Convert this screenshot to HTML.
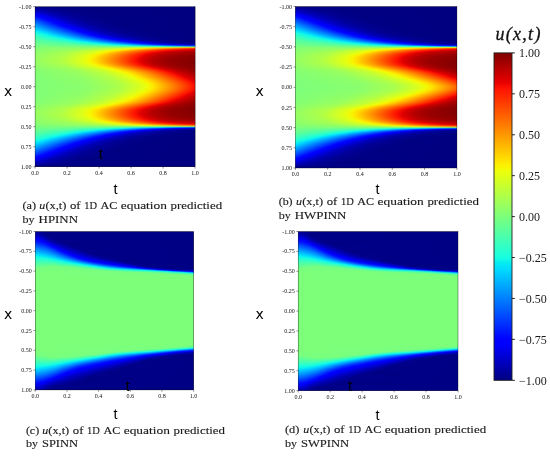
<!DOCTYPE html>
<html lang="en"><head><meta charset="utf-8"><title>u(x,t) of 1D AC equation</title>
<style>html,body{margin:0;padding:0;background:#fff}svg{display:block}</style></head>
<body><svg width="550" height="457" viewBox="0 0 550 457">
<defs><linearGradient id="a0"><stop offset="0" stop-color="#000084"/><stop offset="1" stop-color="#000080"/></linearGradient><linearGradient id="a1"><stop offset="0" stop-color="#000092"/><stop offset=".156" stop-color="#000084"/><stop offset="1" stop-color="#000080"/></linearGradient><linearGradient id="a2"><stop offset="0" stop-color="#0000a4"/><stop offset=".1" stop-color="#00008d"/><stop offset=".294" stop-color="#000080"/><stop offset="1" stop-color="#000080"/></linearGradient><linearGradient id="a3"><stop offset="0" stop-color="#0000b6"/><stop offset=".088" stop-color="#000096"/><stop offset=".231" stop-color="#000084"/><stop offset="1" stop-color="#000080"/></linearGradient><linearGradient id="a4"><stop offset="0" stop-color="#0000c4"/><stop offset=".1" stop-color="#00009b"/><stop offset=".219" stop-color="#000089"/><stop offset=".406" stop-color="#000080"/><stop offset="1" stop-color="#000080"/></linearGradient><linearGradient id="a5"><stop offset="0" stop-color="#0000d6"/><stop offset=".094" stop-color="#0000a4"/><stop offset=".225" stop-color="#000089"/><stop offset=".45" stop-color="#000080"/><stop offset="1" stop-color="#000080"/></linearGradient><linearGradient id="a6"><stop offset="0" stop-color="#0000e8"/><stop offset=".075" stop-color="#0000b6"/><stop offset=".169" stop-color="#000096"/><stop offset=".312" stop-color="#000084"/><stop offset="1" stop-color="#000080"/></linearGradient><linearGradient id="a7"><stop offset="0" stop-color="#0000fa"/><stop offset=".088" stop-color="#0000bb"/><stop offset=".194" stop-color="#000096"/><stop offset=".325" stop-color="#000084"/><stop offset="1" stop-color="#000080"/></linearGradient><linearGradient id="a8"><stop offset="0" stop-color="#0000ff"/><stop offset=".025" stop-color="#0000f6"/><stop offset=".1" stop-color="#0000bf"/><stop offset=".213" stop-color="#000096"/><stop offset=".356" stop-color="#000084"/><stop offset="1" stop-color="#000080"/></linearGradient><linearGradient id="a9"><stop offset="0" stop-color="#000cff"/><stop offset=".019" stop-color="#0000ff"/><stop offset=".044" stop-color="#0000f6"/><stop offset=".144" stop-color="#0000b2"/><stop offset=".256" stop-color="#000092"/><stop offset=".381" stop-color="#000084"/><stop offset="1" stop-color="#000080"/></linearGradient><linearGradient id="a10"><stop offset="0" stop-color="#001cff"/><stop offset=".038" stop-color="#0000ff"/><stop offset=".062" stop-color="#0000f6"/><stop offset=".144" stop-color="#0000bb"/><stop offset=".25" stop-color="#000096"/><stop offset=".381" stop-color="#000084"/><stop offset="1" stop-color="#000080"/></linearGradient><linearGradient id="a11"><stop offset="0" stop-color="#002cff"/><stop offset=".05" stop-color="#0001ff"/><stop offset=".075" stop-color="#0000fa"/><stop offset=".163" stop-color="#0000bb"/><stop offset=".263" stop-color="#000096"/><stop offset=".406" stop-color="#000084"/><stop offset="1" stop-color="#000080"/></linearGradient><linearGradient id="a12"><stop offset="0" stop-color="#003cff"/><stop offset=".069" stop-color="#0000ff"/><stop offset=".088" stop-color="#0000fe"/><stop offset=".188" stop-color="#0000b6"/><stop offset=".3" stop-color="#000092"/><stop offset=".45" stop-color="#000084"/><stop offset="1" stop-color="#000080"/></linearGradient><linearGradient id="a13"><stop offset="0" stop-color="#004cff"/><stop offset=".081" stop-color="#0001ff"/><stop offset=".106" stop-color="#0000fa"/><stop offset=".213" stop-color="#0000b2"/><stop offset=".319" stop-color="#000092"/><stop offset=".456" stop-color="#000084"/><stop offset="1" stop-color="#000080"/></linearGradient><linearGradient id="a14"><stop offset="0" stop-color="#005cff"/><stop offset=".1" stop-color="#0001ff"/><stop offset=".125" stop-color="#0000fa"/><stop offset=".213" stop-color="#0000bb"/><stop offset=".312" stop-color="#000096"/><stop offset=".456" stop-color="#000084"/><stop offset="1" stop-color="#000080"/></linearGradient><linearGradient id="a15"><stop offset="0" stop-color="#006cff"/><stop offset=".113" stop-color="#0005ff"/><stop offset=".138" stop-color="#0000fa"/><stop offset=".238" stop-color="#0000b6"/><stop offset=".331" stop-color="#000096"/><stop offset=".475" stop-color="#000084"/><stop offset="1" stop-color="#000080"/></linearGradient><linearGradient id="a16"><stop offset="0" stop-color="#007cff"/><stop offset=".131" stop-color="#0001ff"/><stop offset=".156" stop-color="#0000fa"/><stop offset=".244" stop-color="#0000bb"/><stop offset=".35" stop-color="#000096"/><stop offset=".481" stop-color="#000084"/><stop offset="1" stop-color="#000080"/></linearGradient><linearGradient id="a17"><stop offset="0" stop-color="#008cff"/><stop offset=".144" stop-color="#0005ff"/><stop offset=".175" stop-color="#0000fa"/><stop offset=".269" stop-color="#0000b6"/><stop offset=".381" stop-color="#000092"/><stop offset=".531" stop-color="#000084"/><stop offset="1" stop-color="#000080"/></linearGradient><linearGradient id="a18"><stop offset="0" stop-color="#009cff"/><stop offset=".163" stop-color="#0001ff"/><stop offset=".188" stop-color="#0000fa"/><stop offset=".288" stop-color="#0000b6"/><stop offset=".381" stop-color="#000096"/><stop offset=".525" stop-color="#000084"/><stop offset="1" stop-color="#000080"/></linearGradient><linearGradient id="a19"><stop offset="0" stop-color="#00acff"/><stop offset=".181" stop-color="#0001ff"/><stop offset=".206" stop-color="#0000fa"/><stop offset=".294" stop-color="#0000bb"/><stop offset=".4" stop-color="#000096"/><stop offset=".544" stop-color="#000084"/><stop offset="1" stop-color="#000080"/></linearGradient><linearGradient id="a20"><stop offset="0" stop-color="#00b8ff"/><stop offset=".131" stop-color="#0040ff"/><stop offset=".2" stop-color="#0001ff"/><stop offset=".225" stop-color="#0000fa"/><stop offset=".312" stop-color="#0000bb"/><stop offset=".4" stop-color="#00009b"/><stop offset=".506" stop-color="#000089"/><stop offset=".706" stop-color="#000080"/><stop offset="1" stop-color="#000080"/></linearGradient><linearGradient id="a21"><stop offset="0" stop-color="#00c8ff"/><stop offset=".106" stop-color="#0069ff"/><stop offset=".219" stop-color="#0001ff"/><stop offset=".244" stop-color="#0000fa"/><stop offset=".338" stop-color="#0000b6"/><stop offset=".438" stop-color="#000096"/><stop offset=".569" stop-color="#000084"/><stop offset="1" stop-color="#000080"/></linearGradient><linearGradient id="a22"><stop offset="0" stop-color="#00d8ff"/><stop offset=".125" stop-color="#0068ff"/><stop offset=".238" stop-color="#0000ff"/><stop offset=".256" stop-color="#0000fe"/><stop offset=".356" stop-color="#0000b6"/><stop offset=".469" stop-color="#000092"/><stop offset=".619" stop-color="#000084"/><stop offset="1" stop-color="#000080"/></linearGradient><linearGradient id="a23"><stop offset="0" stop-color="#00e4f8"/><stop offset=".056" stop-color="#00b9ff"/><stop offset=".256" stop-color="#0000ff"/><stop offset=".275" stop-color="#0000fe"/><stop offset=".375" stop-color="#0000b6"/><stop offset=".488" stop-color="#000092"/><stop offset=".638" stop-color="#000084"/><stop offset="1" stop-color="#000080"/></linearGradient><linearGradient id="a24"><stop offset="0" stop-color="#09f0ee"/><stop offset=".044" stop-color="#00d4ff"/><stop offset=".188" stop-color="#0051ff"/><stop offset=".275" stop-color="#0001ff"/><stop offset=".3" stop-color="#0000fa"/><stop offset=".388" stop-color="#0000bb"/><stop offset=".475" stop-color="#00009b"/><stop offset=".581" stop-color="#000089"/><stop offset=".781" stop-color="#000080"/><stop offset="1" stop-color="#000080"/></linearGradient><linearGradient id="a25"><stop offset="0" stop-color="#13fce4"/><stop offset=".05" stop-color="#00ddfe"/><stop offset=".156" stop-color="#0084ff"/><stop offset=".294" stop-color="#0001ff"/><stop offset=".319" stop-color="#0000fa"/><stop offset=".406" stop-color="#0000bb"/><stop offset=".513" stop-color="#000096"/><stop offset=".656" stop-color="#000084"/><stop offset="1" stop-color="#000080"/></linearGradient><linearGradient id="a26"><stop offset="0" stop-color="#1fffd7"/><stop offset=".031" stop-color="#0ff8e8"/><stop offset=".075" stop-color="#00dcfe"/><stop offset=".206" stop-color="#0068ff"/><stop offset=".306" stop-color="#0009ff"/><stop offset=".338" stop-color="#0000fa"/><stop offset=".438" stop-color="#0000b6"/><stop offset=".55" stop-color="#000092"/><stop offset=".7" stop-color="#000084"/><stop offset="1" stop-color="#000080"/></linearGradient><linearGradient id="a27"><stop offset="0" stop-color="#29ffce"/><stop offset=".056" stop-color="#0ff8e8"/><stop offset=".094" stop-color="#00ddfe"/><stop offset=".2" stop-color="#0084ff"/><stop offset=".338" stop-color="#0001ff"/><stop offset=".363" stop-color="#0000fa"/><stop offset=".444" stop-color="#0000bf"/><stop offset=".556" stop-color="#000096"/><stop offset=".7" stop-color="#000084"/><stop offset="1" stop-color="#000080"/></linearGradient><linearGradient id="a28"><stop offset="0" stop-color="#30ffc7"/><stop offset=".069" stop-color="#13fce4"/><stop offset=".119" stop-color="#00dcfe"/><stop offset=".231" stop-color="#007cff"/><stop offset=".363" stop-color="#0001ff"/><stop offset=".388" stop-color="#0000fa"/><stop offset=".475" stop-color="#0000bb"/><stop offset=".581" stop-color="#000096"/><stop offset=".725" stop-color="#000084"/><stop offset="1" stop-color="#000080"/></linearGradient><linearGradient id="a29"><stop offset="0" stop-color="#39ffbe"/><stop offset=".094" stop-color="#13fce4"/><stop offset=".144" stop-color="#00ddfe"/><stop offset=".231" stop-color="#0094ff"/><stop offset=".388" stop-color="#0001ff"/><stop offset=".413" stop-color="#0000fa"/><stop offset=".494" stop-color="#0000bf"/><stop offset=".606" stop-color="#000096"/><stop offset=".75" stop-color="#000084"/><stop offset="1" stop-color="#000080"/></linearGradient><linearGradient id="a30"><stop offset="0" stop-color="#43ffb4"/><stop offset=".125" stop-color="#12fce4"/><stop offset=".175" stop-color="#00d9ff"/><stop offset=".281" stop-color="#0080ff"/><stop offset=".406" stop-color="#0009ff"/><stop offset=".438" stop-color="#0000fe"/><stop offset=".537" stop-color="#0000b6"/><stop offset=".638" stop-color="#000096"/><stop offset=".769" stop-color="#000084"/><stop offset="1" stop-color="#000080"/></linearGradient><linearGradient id="a31"><stop offset="0" stop-color="#49ffad"/><stop offset=".125" stop-color="#1fffd7"/><stop offset=".163" stop-color="#0ff8e7"/><stop offset=".206" stop-color="#00d9ff"/><stop offset=".319" stop-color="#0079ff"/><stop offset=".444" stop-color="#0001ff"/><stop offset=".469" stop-color="#0000fa"/><stop offset=".569" stop-color="#0000b6"/><stop offset=".669" stop-color="#000096"/><stop offset=".8" stop-color="#000084"/><stop offset="1" stop-color="#000080"/></linearGradient><linearGradient id="a32"><stop offset="0" stop-color="#50ffa7"/><stop offset=".119" stop-color="#30ffc7"/><stop offset=".188" stop-color="#13fce4"/><stop offset=".238" stop-color="#00d9ff"/><stop offset=".344" stop-color="#0080ff"/><stop offset=".469" stop-color="#0009ff"/><stop offset=".5" stop-color="#0000fe"/><stop offset=".594" stop-color="#0000bb"/><stop offset=".7" stop-color="#000096"/><stop offset=".844" stop-color="#000084"/><stop offset="1" stop-color="#000080"/></linearGradient><linearGradient id="a33"><stop offset="0" stop-color="#59ff9d"/><stop offset=".156" stop-color="#30ffc7"/><stop offset=".225" stop-color="#13fce4"/><stop offset=".275" stop-color="#00d9ff"/><stop offset=".363" stop-color="#0090ff"/><stop offset=".506" stop-color="#0009ff"/><stop offset=".537" stop-color="#0000fe"/><stop offset=".631" stop-color="#0000bb"/><stop offset=".738" stop-color="#000096"/><stop offset=".881" stop-color="#000084"/><stop offset="1" stop-color="#000080"/></linearGradient><linearGradient id="a34"><stop offset="0" stop-color="#60ff97"/><stop offset=".181" stop-color="#36ffc1"/><stop offset=".263" stop-color="#13fce4"/><stop offset=".312" stop-color="#00dcfe"/><stop offset=".425" stop-color="#007dff"/><stop offset=".544" stop-color="#000dff"/><stop offset=".562" stop-color="#0001ff"/><stop offset=".588" stop-color="#0000f5"/><stop offset=".675" stop-color="#0000bb"/><stop offset=".781" stop-color="#000096"/><stop offset=".925" stop-color="#000084"/><stop offset="1" stop-color="#000080"/></linearGradient><linearGradient id="a35"><stop offset="0" stop-color="#66ff90"/><stop offset=".188" stop-color="#43ffb4"/><stop offset=".312" stop-color="#13fce4"/><stop offset=".363" stop-color="#00dcfe"/><stop offset=".5" stop-color="#0065ff"/><stop offset=".606" stop-color="#0001ff"/><stop offset=".631" stop-color="#0001fa"/><stop offset=".725" stop-color="#0000bb"/><stop offset=".819" stop-color="#00009b"/><stop offset=".938" stop-color="#000089"/><stop offset="1" stop-color="#000084"/></linearGradient><linearGradient id="a36"><stop offset="0" stop-color="#6aff8d"/><stop offset=".194" stop-color="#50ffa7"/><stop offset=".344" stop-color="#1fffd7"/><stop offset=".375" stop-color="#10f8e7"/><stop offset=".419" stop-color="#01dcfd"/><stop offset=".525" stop-color="#0085ff"/><stop offset=".663" stop-color="#0006ff"/><stop offset=".694" stop-color="#0001fa"/><stop offset=".781" stop-color="#0000c0"/><stop offset=".888" stop-color="#00009b"/><stop offset="1" stop-color="#000089"/></linearGradient><linearGradient id="a37"><stop offset="0" stop-color="#70ff87"/><stop offset=".219" stop-color="#59ff9d"/><stop offset=".388" stop-color="#2cffca"/><stop offset=".444" stop-color="#13fce4"/><stop offset=".494" stop-color="#01dcfd"/><stop offset=".6" stop-color="#0085ff"/><stop offset=".744" stop-color="#0006fe"/><stop offset=".775" stop-color="#0001f9"/><stop offset=".844" stop-color="#0000cd"/><stop offset=".969" stop-color="#0000a0"/><stop offset="1" stop-color="#000097"/></linearGradient><linearGradient id="a38"><stop offset="0" stop-color="#73ff83"/><stop offset=".238" stop-color="#66ff90"/><stop offset=".425" stop-color="#43ffb4"/><stop offset=".556" stop-color="#13fbe4"/><stop offset=".606" stop-color="#01d8fe"/><stop offset=".719" stop-color="#0181fe"/><stop offset=".831" stop-color="#0027fe"/><stop offset=".888" stop-color="#0003fe"/><stop offset=".919" stop-color="#0003f9"/><stop offset="1" stop-color="#0002d1"/></linearGradient><linearGradient id="a39"><stop offset="0" stop-color="#7aff7d"/><stop offset=".388" stop-color="#6dff8a"/><stop offset=".6" stop-color="#4cfeaa"/><stop offset=".769" stop-color="#15fae2"/><stop offset=".825" stop-color="#03def8"/><stop offset=".969" stop-color="#0394fb"/><stop offset="1" stop-color="#0488fb"/></linearGradient><linearGradient id="a40"><stop offset="0" stop-color="#7dff7a"/><stop offset=".5" stop-color="#8aff6d"/><stop offset=".794" stop-color="#affe48"/><stop offset="1" stop-color="#d8fa20"/></linearGradient><linearGradient id="a41"><stop offset="0" stop-color="#80ff77"/><stop offset=".312" stop-color="#90ff66"/><stop offset=".513" stop-color="#b4ff43"/><stop offset=".669" stop-color="#edfe0a"/><stop offset=".713" stop-color="#fee501"/><stop offset=".944" stop-color="#fe6201"/><stop offset="1" stop-color="#fe5000"/></linearGradient><linearGradient id="a42"><stop offset="0" stop-color="#83ff73"/><stop offset=".263" stop-color="#97ff60"/><stop offset=".425" stop-color="#baff3d"/><stop offset=".562" stop-color="#f1fb06"/><stop offset=".606" stop-color="#fee201"/><stop offset=".831" stop-color="#ff4400"/><stop offset=".95" stop-color="#fa1000"/><stop offset="1" stop-color="#ec0500"/></linearGradient><linearGradient id="a43"><stop offset="0" stop-color="#87ff70"/><stop offset=".219" stop-color="#9aff5d"/><stop offset=".381" stop-color="#c1ff36"/><stop offset=".494" stop-color="#f1fc06"/><stop offset=".537" stop-color="#ffe200"/><stop offset=".775" stop-color="#ff3100"/><stop offset=".844" stop-color="#fa0f00"/><stop offset=".9" stop-color="#df0100"/><stop offset="1" stop-color="#c90000"/></linearGradient><linearGradient id="a44"><stop offset="0" stop-color="#8aff6d"/><stop offset=".213" stop-color="#a1ff56"/><stop offset=".381" stop-color="#d1ff26"/><stop offset=".45" stop-color="#f1fc06"/><stop offset=".494" stop-color="#ffdf00"/><stop offset=".731" stop-color="#ff2900"/><stop offset=".775" stop-color="#fa0f00"/><stop offset=".819" stop-color="#e40000"/><stop offset=".913" stop-color="#c40000"/><stop offset="1" stop-color="#b60000"/></linearGradient><linearGradient id="a45"><stop offset="0" stop-color="#8aff6d"/><stop offset=".213" stop-color="#a7ff50"/><stop offset=".363" stop-color="#d7ff20"/><stop offset=".419" stop-color="#f1fc06"/><stop offset=".45" stop-color="#ffe600"/><stop offset=".588" stop-color="#ff7a00"/><stop offset=".706" stop-color="#ff1e00"/><stop offset=".731" stop-color="#fa0f00"/><stop offset=".775" stop-color="#df0000"/><stop offset=".875" stop-color="#bb0000"/><stop offset="1" stop-color="#a80000"/></linearGradient><linearGradient id="a46"><stop offset="0" stop-color="#8dff6a"/><stop offset=".188" stop-color="#a7ff50"/><stop offset=".338" stop-color="#d7ff1f"/><stop offset=".394" stop-color="#f1fc06"/><stop offset=".425" stop-color="#ffe600"/><stop offset=".556" stop-color="#ff7e00"/><stop offset=".688" stop-color="#ff1700"/><stop offset=".731" stop-color="#e40000"/><stop offset=".825" stop-color="#bb0000"/><stop offset=".944" stop-color="#a40000"/><stop offset="1" stop-color="#9f0000"/></linearGradient><linearGradient id="a47"><stop offset="0" stop-color="#8dff6a"/><stop offset=".194" stop-color="#adff49"/><stop offset=".331" stop-color="#deff19"/><stop offset=".381" stop-color="#f4f803"/><stop offset=".406" stop-color="#ffe600"/><stop offset=".55" stop-color="#ff7300"/><stop offset=".65" stop-color="#ff2200"/><stop offset=".675" stop-color="#fa0f00"/><stop offset=".713" stop-color="#e30000"/><stop offset=".788" stop-color="#bb0000"/><stop offset=".888" stop-color="#a40000"/><stop offset="1" stop-color="#960000"/></linearGradient><linearGradient id="a48"><stop offset="0" stop-color="#90ff66"/><stop offset=".181" stop-color="#adff49"/><stop offset=".319" stop-color="#deff19"/><stop offset=".363" stop-color="#f4f803"/><stop offset=".406" stop-color="#ffdb00"/><stop offset=".513" stop-color="#ff8500"/><stop offset=".638" stop-color="#ff1e00"/><stop offset=".656" stop-color="#fe1300"/><stop offset=".688" stop-color="#e40000"/><stop offset=".788" stop-color="#b20000"/><stop offset=".906" stop-color="#9b0000"/><stop offset="1" stop-color="#920000"/></linearGradient><linearGradient id="a49"><stop offset="0" stop-color="#90ff66"/><stop offset=".181" stop-color="#b1ff46"/><stop offset=".325" stop-color="#e4ff13"/><stop offset=".356" stop-color="#f4f802"/><stop offset=".381" stop-color="#ffe600"/><stop offset=".494" stop-color="#ff8d00"/><stop offset=".625" stop-color="#ff1e00"/><stop offset=".644" stop-color="#fe1300"/><stop offset=".675" stop-color="#e40000"/><stop offset=".769" stop-color="#b20000"/><stop offset=".894" stop-color="#960000"/><stop offset="1" stop-color="#8d0000"/></linearGradient><linearGradient id="a50"><stop offset="0" stop-color="#90ff66"/><stop offset=".188" stop-color="#b4ff43"/><stop offset=".338" stop-color="#eeff09"/><stop offset=".363" stop-color="#feed00"/><stop offset=".481" stop-color="#ff9100"/><stop offset=".613" stop-color="#ff2200"/><stop offset=".638" stop-color="#fa0f00"/><stop offset=".675" stop-color="#df0000"/><stop offset=".756" stop-color="#b20000"/><stop offset=".85" stop-color="#9b0000"/><stop offset=".988" stop-color="#8d0000"/><stop offset="1" stop-color="#8d0000"/></linearGradient><linearGradient id="a51"><stop offset="0" stop-color="#94ff63"/><stop offset=".181" stop-color="#b4ff43"/><stop offset=".319" stop-color="#e7ff0f"/><stop offset=".356" stop-color="#fbf100"/><stop offset=".494" stop-color="#ff8200"/><stop offset=".625" stop-color="#ff1300"/><stop offset=".663" stop-color="#e40000"/><stop offset=".719" stop-color="#bf0000"/><stop offset=".825" stop-color="#9b0000"/><stop offset=".994" stop-color="#890000"/><stop offset="1" stop-color="#890000"/></linearGradient><linearGradient id="a52"><stop offset="0" stop-color="#94ff63"/><stop offset=".169" stop-color="#b1ff46"/><stop offset=".294" stop-color="#deff19"/><stop offset=".338" stop-color="#f4f802"/><stop offset=".375" stop-color="#ffe200"/><stop offset=".55" stop-color="#ff4e00"/><stop offset=".625" stop-color="#ff1300"/><stop offset=".656" stop-color="#e40000"/><stop offset=".731" stop-color="#b60000"/><stop offset=".844" stop-color="#960000"/><stop offset=".994" stop-color="#890000"/><stop offset="1" stop-color="#890000"/></linearGradient><linearGradient id="a53"><stop offset="0" stop-color="#94ff63"/><stop offset=".169" stop-color="#b1ff46"/><stop offset=".294" stop-color="#deff19"/><stop offset=".338" stop-color="#f4f802"/><stop offset=".375" stop-color="#ffdf00"/><stop offset=".481" stop-color="#ff8900"/><stop offset=".606" stop-color="#ff1e00"/><stop offset=".631" stop-color="#f60b00"/><stop offset=".663" stop-color="#df0000"/><stop offset=".738" stop-color="#b20000"/><stop offset=".856" stop-color="#920000"/><stop offset="1" stop-color="#840000"/></linearGradient><linearGradient id="a54"><stop offset="0" stop-color="#94ff63"/><stop offset=".169" stop-color="#b1ff46"/><stop offset=".294" stop-color="#deff19"/><stop offset=".338" stop-color="#f1fc06"/><stop offset=".369" stop-color="#ffe600"/><stop offset=".5" stop-color="#ff7a00"/><stop offset=".625" stop-color="#fa0f00"/><stop offset=".663" stop-color="#df0000"/><stop offset=".738" stop-color="#b20000"/><stop offset=".838" stop-color="#960000"/><stop offset=".956" stop-color="#890000"/><stop offset="1" stop-color="#840000"/></linearGradient><linearGradient id="a55"><stop offset="0" stop-color="#94ff63"/><stop offset=".163" stop-color="#adff49"/><stop offset=".306" stop-color="#e1ff16"/><stop offset=".344" stop-color="#f4f802"/><stop offset=".381" stop-color="#ffdf00"/><stop offset=".5" stop-color="#ff7e00"/><stop offset=".625" stop-color="#ff1300"/><stop offset=".663" stop-color="#e40000"/><stop offset=".731" stop-color="#b60000"/><stop offset=".831" stop-color="#960000"/><stop offset=".956" stop-color="#890000"/><stop offset="1" stop-color="#840000"/></linearGradient><linearGradient id="a56"><stop offset="0" stop-color="#90ff66"/><stop offset=".181" stop-color="#b1ff46"/><stop offset=".319" stop-color="#e4ff13"/><stop offset=".35" stop-color="#f4f802"/><stop offset=".388" stop-color="#ffdf00"/><stop offset=".494" stop-color="#ff8900"/><stop offset=".619" stop-color="#ff1e00"/><stop offset=".644" stop-color="#f60b00"/><stop offset=".675" stop-color="#df0000"/><stop offset=".75" stop-color="#b20000"/><stop offset=".844" stop-color="#960000"/><stop offset=".95" stop-color="#890000"/><stop offset="1" stop-color="#840000"/></linearGradient><linearGradient id="a57"><stop offset="0" stop-color="#90ff66"/><stop offset=".181" stop-color="#adff49"/><stop offset=".325" stop-color="#e1ff16"/><stop offset=".363" stop-color="#f4f803"/><stop offset=".406" stop-color="#ffdb00"/><stop offset=".556" stop-color="#ff5d00"/><stop offset=".65" stop-color="#fa0f00"/><stop offset=".688" stop-color="#df0000"/><stop offset=".75" stop-color="#b60000"/><stop offset=".85" stop-color="#960000"/><stop offset="1" stop-color="#840000"/></linearGradient><linearGradient id="a58"><stop offset="0" stop-color="#8dff6a"/><stop offset=".219" stop-color="#b4ff43"/><stop offset=".356" stop-color="#e7ff0f"/><stop offset=".388" stop-color="#f8f500"/><stop offset=".425" stop-color="#ffdb00"/><stop offset=".656" stop-color="#ff1600"/><stop offset=".694" stop-color="#e40000"/><stop offset=".775" stop-color="#b20000"/><stop offset=".869" stop-color="#960000"/><stop offset=".975" stop-color="#890000"/><stop offset="1" stop-color="#840000"/></linearGradient><linearGradient id="a59"><stop offset="0" stop-color="#8dff6a"/><stop offset=".194" stop-color="#a7ff50"/><stop offset=".356" stop-color="#deff19"/><stop offset=".4" stop-color="#f4f803"/><stop offset=".444" stop-color="#ffdb00"/><stop offset=".594" stop-color="#ff5d00"/><stop offset=".688" stop-color="#fa0f00"/><stop offset=".725" stop-color="#da0000"/><stop offset=".819" stop-color="#a90000"/><stop offset=".913" stop-color="#920000"/><stop offset="1" stop-color="#840000"/></linearGradient><linearGradient id="a60"><stop offset="0" stop-color="#8aff6d"/><stop offset=".2" stop-color="#a4ff53"/><stop offset=".344" stop-color="#ceff29"/><stop offset=".419" stop-color="#f1fc06"/><stop offset=".463" stop-color="#ffde00"/><stop offset=".581" stop-color="#ff7e00"/><stop offset=".7" stop-color="#ff1700"/><stop offset=".738" stop-color="#e40000"/><stop offset=".819" stop-color="#b20000"/><stop offset=".931" stop-color="#920000"/><stop offset="1" stop-color="#890000"/></linearGradient><linearGradient id="a61"><stop offset="0" stop-color="#8aff6d"/><stop offset=".2" stop-color="#9dff59"/><stop offset=".363" stop-color="#caff2c"/><stop offset=".45" stop-color="#f1fc06"/><stop offset=".481" stop-color="#ffe600"/><stop offset=".606" stop-color="#ff7e00"/><stop offset=".731" stop-color="#fe1300"/><stop offset=".775" stop-color="#db0000"/><stop offset=".869" stop-color="#a90000"/><stop offset=".981" stop-color="#8d0000"/><stop offset="1" stop-color="#890000"/></linearGradient><linearGradient id="a62"><stop offset="0" stop-color="#87ff70"/><stop offset=".225" stop-color="#9dff59"/><stop offset=".381" stop-color="#c7ff30"/><stop offset=".475" stop-color="#f1fc06"/><stop offset=".519" stop-color="#ffde00"/><stop offset=".65" stop-color="#ff6f00"/><stop offset=".763" stop-color="#fa0f00"/><stop offset=".8" stop-color="#df0000"/><stop offset=".881" stop-color="#ad0000"/><stop offset=".988" stop-color="#920000"/><stop offset="1" stop-color="#8d0000"/></linearGradient><linearGradient id="a63"><stop offset="0" stop-color="#84ff73"/><stop offset=".256" stop-color="#9dff59"/><stop offset=".419" stop-color="#caff2c"/><stop offset=".5" stop-color="#f1fc06"/><stop offset=".544" stop-color="#ffde00"/><stop offset=".656" stop-color="#ff8200"/><stop offset=".781" stop-color="#ff1600"/><stop offset=".819" stop-color="#e40000"/><stop offset=".888" stop-color="#b60000"/><stop offset=".988" stop-color="#960000"/><stop offset="1" stop-color="#920000"/></linearGradient><linearGradient id="a64"><stop offset="0" stop-color="#83ff73"/><stop offset=".263" stop-color="#9aff5d"/><stop offset=".425" stop-color="#c4ff33"/><stop offset=".525" stop-color="#f1fc06"/><stop offset=".569" stop-color="#ffde00"/><stop offset=".694" stop-color="#ff7700"/><stop offset=".8" stop-color="#ff1a00"/><stop offset=".844" stop-color="#e30000"/><stop offset=".913" stop-color="#b60000"/><stop offset="1" stop-color="#960000"/></linearGradient><linearGradient id="a65"><stop offset="0" stop-color="#83ff73"/><stop offset=".231" stop-color="#94ff63"/><stop offset=".406" stop-color="#b7ff40"/><stop offset=".525" stop-color="#e7ff0f"/><stop offset=".569" stop-color="#feed00"/><stop offset=".694" stop-color="#ff8900"/><stop offset=".825" stop-color="#ff1600"/><stop offset=".863" stop-color="#e40000"/><stop offset=".931" stop-color="#b60000"/><stop offset="1" stop-color="#9b0000"/></linearGradient><linearGradient id="a66"><stop offset="0" stop-color="#83ff73"/><stop offset=".25" stop-color="#94ff63"/><stop offset=".431" stop-color="#baff3c"/><stop offset=".562" stop-color="#f1fc06"/><stop offset=".606" stop-color="#ffde00"/><stop offset=".725" stop-color="#ff7a00"/><stop offset=".85" stop-color="#fa0f00"/><stop offset=".888" stop-color="#df0000"/><stop offset=".95" stop-color="#b60000"/><stop offset="1" stop-color="#a40000"/></linearGradient><linearGradient id="a67"><stop offset="0" stop-color="#83ff73"/><stop offset=".263" stop-color="#94ff63"/><stop offset=".438" stop-color="#b7ff40"/><stop offset=".556" stop-color="#e7ff0f"/><stop offset=".6" stop-color="#feed00"/><stop offset=".713" stop-color="#ff9400"/><stop offset=".856" stop-color="#ff1600"/><stop offset=".894" stop-color="#e40000"/><stop offset=".975" stop-color="#b20000"/><stop offset="1" stop-color="#a80000"/></linearGradient><linearGradient id="a68"><stop offset="0" stop-color="#80ff76"/><stop offset=".3" stop-color="#97ff60"/><stop offset=".475" stop-color="#beff39"/><stop offset=".594" stop-color="#f1fc06"/><stop offset=".625" stop-color="#ffe600"/><stop offset=".744" stop-color="#ff8500"/><stop offset=".875" stop-color="#fe1300"/><stop offset=".913" stop-color="#df0000"/><stop offset="1" stop-color="#ad0000"/></linearGradient><linearGradient id="a69"><stop offset="0" stop-color="#80ff77"/><stop offset=".294" stop-color="#94ff63"/><stop offset=".475" stop-color="#baff3c"/><stop offset=".606" stop-color="#f1fc06"/><stop offset=".644" stop-color="#ffe200"/><stop offset=".769" stop-color="#ff7a00"/><stop offset=".881" stop-color="#ff1a00"/><stop offset=".925" stop-color="#e30000"/><stop offset=".994" stop-color="#b60000"/><stop offset="1" stop-color="#b60000"/></linearGradient><linearGradient id="a70"><stop offset="0" stop-color="#80ff77"/><stop offset=".306" stop-color="#94ff63"/><stop offset=".488" stop-color="#baff3c"/><stop offset=".606" stop-color="#ebff0c"/><stop offset=".644" stop-color="#feed00"/><stop offset=".763" stop-color="#ff8d00"/><stop offset=".9" stop-color="#ff1600"/><stop offset=".938" stop-color="#e40000"/><stop offset="1" stop-color="#bb0000"/></linearGradient><linearGradient id="a71"><stop offset="0" stop-color="#80ff77"/><stop offset=".294" stop-color="#90ff66"/><stop offset=".481" stop-color="#b4ff43"/><stop offset=".606" stop-color="#e4ff13"/><stop offset=".638" stop-color="#f4f803"/><stop offset=".675" stop-color="#ffdf00"/><stop offset=".781" stop-color="#ff8900"/><stop offset=".913" stop-color="#ff1600"/><stop offset=".95" stop-color="#e40000"/><stop offset="1" stop-color="#c40000"/></linearGradient><linearGradient id="a72"><stop offset="0" stop-color="#80ff77"/><stop offset=".306" stop-color="#90ff66"/><stop offset=".494" stop-color="#b4ff43"/><stop offset=".631" stop-color="#e8ff0f"/><stop offset=".656" stop-color="#f7f500"/><stop offset=".713" stop-color="#ffcf00"/><stop offset=".931" stop-color="#fe1300"/><stop offset=".963" stop-color="#e40000"/><stop offset="1" stop-color="#cd0000"/></linearGradient><linearGradient id="a73"><stop offset="0" stop-color="#80ff77"/><stop offset=".319" stop-color="#90ff66"/><stop offset=".513" stop-color="#b4ff43"/><stop offset=".663" stop-color="#f1fc06"/><stop offset=".694" stop-color="#ffe600"/><stop offset=".812" stop-color="#ff8500"/><stop offset=".944" stop-color="#ff1300"/><stop offset=".975" stop-color="#e40000"/><stop offset="1" stop-color="#d10000"/></linearGradient><linearGradient id="a74"><stop offset="0" stop-color="#80ff77"/><stop offset=".3" stop-color="#8dff6a"/><stop offset=".5" stop-color="#adff49"/><stop offset=".631" stop-color="#deff19"/><stop offset=".675" stop-color="#f1fc06"/><stop offset=".706" stop-color="#ffe600"/><stop offset=".831" stop-color="#ff7e00"/><stop offset=".956" stop-color="#ff1300"/><stop offset=".988" stop-color="#e40000"/><stop offset="1" stop-color="#da0000"/></linearGradient><linearGradient id="a75"><stop offset="0" stop-color="#80ff77"/><stop offset=".312" stop-color="#8dff6a"/><stop offset=".519" stop-color="#b1ff46"/><stop offset=".65" stop-color="#e1ff16"/><stop offset=".688" stop-color="#f4f802"/><stop offset=".731" stop-color="#ffdb00"/><stop offset=".85" stop-color="#ff7700"/><stop offset=".969" stop-color="#fe1300"/><stop offset="1" stop-color="#e40000"/></linearGradient><linearGradient id="a76"><stop offset="0" stop-color="#80ff77"/><stop offset=".319" stop-color="#8dff6a"/><stop offset=".519" stop-color="#adff49"/><stop offset=".669" stop-color="#e4ff12"/><stop offset=".7" stop-color="#f4f802"/><stop offset=".725" stop-color="#ffe600"/><stop offset=".831" stop-color="#ff9100"/><stop offset=".975" stop-color="#ff1300"/><stop offset="1" stop-color="#ed0400"/></linearGradient><linearGradient id="a77"><stop offset="0" stop-color="#80ff77"/><stop offset=".331" stop-color="#8dff6a"/><stop offset=".537" stop-color="#b1ff46"/><stop offset=".675" stop-color="#e4ff13"/><stop offset=".706" stop-color="#f4f802"/><stop offset=".744" stop-color="#ffde00"/><stop offset=".863" stop-color="#ff7a00"/><stop offset=".988" stop-color="#fa0f00"/><stop offset="1" stop-color="#f10800"/></linearGradient><linearGradient id="a78"><stop offset="0" stop-color="#80ff77"/><stop offset=".331" stop-color="#8dff6a"/><stop offset=".531" stop-color="#adff49"/><stop offset=".681" stop-color="#e4ff12"/><stop offset=".713" stop-color="#f4f802"/><stop offset=".738" stop-color="#ffe600"/><stop offset=".869" stop-color="#ff7a00"/><stop offset=".988" stop-color="#ff1300"/><stop offset="1" stop-color="#f60b00"/></linearGradient><linearGradient id="a79"><stop offset="0" stop-color="#80ff77"/><stop offset=".3" stop-color="#8aff6d"/><stop offset=".506" stop-color="#a7ff50"/><stop offset=".638" stop-color="#d1ff26"/><stop offset=".706" stop-color="#f1fc06"/><stop offset=".75" stop-color="#ffde00"/><stop offset=".875" stop-color="#ff7700"/><stop offset=".981" stop-color="#ff1a00"/><stop offset="1" stop-color="#f60b00"/></linearGradient><linearGradient id="a80"><stop offset="0" stop-color="#80ff77"/><stop offset=".3" stop-color="#8aff6d"/><stop offset=".506" stop-color="#a7ff50"/><stop offset=".638" stop-color="#d1ff26"/><stop offset=".706" stop-color="#f1fc06"/><stop offset=".75" stop-color="#ffde00"/><stop offset=".875" stop-color="#ff7700"/><stop offset=".981" stop-color="#ff1a00"/><stop offset="1" stop-color="#f60b00"/></linearGradient><linearGradient id="a81"><stop offset="0" stop-color="#80ff77"/><stop offset=".331" stop-color="#8dff6a"/><stop offset=".531" stop-color="#adff49"/><stop offset=".681" stop-color="#e4ff12"/><stop offset=".713" stop-color="#f4f802"/><stop offset=".738" stop-color="#ffe600"/><stop offset=".869" stop-color="#ff7a00"/><stop offset=".988" stop-color="#ff1300"/><stop offset="1" stop-color="#f60b00"/></linearGradient><linearGradient id="a82"><stop offset="0" stop-color="#80ff77"/><stop offset=".331" stop-color="#8dff6a"/><stop offset=".537" stop-color="#b1ff46"/><stop offset=".675" stop-color="#e4ff13"/><stop offset=".706" stop-color="#f4f802"/><stop offset=".744" stop-color="#ffde00"/><stop offset=".863" stop-color="#ff7a00"/><stop offset=".988" stop-color="#fa0f00"/><stop offset="1" stop-color="#f10800"/></linearGradient><linearGradient id="a83"><stop offset="0" stop-color="#80ff77"/><stop offset=".319" stop-color="#8dff6a"/><stop offset=".519" stop-color="#adff49"/><stop offset=".669" stop-color="#e4ff12"/><stop offset=".7" stop-color="#f4f802"/><stop offset=".725" stop-color="#ffe600"/><stop offset=".831" stop-color="#ff9100"/><stop offset=".975" stop-color="#ff1300"/><stop offset="1" stop-color="#ed0400"/></linearGradient><linearGradient id="a84"><stop offset="0" stop-color="#80ff77"/><stop offset=".312" stop-color="#8dff6a"/><stop offset=".519" stop-color="#b1ff46"/><stop offset=".65" stop-color="#e1ff16"/><stop offset=".688" stop-color="#f4f802"/><stop offset=".731" stop-color="#ffdb00"/><stop offset=".85" stop-color="#ff7700"/><stop offset=".969" stop-color="#fe1300"/><stop offset="1" stop-color="#e40000"/></linearGradient><linearGradient id="a85"><stop offset="0" stop-color="#80ff77"/><stop offset=".3" stop-color="#8dff6a"/><stop offset=".5" stop-color="#adff49"/><stop offset=".631" stop-color="#deff19"/><stop offset=".675" stop-color="#f1fc06"/><stop offset=".706" stop-color="#ffe600"/><stop offset=".831" stop-color="#ff7e00"/><stop offset=".956" stop-color="#ff1300"/><stop offset=".988" stop-color="#e40000"/><stop offset="1" stop-color="#da0000"/></linearGradient><linearGradient id="a86"><stop offset="0" stop-color="#80ff77"/><stop offset=".319" stop-color="#90ff66"/><stop offset=".513" stop-color="#b4ff43"/><stop offset=".663" stop-color="#f1fc06"/><stop offset=".694" stop-color="#ffe600"/><stop offset=".812" stop-color="#ff8500"/><stop offset=".944" stop-color="#ff1300"/><stop offset=".975" stop-color="#e40000"/><stop offset="1" stop-color="#d10000"/></linearGradient><linearGradient id="a87"><stop offset="0" stop-color="#80ff77"/><stop offset=".306" stop-color="#90ff66"/><stop offset=".494" stop-color="#b4ff43"/><stop offset=".631" stop-color="#e8ff0f"/><stop offset=".656" stop-color="#f7f500"/><stop offset=".713" stop-color="#ffcf00"/><stop offset=".931" stop-color="#fe1300"/><stop offset=".963" stop-color="#e40000"/><stop offset="1" stop-color="#cd0000"/></linearGradient><linearGradient id="a88"><stop offset="0" stop-color="#80ff77"/><stop offset=".294" stop-color="#90ff66"/><stop offset=".481" stop-color="#b4ff43"/><stop offset=".606" stop-color="#e4ff13"/><stop offset=".638" stop-color="#f4f803"/><stop offset=".675" stop-color="#ffdf00"/><stop offset=".781" stop-color="#ff8900"/><stop offset=".913" stop-color="#ff1600"/><stop offset=".95" stop-color="#e40000"/><stop offset="1" stop-color="#c40000"/></linearGradient><linearGradient id="a89"><stop offset="0" stop-color="#80ff77"/><stop offset=".306" stop-color="#94ff63"/><stop offset=".488" stop-color="#baff3c"/><stop offset=".606" stop-color="#ebff0c"/><stop offset=".644" stop-color="#feed00"/><stop offset=".763" stop-color="#ff8d00"/><stop offset=".9" stop-color="#ff1600"/><stop offset=".938" stop-color="#e40000"/><stop offset="1" stop-color="#bb0000"/></linearGradient><linearGradient id="a90"><stop offset="0" stop-color="#80ff77"/><stop offset=".294" stop-color="#94ff63"/><stop offset=".475" stop-color="#baff3c"/><stop offset=".606" stop-color="#f1fc06"/><stop offset=".644" stop-color="#ffe200"/><stop offset=".769" stop-color="#ff7a00"/><stop offset=".881" stop-color="#ff1a00"/><stop offset=".925" stop-color="#e30000"/><stop offset=".994" stop-color="#b60000"/><stop offset="1" stop-color="#b60000"/></linearGradient><linearGradient id="a91"><stop offset="0" stop-color="#80ff76"/><stop offset=".3" stop-color="#97ff60"/><stop offset=".475" stop-color="#beff39"/><stop offset=".594" stop-color="#f1fc06"/><stop offset=".625" stop-color="#ffe600"/><stop offset=".744" stop-color="#ff8500"/><stop offset=".875" stop-color="#fe1300"/><stop offset=".913" stop-color="#df0000"/><stop offset="1" stop-color="#ad0000"/></linearGradient><linearGradient id="a92"><stop offset="0" stop-color="#83ff73"/><stop offset=".263" stop-color="#94ff63"/><stop offset=".438" stop-color="#b7ff40"/><stop offset=".556" stop-color="#e7ff0f"/><stop offset=".6" stop-color="#feed00"/><stop offset=".713" stop-color="#ff9400"/><stop offset=".856" stop-color="#ff1600"/><stop offset=".894" stop-color="#e40000"/><stop offset=".975" stop-color="#b20000"/><stop offset="1" stop-color="#a80000"/></linearGradient><linearGradient id="a93"><stop offset="0" stop-color="#83ff73"/><stop offset=".25" stop-color="#94ff63"/><stop offset=".431" stop-color="#baff3c"/><stop offset=".562" stop-color="#f1fc06"/><stop offset=".606" stop-color="#ffde00"/><stop offset=".725" stop-color="#ff7a00"/><stop offset=".85" stop-color="#fa0f00"/><stop offset=".888" stop-color="#df0000"/><stop offset=".95" stop-color="#b60000"/><stop offset="1" stop-color="#a40000"/></linearGradient><linearGradient id="a94"><stop offset="0" stop-color="#83ff73"/><stop offset=".231" stop-color="#94ff63"/><stop offset=".406" stop-color="#b7ff40"/><stop offset=".525" stop-color="#e7ff0f"/><stop offset=".569" stop-color="#feed00"/><stop offset=".694" stop-color="#ff8900"/><stop offset=".825" stop-color="#ff1600"/><stop offset=".863" stop-color="#e40000"/><stop offset=".931" stop-color="#b60000"/><stop offset="1" stop-color="#9b0000"/></linearGradient><linearGradient id="a95"><stop offset="0" stop-color="#83ff73"/><stop offset=".263" stop-color="#9aff5d"/><stop offset=".425" stop-color="#c4ff33"/><stop offset=".525" stop-color="#f1fc06"/><stop offset=".569" stop-color="#ffde00"/><stop offset=".694" stop-color="#ff7700"/><stop offset=".8" stop-color="#ff1a00"/><stop offset=".844" stop-color="#e30000"/><stop offset=".913" stop-color="#b60000"/><stop offset="1" stop-color="#960000"/></linearGradient><linearGradient id="a96"><stop offset="0" stop-color="#84ff73"/><stop offset=".256" stop-color="#9dff59"/><stop offset=".419" stop-color="#caff2c"/><stop offset=".5" stop-color="#f1fc06"/><stop offset=".544" stop-color="#ffde00"/><stop offset=".656" stop-color="#ff8200"/><stop offset=".781" stop-color="#ff1600"/><stop offset=".819" stop-color="#e40000"/><stop offset=".888" stop-color="#b60000"/><stop offset=".988" stop-color="#960000"/><stop offset="1" stop-color="#920000"/></linearGradient><linearGradient id="a97"><stop offset="0" stop-color="#87ff70"/><stop offset=".225" stop-color="#9dff59"/><stop offset=".381" stop-color="#c7ff30"/><stop offset=".475" stop-color="#f1fc06"/><stop offset=".519" stop-color="#ffde00"/><stop offset=".65" stop-color="#ff6f00"/><stop offset=".763" stop-color="#fa0f00"/><stop offset=".8" stop-color="#df0000"/><stop offset=".881" stop-color="#ad0000"/><stop offset=".988" stop-color="#920000"/><stop offset="1" stop-color="#8d0000"/></linearGradient><linearGradient id="a98"><stop offset="0" stop-color="#8aff6d"/><stop offset=".2" stop-color="#9dff59"/><stop offset=".363" stop-color="#caff2c"/><stop offset=".45" stop-color="#f1fc06"/><stop offset=".481" stop-color="#ffe600"/><stop offset=".606" stop-color="#ff7e00"/><stop offset=".731" stop-color="#fe1300"/><stop offset=".775" stop-color="#db0000"/><stop offset=".869" stop-color="#a90000"/><stop offset=".981" stop-color="#8d0000"/><stop offset="1" stop-color="#890000"/></linearGradient><linearGradient id="a99"><stop offset="0" stop-color="#8aff6d"/><stop offset=".2" stop-color="#a4ff53"/><stop offset=".344" stop-color="#ceff29"/><stop offset=".419" stop-color="#f1fc06"/><stop offset=".463" stop-color="#ffde00"/><stop offset=".581" stop-color="#ff7e00"/><stop offset=".7" stop-color="#ff1700"/><stop offset=".738" stop-color="#e40000"/><stop offset=".819" stop-color="#b20000"/><stop offset=".931" stop-color="#920000"/><stop offset="1" stop-color="#890000"/></linearGradient><linearGradient id="a100"><stop offset="0" stop-color="#8dff6a"/><stop offset=".194" stop-color="#a7ff50"/><stop offset=".356" stop-color="#deff19"/><stop offset=".4" stop-color="#f4f803"/><stop offset=".444" stop-color="#ffdb00"/><stop offset=".594" stop-color="#ff5d00"/><stop offset=".688" stop-color="#fa0f00"/><stop offset=".725" stop-color="#da0000"/><stop offset=".819" stop-color="#a90000"/><stop offset=".913" stop-color="#920000"/><stop offset="1" stop-color="#840000"/></linearGradient><linearGradient id="a101"><stop offset="0" stop-color="#8dff6a"/><stop offset=".219" stop-color="#b4ff43"/><stop offset=".356" stop-color="#e7ff0f"/><stop offset=".388" stop-color="#f8f500"/><stop offset=".425" stop-color="#ffdb00"/><stop offset=".656" stop-color="#ff1600"/><stop offset=".694" stop-color="#e40000"/><stop offset=".775" stop-color="#b20000"/><stop offset=".869" stop-color="#960000"/><stop offset=".975" stop-color="#890000"/><stop offset="1" stop-color="#840000"/></linearGradient><linearGradient id="a102"><stop offset="0" stop-color="#90ff66"/><stop offset=".181" stop-color="#adff49"/><stop offset=".325" stop-color="#e1ff16"/><stop offset=".363" stop-color="#f4f803"/><stop offset=".406" stop-color="#ffdb00"/><stop offset=".556" stop-color="#ff5d00"/><stop offset=".65" stop-color="#fa0f00"/><stop offset=".688" stop-color="#df0000"/><stop offset=".75" stop-color="#b60000"/><stop offset=".85" stop-color="#960000"/><stop offset="1" stop-color="#840000"/></linearGradient><linearGradient id="a103"><stop offset="0" stop-color="#90ff66"/><stop offset=".181" stop-color="#b1ff46"/><stop offset=".319" stop-color="#e4ff13"/><stop offset=".35" stop-color="#f4f802"/><stop offset=".388" stop-color="#ffdf00"/><stop offset=".494" stop-color="#ff8900"/><stop offset=".619" stop-color="#ff1e00"/><stop offset=".644" stop-color="#f60b00"/><stop offset=".675" stop-color="#df0000"/><stop offset=".75" stop-color="#b20000"/><stop offset=".844" stop-color="#960000"/><stop offset=".95" stop-color="#890000"/><stop offset="1" stop-color="#840000"/></linearGradient><linearGradient id="a104"><stop offset="0" stop-color="#94ff63"/><stop offset=".163" stop-color="#adff49"/><stop offset=".306" stop-color="#e1ff16"/><stop offset=".344" stop-color="#f4f802"/><stop offset=".381" stop-color="#ffdf00"/><stop offset=".5" stop-color="#ff7e00"/><stop offset=".625" stop-color="#ff1300"/><stop offset=".663" stop-color="#e40000"/><stop offset=".731" stop-color="#b60000"/><stop offset=".831" stop-color="#960000"/><stop offset=".956" stop-color="#890000"/><stop offset="1" stop-color="#840000"/></linearGradient><linearGradient id="a105"><stop offset="0" stop-color="#94ff63"/><stop offset=".169" stop-color="#b1ff46"/><stop offset=".294" stop-color="#deff19"/><stop offset=".338" stop-color="#f1fc06"/><stop offset=".369" stop-color="#ffe600"/><stop offset=".5" stop-color="#ff7a00"/><stop offset=".625" stop-color="#fa0f00"/><stop offset=".663" stop-color="#df0000"/><stop offset=".738" stop-color="#b20000"/><stop offset=".838" stop-color="#960000"/><stop offset=".956" stop-color="#890000"/><stop offset="1" stop-color="#840000"/></linearGradient><linearGradient id="a106"><stop offset="0" stop-color="#94ff63"/><stop offset=".169" stop-color="#b1ff46"/><stop offset=".294" stop-color="#deff19"/><stop offset=".338" stop-color="#f4f802"/><stop offset=".375" stop-color="#ffdf00"/><stop offset=".481" stop-color="#ff8900"/><stop offset=".606" stop-color="#ff1e00"/><stop offset=".631" stop-color="#f60b00"/><stop offset=".663" stop-color="#df0000"/><stop offset=".738" stop-color="#b20000"/><stop offset=".856" stop-color="#920000"/><stop offset="1" stop-color="#840000"/></linearGradient><linearGradient id="a107"><stop offset="0" stop-color="#94ff63"/><stop offset=".169" stop-color="#b1ff46"/><stop offset=".294" stop-color="#deff19"/><stop offset=".338" stop-color="#f4f802"/><stop offset=".375" stop-color="#ffe200"/><stop offset=".55" stop-color="#ff4e00"/><stop offset=".625" stop-color="#ff1300"/><stop offset=".656" stop-color="#e40000"/><stop offset=".731" stop-color="#b60000"/><stop offset=".844" stop-color="#960000"/><stop offset=".994" stop-color="#890000"/><stop offset="1" stop-color="#890000"/></linearGradient><linearGradient id="a108"><stop offset="0" stop-color="#94ff63"/><stop offset=".181" stop-color="#b4ff43"/><stop offset=".319" stop-color="#e7ff0f"/><stop offset=".356" stop-color="#fbf100"/><stop offset=".494" stop-color="#ff8200"/><stop offset=".625" stop-color="#ff1300"/><stop offset=".663" stop-color="#e40000"/><stop offset=".719" stop-color="#bf0000"/><stop offset=".825" stop-color="#9b0000"/><stop offset=".994" stop-color="#890000"/><stop offset="1" stop-color="#890000"/></linearGradient><linearGradient id="a109"><stop offset="0" stop-color="#90ff66"/><stop offset=".188" stop-color="#b4ff43"/><stop offset=".338" stop-color="#eeff09"/><stop offset=".363" stop-color="#feed00"/><stop offset=".481" stop-color="#ff9100"/><stop offset=".613" stop-color="#ff2200"/><stop offset=".638" stop-color="#fa0f00"/><stop offset=".675" stop-color="#df0000"/><stop offset=".756" stop-color="#b20000"/><stop offset=".85" stop-color="#9b0000"/><stop offset=".988" stop-color="#8d0000"/><stop offset="1" stop-color="#8d0000"/></linearGradient><linearGradient id="a110"><stop offset="0" stop-color="#90ff66"/><stop offset=".181" stop-color="#b1ff46"/><stop offset=".325" stop-color="#e4ff13"/><stop offset=".356" stop-color="#f4f802"/><stop offset=".381" stop-color="#ffe600"/><stop offset=".494" stop-color="#ff8d00"/><stop offset=".625" stop-color="#ff1e00"/><stop offset=".644" stop-color="#fe1300"/><stop offset=".675" stop-color="#e40000"/><stop offset=".769" stop-color="#b20000"/><stop offset=".894" stop-color="#960000"/><stop offset="1" stop-color="#8d0000"/></linearGradient><linearGradient id="a111"><stop offset="0" stop-color="#90ff66"/><stop offset=".181" stop-color="#adff49"/><stop offset=".319" stop-color="#deff19"/><stop offset=".363" stop-color="#f4f803"/><stop offset=".406" stop-color="#ffdb00"/><stop offset=".513" stop-color="#ff8500"/><stop offset=".638" stop-color="#ff1e00"/><stop offset=".656" stop-color="#fe1300"/><stop offset=".688" stop-color="#e40000"/><stop offset=".788" stop-color="#b20000"/><stop offset=".906" stop-color="#9b0000"/><stop offset="1" stop-color="#920000"/></linearGradient><linearGradient id="a112"><stop offset="0" stop-color="#8dff6a"/><stop offset=".194" stop-color="#adff49"/><stop offset=".331" stop-color="#deff19"/><stop offset=".381" stop-color="#f4f803"/><stop offset=".406" stop-color="#ffe600"/><stop offset=".55" stop-color="#ff7300"/><stop offset=".65" stop-color="#ff2200"/><stop offset=".675" stop-color="#fa0f00"/><stop offset=".713" stop-color="#e30000"/><stop offset=".788" stop-color="#bb0000"/><stop offset=".888" stop-color="#a40000"/><stop offset="1" stop-color="#960000"/></linearGradient><linearGradient id="a113"><stop offset="0" stop-color="#8dff6a"/><stop offset=".188" stop-color="#a7ff50"/><stop offset=".338" stop-color="#d7ff1f"/><stop offset=".394" stop-color="#f1fc06"/><stop offset=".425" stop-color="#ffe600"/><stop offset=".556" stop-color="#ff7e00"/><stop offset=".688" stop-color="#ff1700"/><stop offset=".731" stop-color="#e40000"/><stop offset=".825" stop-color="#bb0000"/><stop offset=".944" stop-color="#a40000"/><stop offset="1" stop-color="#9f0000"/></linearGradient><linearGradient id="a114"><stop offset="0" stop-color="#8aff6d"/><stop offset=".213" stop-color="#a7ff50"/><stop offset=".363" stop-color="#d7ff20"/><stop offset=".419" stop-color="#f1fc06"/><stop offset=".45" stop-color="#ffe600"/><stop offset=".588" stop-color="#ff7a00"/><stop offset=".706" stop-color="#ff1e00"/><stop offset=".731" stop-color="#fa0f00"/><stop offset=".775" stop-color="#df0000"/><stop offset=".875" stop-color="#bb0000"/><stop offset="1" stop-color="#a80000"/></linearGradient><linearGradient id="a115"><stop offset="0" stop-color="#8aff6d"/><stop offset=".213" stop-color="#a1ff56"/><stop offset=".381" stop-color="#d1ff26"/><stop offset=".45" stop-color="#f1fc06"/><stop offset=".494" stop-color="#ffdf00"/><stop offset=".731" stop-color="#ff2900"/><stop offset=".775" stop-color="#fa0f00"/><stop offset=".819" stop-color="#e40000"/><stop offset=".913" stop-color="#c40000"/><stop offset="1" stop-color="#b60000"/></linearGradient><linearGradient id="a116"><stop offset="0" stop-color="#87ff70"/><stop offset=".219" stop-color="#9aff5d"/><stop offset=".381" stop-color="#c1ff36"/><stop offset=".494" stop-color="#f1fc06"/><stop offset=".537" stop-color="#ffe200"/><stop offset=".775" stop-color="#ff3100"/><stop offset=".844" stop-color="#fa0f00"/><stop offset=".9" stop-color="#df0100"/><stop offset="1" stop-color="#c90000"/></linearGradient><linearGradient id="a117"><stop offset="0" stop-color="#83ff73"/><stop offset=".263" stop-color="#97ff60"/><stop offset=".425" stop-color="#baff3d"/><stop offset=".562" stop-color="#f1fb06"/><stop offset=".606" stop-color="#fee201"/><stop offset=".831" stop-color="#ff4400"/><stop offset=".95" stop-color="#fa1000"/><stop offset="1" stop-color="#ec0500"/></linearGradient><linearGradient id="a118"><stop offset="0" stop-color="#80ff77"/><stop offset=".312" stop-color="#90ff66"/><stop offset=".513" stop-color="#b4ff43"/><stop offset=".669" stop-color="#edfe0a"/><stop offset=".713" stop-color="#fee501"/><stop offset=".944" stop-color="#fe6201"/><stop offset="1" stop-color="#fe5000"/></linearGradient><linearGradient id="a119"><stop offset="0" stop-color="#7dff7a"/><stop offset=".5" stop-color="#8aff6d"/><stop offset=".794" stop-color="#affe48"/><stop offset="1" stop-color="#d8fa20"/></linearGradient><linearGradient id="a120"><stop offset="0" stop-color="#7aff7d"/><stop offset=".388" stop-color="#6dff8a"/><stop offset=".6" stop-color="#4cfeaa"/><stop offset=".769" stop-color="#15fae2"/><stop offset=".825" stop-color="#03def8"/><stop offset=".969" stop-color="#0394fb"/><stop offset="1" stop-color="#0488fb"/></linearGradient><linearGradient id="a121"><stop offset="0" stop-color="#73ff83"/><stop offset=".238" stop-color="#66ff90"/><stop offset=".425" stop-color="#43ffb4"/><stop offset=".556" stop-color="#13fbe4"/><stop offset=".606" stop-color="#01d8fe"/><stop offset=".719" stop-color="#0181fe"/><stop offset=".831" stop-color="#0027fe"/><stop offset=".888" stop-color="#0003fe"/><stop offset=".919" stop-color="#0003f9"/><stop offset="1" stop-color="#0002d1"/></linearGradient><linearGradient id="a122"><stop offset="0" stop-color="#70ff87"/><stop offset=".219" stop-color="#59ff9d"/><stop offset=".388" stop-color="#2cffca"/><stop offset=".444" stop-color="#13fce4"/><stop offset=".494" stop-color="#01dcfd"/><stop offset=".6" stop-color="#0085ff"/><stop offset=".744" stop-color="#0006fe"/><stop offset=".775" stop-color="#0001f9"/><stop offset=".844" stop-color="#0000cd"/><stop offset=".969" stop-color="#0000a0"/><stop offset="1" stop-color="#000097"/></linearGradient><linearGradient id="a123"><stop offset="0" stop-color="#6aff8d"/><stop offset=".194" stop-color="#50ffa7"/><stop offset=".344" stop-color="#1fffd7"/><stop offset=".375" stop-color="#10f8e7"/><stop offset=".419" stop-color="#01dcfd"/><stop offset=".525" stop-color="#0085ff"/><stop offset=".663" stop-color="#0006ff"/><stop offset=".694" stop-color="#0001fa"/><stop offset=".781" stop-color="#0000c0"/><stop offset=".888" stop-color="#00009b"/><stop offset="1" stop-color="#000089"/></linearGradient><linearGradient id="a124"><stop offset="0" stop-color="#66ff90"/><stop offset=".188" stop-color="#43ffb4"/><stop offset=".312" stop-color="#13fce4"/><stop offset=".363" stop-color="#00dcfe"/><stop offset=".5" stop-color="#0065ff"/><stop offset=".606" stop-color="#0001ff"/><stop offset=".631" stop-color="#0001fa"/><stop offset=".725" stop-color="#0000bb"/><stop offset=".819" stop-color="#00009b"/><stop offset=".938" stop-color="#000089"/><stop offset="1" stop-color="#000084"/></linearGradient><linearGradient id="a125"><stop offset="0" stop-color="#60ff97"/><stop offset=".181" stop-color="#36ffc1"/><stop offset=".263" stop-color="#13fce4"/><stop offset=".312" stop-color="#00dcfe"/><stop offset=".425" stop-color="#007dff"/><stop offset=".544" stop-color="#000dff"/><stop offset=".562" stop-color="#0001ff"/><stop offset=".588" stop-color="#0000f5"/><stop offset=".675" stop-color="#0000bb"/><stop offset=".781" stop-color="#000096"/><stop offset=".925" stop-color="#000084"/><stop offset="1" stop-color="#000080"/></linearGradient><linearGradient id="a126"><stop offset="0" stop-color="#59ff9d"/><stop offset=".156" stop-color="#30ffc7"/><stop offset=".225" stop-color="#13fce4"/><stop offset=".275" stop-color="#00d9ff"/><stop offset=".363" stop-color="#0090ff"/><stop offset=".506" stop-color="#0009ff"/><stop offset=".537" stop-color="#0000fe"/><stop offset=".631" stop-color="#0000bb"/><stop offset=".738" stop-color="#000096"/><stop offset=".881" stop-color="#000084"/><stop offset="1" stop-color="#000080"/></linearGradient><linearGradient id="a127"><stop offset="0" stop-color="#50ffa7"/><stop offset=".119" stop-color="#30ffc7"/><stop offset=".188" stop-color="#13fce4"/><stop offset=".238" stop-color="#00d9ff"/><stop offset=".344" stop-color="#0080ff"/><stop offset=".469" stop-color="#0009ff"/><stop offset=".5" stop-color="#0000fe"/><stop offset=".594" stop-color="#0000bb"/><stop offset=".7" stop-color="#000096"/><stop offset=".844" stop-color="#000084"/><stop offset="1" stop-color="#000080"/></linearGradient><linearGradient id="a128"><stop offset="0" stop-color="#49ffad"/><stop offset=".125" stop-color="#1fffd7"/><stop offset=".163" stop-color="#0ff8e7"/><stop offset=".206" stop-color="#00d9ff"/><stop offset=".319" stop-color="#0079ff"/><stop offset=".444" stop-color="#0001ff"/><stop offset=".469" stop-color="#0000fa"/><stop offset=".569" stop-color="#0000b6"/><stop offset=".669" stop-color="#000096"/><stop offset=".8" stop-color="#000084"/><stop offset="1" stop-color="#000080"/></linearGradient><linearGradient id="a129"><stop offset="0" stop-color="#43ffb4"/><stop offset=".125" stop-color="#12fce4"/><stop offset=".175" stop-color="#00d9ff"/><stop offset=".281" stop-color="#0080ff"/><stop offset=".406" stop-color="#0009ff"/><stop offset=".438" stop-color="#0000fe"/><stop offset=".537" stop-color="#0000b6"/><stop offset=".638" stop-color="#000096"/><stop offset=".769" stop-color="#000084"/><stop offset="1" stop-color="#000080"/></linearGradient><linearGradient id="a130"><stop offset="0" stop-color="#39ffbe"/><stop offset=".094" stop-color="#13fce4"/><stop offset=".144" stop-color="#00ddfe"/><stop offset=".231" stop-color="#0094ff"/><stop offset=".388" stop-color="#0001ff"/><stop offset=".413" stop-color="#0000fa"/><stop offset=".494" stop-color="#0000bf"/><stop offset=".606" stop-color="#000096"/><stop offset=".75" stop-color="#000084"/><stop offset="1" stop-color="#000080"/></linearGradient><linearGradient id="a131"><stop offset="0" stop-color="#30ffc7"/><stop offset=".069" stop-color="#13fce4"/><stop offset=".119" stop-color="#00dcfe"/><stop offset=".231" stop-color="#007cff"/><stop offset=".363" stop-color="#0001ff"/><stop offset=".388" stop-color="#0000fa"/><stop offset=".475" stop-color="#0000bb"/><stop offset=".581" stop-color="#000096"/><stop offset=".725" stop-color="#000084"/><stop offset="1" stop-color="#000080"/></linearGradient><linearGradient id="a132"><stop offset="0" stop-color="#29ffce"/><stop offset=".056" stop-color="#0ff8e8"/><stop offset=".094" stop-color="#00ddfe"/><stop offset=".2" stop-color="#0084ff"/><stop offset=".338" stop-color="#0001ff"/><stop offset=".363" stop-color="#0000fa"/><stop offset=".444" stop-color="#0000bf"/><stop offset=".556" stop-color="#000096"/><stop offset=".7" stop-color="#000084"/><stop offset="1" stop-color="#000080"/></linearGradient><linearGradient id="a133"><stop offset="0" stop-color="#1fffd7"/><stop offset=".031" stop-color="#0ff8e8"/><stop offset=".075" stop-color="#00dcfe"/><stop offset=".206" stop-color="#0068ff"/><stop offset=".306" stop-color="#0009ff"/><stop offset=".338" stop-color="#0000fa"/><stop offset=".438" stop-color="#0000b6"/><stop offset=".55" stop-color="#000092"/><stop offset=".7" stop-color="#000084"/><stop offset="1" stop-color="#000080"/></linearGradient><linearGradient id="a134"><stop offset="0" stop-color="#13fce4"/><stop offset=".05" stop-color="#00ddfe"/><stop offset=".156" stop-color="#0084ff"/><stop offset=".294" stop-color="#0001ff"/><stop offset=".319" stop-color="#0000fa"/><stop offset=".406" stop-color="#0000bb"/><stop offset=".513" stop-color="#000096"/><stop offset=".656" stop-color="#000084"/><stop offset="1" stop-color="#000080"/></linearGradient><linearGradient id="a135"><stop offset="0" stop-color="#09f0ee"/><stop offset=".044" stop-color="#00d4ff"/><stop offset=".188" stop-color="#0051ff"/><stop offset=".275" stop-color="#0001ff"/><stop offset=".3" stop-color="#0000fa"/><stop offset=".388" stop-color="#0000bb"/><stop offset=".475" stop-color="#00009b"/><stop offset=".581" stop-color="#000089"/><stop offset=".781" stop-color="#000080"/><stop offset="1" stop-color="#000080"/></linearGradient><linearGradient id="a136"><stop offset="0" stop-color="#00e4f8"/><stop offset=".056" stop-color="#00b9ff"/><stop offset=".256" stop-color="#0000ff"/><stop offset=".275" stop-color="#0000fe"/><stop offset=".375" stop-color="#0000b6"/><stop offset=".488" stop-color="#000092"/><stop offset=".638" stop-color="#000084"/><stop offset="1" stop-color="#000080"/></linearGradient><linearGradient id="a137"><stop offset="0" stop-color="#00d8ff"/><stop offset=".125" stop-color="#0068ff"/><stop offset=".238" stop-color="#0000ff"/><stop offset=".256" stop-color="#0000fe"/><stop offset=".356" stop-color="#0000b6"/><stop offset=".469" stop-color="#000092"/><stop offset=".619" stop-color="#000084"/><stop offset="1" stop-color="#000080"/></linearGradient><linearGradient id="a138"><stop offset="0" stop-color="#00c8ff"/><stop offset=".106" stop-color="#0069ff"/><stop offset=".219" stop-color="#0001ff"/><stop offset=".244" stop-color="#0000fa"/><stop offset=".338" stop-color="#0000b6"/><stop offset=".438" stop-color="#000096"/><stop offset=".569" stop-color="#000084"/><stop offset="1" stop-color="#000080"/></linearGradient><linearGradient id="a139"><stop offset="0" stop-color="#00b8ff"/><stop offset=".131" stop-color="#0040ff"/><stop offset=".2" stop-color="#0001ff"/><stop offset=".225" stop-color="#0000fa"/><stop offset=".312" stop-color="#0000bb"/><stop offset=".4" stop-color="#00009b"/><stop offset=".506" stop-color="#000089"/><stop offset=".706" stop-color="#000080"/><stop offset="1" stop-color="#000080"/></linearGradient><linearGradient id="a140"><stop offset="0" stop-color="#00acff"/><stop offset=".181" stop-color="#0001ff"/><stop offset=".206" stop-color="#0000fa"/><stop offset=".294" stop-color="#0000bb"/><stop offset=".4" stop-color="#000096"/><stop offset=".544" stop-color="#000084"/><stop offset="1" stop-color="#000080"/></linearGradient><linearGradient id="a141"><stop offset="0" stop-color="#009cff"/><stop offset=".163" stop-color="#0001ff"/><stop offset=".188" stop-color="#0000fa"/><stop offset=".288" stop-color="#0000b6"/><stop offset=".381" stop-color="#000096"/><stop offset=".525" stop-color="#000084"/><stop offset="1" stop-color="#000080"/></linearGradient><linearGradient id="a142"><stop offset="0" stop-color="#008cff"/><stop offset=".144" stop-color="#0005ff"/><stop offset=".175" stop-color="#0000fa"/><stop offset=".269" stop-color="#0000b6"/><stop offset=".381" stop-color="#000092"/><stop offset=".531" stop-color="#000084"/><stop offset="1" stop-color="#000080"/></linearGradient><linearGradient id="a143"><stop offset="0" stop-color="#007cff"/><stop offset=".131" stop-color="#0001ff"/><stop offset=".156" stop-color="#0000fa"/><stop offset=".244" stop-color="#0000bb"/><stop offset=".35" stop-color="#000096"/><stop offset=".481" stop-color="#000084"/><stop offset="1" stop-color="#000080"/></linearGradient><linearGradient id="a144"><stop offset="0" stop-color="#006cff"/><stop offset=".113" stop-color="#0005ff"/><stop offset=".138" stop-color="#0000fa"/><stop offset=".238" stop-color="#0000b6"/><stop offset=".331" stop-color="#000096"/><stop offset=".475" stop-color="#000084"/><stop offset="1" stop-color="#000080"/></linearGradient><linearGradient id="a145"><stop offset="0" stop-color="#005cff"/><stop offset=".1" stop-color="#0001ff"/><stop offset=".125" stop-color="#0000fa"/><stop offset=".213" stop-color="#0000bb"/><stop offset=".312" stop-color="#000096"/><stop offset=".456" stop-color="#000084"/><stop offset="1" stop-color="#000080"/></linearGradient><linearGradient id="a146"><stop offset="0" stop-color="#004cff"/><stop offset=".081" stop-color="#0001ff"/><stop offset=".106" stop-color="#0000fa"/><stop offset=".213" stop-color="#0000b2"/><stop offset=".319" stop-color="#000092"/><stop offset=".456" stop-color="#000084"/><stop offset="1" stop-color="#000080"/></linearGradient><linearGradient id="a147"><stop offset="0" stop-color="#003cff"/><stop offset=".069" stop-color="#0000ff"/><stop offset=".088" stop-color="#0000fe"/><stop offset=".188" stop-color="#0000b6"/><stop offset=".3" stop-color="#000092"/><stop offset=".45" stop-color="#000084"/><stop offset="1" stop-color="#000080"/></linearGradient><linearGradient id="a148"><stop offset="0" stop-color="#002cff"/><stop offset=".05" stop-color="#0001ff"/><stop offset=".075" stop-color="#0000fa"/><stop offset=".163" stop-color="#0000bb"/><stop offset=".263" stop-color="#000096"/><stop offset=".406" stop-color="#000084"/><stop offset="1" stop-color="#000080"/></linearGradient><linearGradient id="a149"><stop offset="0" stop-color="#001cff"/><stop offset=".038" stop-color="#0000ff"/><stop offset=".062" stop-color="#0000f6"/><stop offset=".144" stop-color="#0000bb"/><stop offset=".25" stop-color="#000096"/><stop offset=".381" stop-color="#000084"/><stop offset="1" stop-color="#000080"/></linearGradient><linearGradient id="a150"><stop offset="0" stop-color="#000cff"/><stop offset=".019" stop-color="#0000ff"/><stop offset=".044" stop-color="#0000f6"/><stop offset=".144" stop-color="#0000b2"/><stop offset=".256" stop-color="#000092"/><stop offset=".381" stop-color="#000084"/><stop offset="1" stop-color="#000080"/></linearGradient><linearGradient id="a151"><stop offset="0" stop-color="#0000ff"/><stop offset=".025" stop-color="#0000f6"/><stop offset=".1" stop-color="#0000bf"/><stop offset=".213" stop-color="#000096"/><stop offset=".356" stop-color="#000084"/><stop offset="1" stop-color="#000080"/></linearGradient><linearGradient id="a152"><stop offset="0" stop-color="#0000fa"/><stop offset=".088" stop-color="#0000bb"/><stop offset=".194" stop-color="#000096"/><stop offset=".325" stop-color="#000084"/><stop offset="1" stop-color="#000080"/></linearGradient><linearGradient id="a153"><stop offset="0" stop-color="#0000e8"/><stop offset=".075" stop-color="#0000b6"/><stop offset=".169" stop-color="#000096"/><stop offset=".312" stop-color="#000084"/><stop offset="1" stop-color="#000080"/></linearGradient><linearGradient id="a154"><stop offset="0" stop-color="#0000d6"/><stop offset=".094" stop-color="#0000a4"/><stop offset=".225" stop-color="#000089"/><stop offset=".45" stop-color="#000080"/><stop offset="1" stop-color="#000080"/></linearGradient><linearGradient id="a155"><stop offset="0" stop-color="#0000c4"/><stop offset=".1" stop-color="#00009b"/><stop offset=".219" stop-color="#000089"/><stop offset=".406" stop-color="#000080"/><stop offset="1" stop-color="#000080"/></linearGradient><linearGradient id="a156"><stop offset="0" stop-color="#0000b6"/><stop offset=".088" stop-color="#000096"/><stop offset=".231" stop-color="#000084"/><stop offset="1" stop-color="#000080"/></linearGradient><linearGradient id="a157"><stop offset="0" stop-color="#0000a4"/><stop offset=".1" stop-color="#00008d"/><stop offset=".294" stop-color="#000080"/><stop offset="1" stop-color="#000080"/></linearGradient><linearGradient id="a158"><stop offset="0" stop-color="#000092"/><stop offset=".156" stop-color="#000084"/><stop offset="1" stop-color="#000080"/></linearGradient><linearGradient id="a159"><stop offset="0" stop-color="#000084"/><stop offset="1" stop-color="#000080"/></linearGradient><linearGradient id="b0"><stop offset="0" stop-color="#000084"/><stop offset="1" stop-color="#000080"/></linearGradient><linearGradient id="b1"><stop offset="0" stop-color="#000092"/><stop offset=".154" stop-color="#000084"/><stop offset="1" stop-color="#000080"/></linearGradient><linearGradient id="b2"><stop offset="0" stop-color="#0000a4"/><stop offset=".123" stop-color="#000089"/><stop offset=".364" stop-color="#000080"/><stop offset="1" stop-color="#000080"/></linearGradient><linearGradient id="b3"><stop offset="0" stop-color="#0000b6"/><stop offset=".086" stop-color="#000096"/><stop offset=".228" stop-color="#000084"/><stop offset="1" stop-color="#000080"/></linearGradient><linearGradient id="b4"><stop offset="0" stop-color="#0000c4"/><stop offset=".086" stop-color="#00009f"/><stop offset=".198" stop-color="#000089"/><stop offset=".42" stop-color="#000080"/><stop offset="1" stop-color="#000080"/></linearGradient><linearGradient id="b5"><stop offset="0" stop-color="#0000d6"/><stop offset=".074" stop-color="#0000ad"/><stop offset=".173" stop-color="#000092"/><stop offset=".296" stop-color="#000084"/><stop offset="1" stop-color="#000080"/></linearGradient><linearGradient id="b6"><stop offset="0" stop-color="#0000e8"/><stop offset=".074" stop-color="#0000b6"/><stop offset=".173" stop-color="#000096"/><stop offset=".302" stop-color="#000084"/><stop offset="1" stop-color="#000080"/></linearGradient><linearGradient id="b7"><stop offset="0" stop-color="#0000fa"/><stop offset=".08" stop-color="#0000bf"/><stop offset=".191" stop-color="#000096"/><stop offset=".333" stop-color="#000084"/><stop offset="1" stop-color="#000080"/></linearGradient><linearGradient id="b8"><stop offset="0" stop-color="#0000ff"/><stop offset=".025" stop-color="#0000f6"/><stop offset=".117" stop-color="#0000b6"/><stop offset=".228" stop-color="#000092"/><stop offset=".377" stop-color="#000084"/><stop offset="1" stop-color="#000080"/></linearGradient><linearGradient id="b9"><stop offset="0" stop-color="#000cff"/><stop offset=".019" stop-color="#0000ff"/><stop offset=".043" stop-color="#0000f6"/><stop offset=".136" stop-color="#0000b6"/><stop offset=".247" stop-color="#000092"/><stop offset=".395" stop-color="#000084"/><stop offset="1" stop-color="#000080"/></linearGradient><linearGradient id="b10"><stop offset="0" stop-color="#001cff"/><stop offset=".037" stop-color="#0000ff"/><stop offset=".062" stop-color="#0000f6"/><stop offset=".154" stop-color="#0000b6"/><stop offset=".247" stop-color="#000096"/><stop offset=".389" stop-color="#000084"/><stop offset="1" stop-color="#000080"/></linearGradient><linearGradient id="b11"><stop offset="0" stop-color="#002cff"/><stop offset=".049" stop-color="#0001ff"/><stop offset=".074" stop-color="#0000fa"/><stop offset=".154" stop-color="#0000bf"/><stop offset=".265" stop-color="#000096"/><stop offset=".407" stop-color="#000084"/><stop offset="1" stop-color="#000080"/></linearGradient><linearGradient id="b12"><stop offset="0" stop-color="#003cff"/><stop offset=".068" stop-color="#0001ff"/><stop offset=".093" stop-color="#0000fa"/><stop offset=".179" stop-color="#0000bb"/><stop offset=".284" stop-color="#000096"/><stop offset=".426" stop-color="#000084"/><stop offset="1" stop-color="#000080"/></linearGradient><linearGradient id="b13"><stop offset="0" stop-color="#004cff"/><stop offset=".086" stop-color="#0000ff"/><stop offset=".111" stop-color="#0000f6"/><stop offset=".204" stop-color="#0000b6"/><stop offset=".302" stop-color="#000096"/><stop offset=".432" stop-color="#000084"/><stop offset="1" stop-color="#000080"/></linearGradient><linearGradient id="b14"><stop offset="0" stop-color="#005cff"/><stop offset=".099" stop-color="#0001ff"/><stop offset=".123" stop-color="#0000fa"/><stop offset=".204" stop-color="#0000bf"/><stop offset=".315" stop-color="#000096"/><stop offset=".457" stop-color="#000084"/><stop offset="1" stop-color="#000080"/></linearGradient><linearGradient id="b15"><stop offset="0" stop-color="#006cff"/><stop offset=".117" stop-color="#0001ff"/><stop offset=".142" stop-color="#0000fa"/><stop offset=".228" stop-color="#0000bb"/><stop offset=".333" stop-color="#000096"/><stop offset=".475" stop-color="#000084"/><stop offset="1" stop-color="#000080"/></linearGradient><linearGradient id="b16"><stop offset="0" stop-color="#007cff"/><stop offset=".13" stop-color="#0001ff"/><stop offset=".154" stop-color="#0000fa"/><stop offset=".253" stop-color="#0000b6"/><stop offset=".352" stop-color="#000096"/><stop offset=".481" stop-color="#000084"/><stop offset="1" stop-color="#000080"/></linearGradient><linearGradient id="b17"><stop offset="0" stop-color="#008cff"/><stop offset=".148" stop-color="#0001ff"/><stop offset=".173" stop-color="#0000fa"/><stop offset=".253" stop-color="#0000bf"/><stop offset=".364" stop-color="#000096"/><stop offset=".506" stop-color="#000084"/><stop offset="1" stop-color="#000080"/></linearGradient><linearGradient id="b18"><stop offset="0" stop-color="#009cff"/><stop offset=".167" stop-color="#0001ff"/><stop offset=".191" stop-color="#0000fa"/><stop offset=".278" stop-color="#0000bb"/><stop offset=".383" stop-color="#000096"/><stop offset=".525" stop-color="#000084"/><stop offset="1" stop-color="#000080"/></linearGradient><linearGradient id="b19"><stop offset="0" stop-color="#00acff"/><stop offset=".179" stop-color="#0005ff"/><stop offset=".204" stop-color="#0000fa"/><stop offset=".302" stop-color="#0000b6"/><stop offset=".383" stop-color="#00009b"/><stop offset=".494" stop-color="#000089"/><stop offset=".691" stop-color="#000080"/><stop offset="1" stop-color="#000080"/></linearGradient><linearGradient id="b20"><stop offset="0" stop-color="#00b8ff"/><stop offset=".105" stop-color="#0059ff"/><stop offset=".198" stop-color="#0001ff"/><stop offset=".222" stop-color="#0000fa"/><stop offset=".321" stop-color="#0000b6"/><stop offset=".42" stop-color="#000096"/><stop offset=".549" stop-color="#000084"/><stop offset="1" stop-color="#000080"/></linearGradient><linearGradient id="b21"><stop offset="0" stop-color="#00c8ff"/><stop offset=".099" stop-color="#0070ff"/><stop offset=".216" stop-color="#0001ff"/><stop offset=".241" stop-color="#0000fa"/><stop offset=".34" stop-color="#0000b6"/><stop offset=".451" stop-color="#000092"/><stop offset=".599" stop-color="#000084"/><stop offset="1" stop-color="#000080"/></linearGradient><linearGradient id="b22"><stop offset="0" stop-color="#00d8ff"/><stop offset=".13" stop-color="#0064ff"/><stop offset=".235" stop-color="#0001ff"/><stop offset=".259" stop-color="#0000fa"/><stop offset=".358" stop-color="#0000b6"/><stop offset=".451" stop-color="#000096"/><stop offset=".593" stop-color="#000084"/><stop offset="1" stop-color="#000080"/></linearGradient><linearGradient id="b23"><stop offset="0" stop-color="#00e4f8"/><stop offset=".056" stop-color="#00b9ff"/><stop offset=".21" stop-color="#0028ff"/><stop offset=".253" stop-color="#0001ff"/><stop offset=".278" stop-color="#0000fa"/><stop offset=".377" stop-color="#0000b6"/><stop offset=".488" stop-color="#000092"/><stop offset=".636" stop-color="#000084"/><stop offset="1" stop-color="#000080"/></linearGradient><linearGradient id="b24"><stop offset="0" stop-color="#09f0ee"/><stop offset=".043" stop-color="#00d4ff"/><stop offset=".198" stop-color="#0048ff"/><stop offset=".272" stop-color="#0001ff"/><stop offset=".296" stop-color="#0000fa"/><stop offset=".395" stop-color="#0000b6"/><stop offset=".494" stop-color="#000096"/><stop offset=".623" stop-color="#000084"/><stop offset="1" stop-color="#000080"/></linearGradient><linearGradient id="b25"><stop offset="0" stop-color="#13fce4"/><stop offset=".049" stop-color="#00ddfe"/><stop offset=".142" stop-color="#0090ff"/><stop offset=".29" stop-color="#0005ff"/><stop offset=".321" stop-color="#0000fa"/><stop offset=".407" stop-color="#0000bb"/><stop offset=".512" stop-color="#000096"/><stop offset=".654" stop-color="#000084"/><stop offset="1" stop-color="#000080"/></linearGradient><linearGradient id="b26"><stop offset="0" stop-color="#1fffd7"/><stop offset=".031" stop-color="#0ff8e7"/><stop offset=".074" stop-color="#00dcfe"/><stop offset=".185" stop-color="#007cff"/><stop offset=".315" stop-color="#0001ff"/><stop offset=".34" stop-color="#0000fa"/><stop offset=".438" stop-color="#0000b6"/><stop offset=".537" stop-color="#000096"/><stop offset=".667" stop-color="#000084"/><stop offset="1" stop-color="#000080"/></linearGradient><linearGradient id="b27"><stop offset="0" stop-color="#29ffce"/><stop offset=".056" stop-color="#0ff8e8"/><stop offset=".099" stop-color="#00d9ff"/><stop offset=".204" stop-color="#0080ff"/><stop offset=".333" stop-color="#0005ff"/><stop offset=".364" stop-color="#0000fa"/><stop offset=".451" stop-color="#0000bb"/><stop offset=".556" stop-color="#000096"/><stop offset=".698" stop-color="#000084"/><stop offset="1" stop-color="#000080"/></linearGradient><linearGradient id="b28"><stop offset="0" stop-color="#30ffc7"/><stop offset=".08" stop-color="#0ff8e7"/><stop offset=".117" stop-color="#00ddfe"/><stop offset=".21" stop-color="#0090ff"/><stop offset=".358" stop-color="#0005ff"/><stop offset=".389" stop-color="#0000fa"/><stop offset=".475" stop-color="#0000bb"/><stop offset=".58" stop-color="#000096"/><stop offset=".722" stop-color="#000084"/><stop offset="1" stop-color="#000080"/></linearGradient><linearGradient id="b29"><stop offset="0" stop-color="#39ffbe"/><stop offset=".099" stop-color="#13fce4"/><stop offset=".148" stop-color="#00d9ff"/><stop offset=".253" stop-color="#0080ff"/><stop offset=".383" stop-color="#0005ff"/><stop offset=".414" stop-color="#0000fa"/><stop offset=".494" stop-color="#0000bf"/><stop offset=".605" stop-color="#000096"/><stop offset=".747" stop-color="#000084"/><stop offset="1" stop-color="#000080"/></linearGradient><linearGradient id="b30"><stop offset="0" stop-color="#43ffb4"/><stop offset=".123" stop-color="#13fce4"/><stop offset=".173" stop-color="#00dcfe"/><stop offset=".284" stop-color="#007cff"/><stop offset=".414" stop-color="#0001ff"/><stop offset=".438" stop-color="#0000fa"/><stop offset=".531" stop-color="#0000bb"/><stop offset=".617" stop-color="#00009b"/><stop offset=".735" stop-color="#000089"/><stop offset=".92" stop-color="#000080"/><stop offset="1" stop-color="#000080"/></linearGradient><linearGradient id="b31"><stop offset="0" stop-color="#49ffad"/><stop offset=".142" stop-color="#19ffde"/><stop offset=".204" stop-color="#00dcfe"/><stop offset=".315" stop-color="#007cff"/><stop offset=".444" stop-color="#0001ff"/><stop offset=".469" stop-color="#0000fa"/><stop offset=".568" stop-color="#0000b6"/><stop offset=".667" stop-color="#000096"/><stop offset=".809" stop-color="#000084"/><stop offset="1" stop-color="#000080"/></linearGradient><linearGradient id="b32"><stop offset="0" stop-color="#50ffa7"/><stop offset=".117" stop-color="#30ffc7"/><stop offset=".185" stop-color="#13fce4"/><stop offset=".235" stop-color="#00dcfe"/><stop offset=".34" stop-color="#0084ff"/><stop offset=".469" stop-color="#0009ff"/><stop offset=".5" stop-color="#0000fe"/><stop offset=".593" stop-color="#0000bb"/><stop offset=".698" stop-color="#000096"/><stop offset=".84" stop-color="#000084"/><stop offset="1" stop-color="#000080"/></linearGradient><linearGradient id="b33"><stop offset="0" stop-color="#59ff9d"/><stop offset=".154" stop-color="#30ffc7"/><stop offset=".222" stop-color="#13fce4"/><stop offset=".272" stop-color="#00ddfe"/><stop offset=".401" stop-color="#006cff"/><stop offset=".512" stop-color="#0005ff"/><stop offset=".543" stop-color="#0000fa"/><stop offset=".623" stop-color="#0000bf"/><stop offset=".735" stop-color="#000096"/><stop offset=".889" stop-color="#000084"/><stop offset="1" stop-color="#000080"/></linearGradient><linearGradient id="b34"><stop offset="0" stop-color="#60ff97"/><stop offset=".173" stop-color="#39ffbe"/><stop offset=".265" stop-color="#13fce4"/><stop offset=".315" stop-color="#00dcfe"/><stop offset=".438" stop-color="#0070ff"/><stop offset=".556" stop-color="#0001ff"/><stop offset=".58" stop-color="#0000fe"/><stop offset=".667" stop-color="#0000bf"/><stop offset=".765" stop-color="#00009b"/><stop offset=".883" stop-color="#000089"/><stop offset="1" stop-color="#000080"/></linearGradient><linearGradient id="b35"><stop offset="0" stop-color="#66ff90"/><stop offset=".185" stop-color="#43ffb4"/><stop offset=".315" stop-color="#13fce4"/><stop offset=".364" stop-color="#00d9ff"/><stop offset=".457" stop-color="#008cff"/><stop offset=".605" stop-color="#0001ff"/><stop offset=".63" stop-color="#0000fe"/><stop offset=".716" stop-color="#0000bf"/><stop offset=".833" stop-color="#000096"/><stop offset=".988" stop-color="#000084"/><stop offset="1" stop-color="#000084"/></linearGradient><linearGradient id="b36"><stop offset="0" stop-color="#6aff8d"/><stop offset=".179" stop-color="#53ffa4"/><stop offset=".321" stop-color="#29ffce"/><stop offset=".377" stop-color="#10f8e7"/><stop offset=".42" stop-color="#00dcfd"/><stop offset=".549" stop-color="#006dff"/><stop offset=".667" stop-color="#0002ff"/><stop offset=".691" stop-color="#0001fa"/><stop offset=".79" stop-color="#0000bb"/><stop offset=".901" stop-color="#000097"/><stop offset="1" stop-color="#000089"/></linearGradient><linearGradient id="b37"><stop offset="0" stop-color="#70ff87"/><stop offset=".222" stop-color="#59ff9d"/><stop offset=".377" stop-color="#30ffc7"/><stop offset=".444" stop-color="#13fce4"/><stop offset=".494" stop-color="#01dcfd"/><stop offset=".617" stop-color="#0075ff"/><stop offset=".747" stop-color="#0002fe"/><stop offset=".778" stop-color="#0001f9"/><stop offset=".852" stop-color="#0000c9"/><stop offset=".951" stop-color="#0000a5"/><stop offset="1" stop-color="#000097"/></linearGradient><linearGradient id="b38"><stop offset="0" stop-color="#73ff83"/><stop offset=".241" stop-color="#66ff90"/><stop offset=".426" stop-color="#43ffb4"/><stop offset=".556" stop-color="#13fbe4"/><stop offset=".605" stop-color="#01d8fe"/><stop offset=".704" stop-color="#018dfe"/><stop offset=".852" stop-color="#0017fe"/><stop offset=".889" stop-color="#0003fe"/><stop offset=".926" stop-color="#0003f5"/><stop offset="1" stop-color="#0002d1"/></linearGradient><linearGradient id="b39"><stop offset="0" stop-color="#7aff7d"/><stop offset=".383" stop-color="#6dff8a"/><stop offset=".593" stop-color="#4cffaa"/><stop offset=".759" stop-color="#18fcdf"/><stop offset=".821" stop-color="#03def8"/><stop offset=".981" stop-color="#038cfb"/><stop offset="1" stop-color="#0388fb"/></linearGradient><linearGradient id="b40"><stop offset="0" stop-color="#7dff7a"/><stop offset=".5" stop-color="#8aff6d"/><stop offset=".802" stop-color="#affd48"/><stop offset="1" stop-color="#d5fb22"/></linearGradient><linearGradient id="b41"><stop offset="0" stop-color="#80ff77"/><stop offset=".315" stop-color="#90ff66"/><stop offset=".512" stop-color="#b4ff43"/><stop offset=".673" stop-color="#edfe0a"/><stop offset=".716" stop-color="#fee501"/><stop offset=".938" stop-color="#fe6501"/><stop offset="1" stop-color="#fe5000"/></linearGradient><linearGradient id="b42"><stop offset="0" stop-color="#83ff73"/><stop offset=".265" stop-color="#97ff60"/><stop offset=".438" stop-color="#beff39"/><stop offset=".562" stop-color="#f1fb06"/><stop offset=".605" stop-color="#fee201"/><stop offset=".833" stop-color="#ff4400"/><stop offset=".92" stop-color="#fe1b00"/><stop offset=".969" stop-color="#f50c00"/><stop offset="1" stop-color="#ec0500"/></linearGradient><linearGradient id="b43"><stop offset="0" stop-color="#87ff70"/><stop offset=".241" stop-color="#9dff59"/><stop offset=".42" stop-color="#ceff29"/><stop offset=".494" stop-color="#f1fc06"/><stop offset=".537" stop-color="#ffe200"/><stop offset=".772" stop-color="#ff3400"/><stop offset=".846" stop-color="#fa0f00"/><stop offset=".901" stop-color="#df0100"/><stop offset="1" stop-color="#c90000"/></linearGradient><linearGradient id="b44"><stop offset="0" stop-color="#8aff6d"/><stop offset=".198" stop-color="#9dff59"/><stop offset=".364" stop-color="#caff2c"/><stop offset=".451" stop-color="#f1fc06"/><stop offset=".494" stop-color="#ffdf00"/><stop offset=".63" stop-color="#ff7700"/><stop offset=".728" stop-color="#ff2d00"/><stop offset=".778" stop-color="#fa0f00"/><stop offset=".821" stop-color="#e40000"/><stop offset=".895" stop-color="#c80000"/><stop offset="1" stop-color="#b60000"/></linearGradient><linearGradient id="b45"><stop offset="0" stop-color="#8aff6d"/><stop offset=".21" stop-color="#a7ff50"/><stop offset=".346" stop-color="#d1ff26"/><stop offset=".42" stop-color="#f1fc06"/><stop offset=".451" stop-color="#ffe600"/><stop offset=".562" stop-color="#ff9100"/><stop offset=".698" stop-color="#ff2500"/><stop offset=".735" stop-color="#fa0f00"/><stop offset=".772" stop-color="#e40000"/><stop offset=".846" stop-color="#c40000"/><stop offset=".957" stop-color="#ad0000"/><stop offset="1" stop-color="#a80000"/></linearGradient><linearGradient id="b46"><stop offset="0" stop-color="#8dff6a"/><stop offset=".185" stop-color="#a7ff50"/><stop offset=".333" stop-color="#d4ff23"/><stop offset=".395" stop-color="#f1fc06"/><stop offset=".426" stop-color="#ffe600"/><stop offset=".562" stop-color="#ff7a00"/><stop offset=".679" stop-color="#ff1e00"/><stop offset=".704" stop-color="#fa0f00"/><stop offset=".741" stop-color="#df0000"/><stop offset=".827" stop-color="#bb0000"/><stop offset=".944" stop-color="#a40000"/><stop offset="1" stop-color="#9f0000"/></linearGradient><linearGradient id="b47"><stop offset="0" stop-color="#8dff6a"/><stop offset=".198" stop-color="#adff49"/><stop offset=".333" stop-color="#deff19"/><stop offset=".377" stop-color="#f1fc06"/><stop offset=".407" stop-color="#ffe600"/><stop offset=".525" stop-color="#ff8900"/><stop offset=".66" stop-color="#ff1a00"/><stop offset=".685" stop-color="#f60b00"/><stop offset=".716" stop-color="#df0000"/><stop offset=".802" stop-color="#b60000"/><stop offset=".92" stop-color="#9f0000"/><stop offset="1" stop-color="#960000"/></linearGradient><linearGradient id="b48"><stop offset="0" stop-color="#90ff66"/><stop offset=".198" stop-color="#b1ff46"/><stop offset=".333" stop-color="#e4ff13"/><stop offset=".364" stop-color="#f4f803"/><stop offset=".401" stop-color="#ffe200"/><stop offset=".543" stop-color="#ff6c00"/><stop offset=".66" stop-color="#fa0f00"/><stop offset=".698" stop-color="#df0000"/><stop offset=".79" stop-color="#b20000"/><stop offset=".907" stop-color="#9b0000"/><stop offset="1" stop-color="#920000"/></linearGradient><linearGradient id="b49"><stop offset="0" stop-color="#90ff66"/><stop offset=".185" stop-color="#b1ff46"/><stop offset=".309" stop-color="#deff19"/><stop offset=".358" stop-color="#f4f802"/><stop offset=".383" stop-color="#ffe600"/><stop offset=".5" stop-color="#ff8900"/><stop offset=".636" stop-color="#ff1700"/><stop offset=".679" stop-color="#e40000"/><stop offset=".759" stop-color="#b60000"/><stop offset=".87" stop-color="#9b0000"/><stop offset="1" stop-color="#8d0000"/></linearGradient><linearGradient id="b50"><stop offset="0" stop-color="#90ff66"/><stop offset=".191" stop-color="#b4ff43"/><stop offset=".321" stop-color="#e7ff0f"/><stop offset=".358" stop-color="#fbf100"/><stop offset=".444" stop-color="#ffb200"/><stop offset=".623" stop-color="#ff1a00"/><stop offset=".636" stop-color="#fe1300"/><stop offset=".667" stop-color="#e40000"/><stop offset=".759" stop-color="#b20000"/><stop offset=".87" stop-color="#960000"/><stop offset="1" stop-color="#8d0000"/></linearGradient><linearGradient id="b51"><stop offset="0" stop-color="#94ff63"/><stop offset=".16" stop-color="#adff49"/><stop offset=".296" stop-color="#deff19"/><stop offset=".346" stop-color="#f4f802"/><stop offset=".37" stop-color="#ffe600"/><stop offset=".488" stop-color="#ff8900"/><stop offset=".617" stop-color="#ff1a00"/><stop offset=".63" stop-color="#ff1300"/><stop offset=".66" stop-color="#e40000"/><stop offset=".741" stop-color="#b60000"/><stop offset=".833" stop-color="#9b0000"/><stop offset=".951" stop-color="#8d0000"/><stop offset="1" stop-color="#890000"/></linearGradient><linearGradient id="b52"><stop offset="0" stop-color="#94ff63"/><stop offset=".16" stop-color="#adff49"/><stop offset=".302" stop-color="#e1ff16"/><stop offset=".34" stop-color="#f4f802"/><stop offset=".377" stop-color="#ffe200"/><stop offset=".568" stop-color="#ff3f00"/><stop offset=".63" stop-color="#fa0f00"/><stop offset=".667" stop-color="#df0000"/><stop offset=".735" stop-color="#b60000"/><stop offset=".846" stop-color="#960000"/><stop offset=".994" stop-color="#890000"/><stop offset="1" stop-color="#890000"/></linearGradient><linearGradient id="b53"><stop offset="0" stop-color="#94ff63"/><stop offset=".16" stop-color="#adff49"/><stop offset=".302" stop-color="#e1ff16"/><stop offset=".34" stop-color="#f4f802"/><stop offset=".377" stop-color="#ffe200"/><stop offset=".525" stop-color="#ff6400"/><stop offset=".63" stop-color="#fa0f00"/><stop offset=".667" stop-color="#df0000"/><stop offset=".722" stop-color="#bb0000"/><stop offset=".815" stop-color="#9b0000"/><stop offset=".957" stop-color="#890000"/><stop offset="1" stop-color="#840000"/></linearGradient><linearGradient id="b54"><stop offset="0" stop-color="#94ff63"/><stop offset=".16" stop-color="#adff49"/><stop offset=".296" stop-color="#deff19"/><stop offset=".346" stop-color="#f4f802"/><stop offset=".37" stop-color="#ffe600"/><stop offset=".481" stop-color="#ff8d00"/><stop offset=".623" stop-color="#ff1300"/><stop offset=".66" stop-color="#e30000"/><stop offset=".722" stop-color="#bb0000"/><stop offset=".815" stop-color="#9b0000"/><stop offset=".944" stop-color="#890000"/><stop offset="1" stop-color="#840000"/></linearGradient><linearGradient id="b55"><stop offset="0" stop-color="#90ff66"/><stop offset=".198" stop-color="#b7ff40"/><stop offset=".321" stop-color="#e7ff0f"/><stop offset=".358" stop-color="#fbf100"/><stop offset=".469" stop-color="#ff9c00"/><stop offset=".623" stop-color="#ff1600"/><stop offset=".66" stop-color="#e40000"/><stop offset=".747" stop-color="#b20000"/><stop offset=".84" stop-color="#960000"/><stop offset=".957" stop-color="#890000"/><stop offset="1" stop-color="#840000"/></linearGradient><linearGradient id="b56"><stop offset="0" stop-color="#90ff66"/><stop offset=".198" stop-color="#b4ff43"/><stop offset=".327" stop-color="#e7ff0f"/><stop offset=".37" stop-color="#feed00"/><stop offset=".481" stop-color="#ff9800"/><stop offset=".617" stop-color="#ff2200"/><stop offset=".642" stop-color="#fa0f00"/><stop offset=".679" stop-color="#df0000"/><stop offset=".753" stop-color="#b20000"/><stop offset=".846" stop-color="#960000"/><stop offset="1" stop-color="#840000"/></linearGradient><linearGradient id="b57"><stop offset="0" stop-color="#90ff66"/><stop offset=".198" stop-color="#b1ff46"/><stop offset=".333" stop-color="#e4ff13"/><stop offset=".364" stop-color="#f4f803"/><stop offset=".407" stop-color="#ffde00"/><stop offset=".58" stop-color="#ff4a00"/><stop offset=".654" stop-color="#fa0f00"/><stop offset=".691" stop-color="#df0000"/><stop offset=".765" stop-color="#b20000"/><stop offset=".858" stop-color="#960000"/><stop offset=".963" stop-color="#890000"/><stop offset="1" stop-color="#840000"/></linearGradient><linearGradient id="b58"><stop offset="0" stop-color="#8dff6a"/><stop offset=".216" stop-color="#b1ff46"/><stop offset=".352" stop-color="#e4ff13"/><stop offset=".389" stop-color="#f7f500"/><stop offset=".444" stop-color="#ffd000"/><stop offset=".66" stop-color="#ff1700"/><stop offset=".698" stop-color="#e40000"/><stop offset=".79" stop-color="#ad0000"/><stop offset=".92" stop-color="#8d0000"/><stop offset="1" stop-color="#840000"/></linearGradient><linearGradient id="b59"><stop offset="0" stop-color="#8dff6a"/><stop offset=".185" stop-color="#a4ff53"/><stop offset=".34" stop-color="#d4ff23"/><stop offset=".401" stop-color="#f1fc06"/><stop offset=".444" stop-color="#ffde00"/><stop offset=".574" stop-color="#ff7300"/><stop offset=".679" stop-color="#ff1a00"/><stop offset=".722" stop-color="#e40000"/><stop offset=".802" stop-color="#b20000"/><stop offset=".895" stop-color="#960000"/><stop offset="1" stop-color="#890000"/></linearGradient><linearGradient id="b60"><stop offset="0" stop-color="#8aff6d"/><stop offset=".21" stop-color="#a4ff53"/><stop offset=".352" stop-color="#ceff29"/><stop offset=".426" stop-color="#f1fc06"/><stop offset=".469" stop-color="#ffdf00"/><stop offset=".593" stop-color="#ff7a00"/><stop offset=".71" stop-color="#ff1600"/><stop offset=".747" stop-color="#e40000"/><stop offset=".827" stop-color="#b20000"/><stop offset=".92" stop-color="#960000"/><stop offset="1" stop-color="#890000"/></linearGradient><linearGradient id="b61"><stop offset="0" stop-color="#87ff70"/><stop offset=".222" stop-color="#a1ff56"/><stop offset=".383" stop-color="#ceff29"/><stop offset=".457" stop-color="#f1fc06"/><stop offset=".5" stop-color="#ffde00"/><stop offset=".642" stop-color="#ff6800"/><stop offset=".728" stop-color="#ff1e00"/><stop offset=".753" stop-color="#f50b00"/><stop offset=".784" stop-color="#df0000"/><stop offset=".858" stop-color="#b20000"/><stop offset=".969" stop-color="#920000"/><stop offset="1" stop-color="#8d0000"/></linearGradient><linearGradient id="b62"><stop offset="0" stop-color="#87ff70"/><stop offset=".241" stop-color="#9dff59"/><stop offset=".395" stop-color="#c7ff30"/><stop offset=".488" stop-color="#f1fc06"/><stop offset=".531" stop-color="#ffde00"/><stop offset=".654" stop-color="#ff7700"/><stop offset=".772" stop-color="#fe1300"/><stop offset=".802" stop-color="#e40000"/><stop offset=".895" stop-color="#ad0000"/><stop offset="1" stop-color="#920000"/></linearGradient><linearGradient id="b63"><stop offset="0" stop-color="#84ff73"/><stop offset=".272" stop-color="#9dff59"/><stop offset=".426" stop-color="#c7ff30"/><stop offset=".519" stop-color="#f1fc06"/><stop offset=".556" stop-color="#ffe200"/><stop offset=".698" stop-color="#ff6b00"/><stop offset=".796" stop-color="#ff1600"/><stop offset=".833" stop-color="#e40000"/><stop offset=".914" stop-color="#b20000"/><stop offset="1" stop-color="#960000"/></linearGradient><linearGradient id="b64"><stop offset="0" stop-color="#83ff73"/><stop offset=".259" stop-color="#97ff60"/><stop offset=".426" stop-color="#beff39"/><stop offset=".543" stop-color="#f1fc06"/><stop offset=".586" stop-color="#ffde00"/><stop offset=".716" stop-color="#ff7300"/><stop offset=".833" stop-color="#fa0f00"/><stop offset=".858" stop-color="#e40000"/><stop offset=".951" stop-color="#ad0000"/><stop offset="1" stop-color="#9b0000"/></linearGradient><linearGradient id="b65"><stop offset="0" stop-color="#83ff73"/><stop offset=".259" stop-color="#94ff63"/><stop offset=".438" stop-color="#baff3c"/><stop offset=".568" stop-color="#f1fc06"/><stop offset=".611" stop-color="#ffde00"/><stop offset=".722" stop-color="#ff8200"/><stop offset=".852" stop-color="#fe1300"/><stop offset=".883" stop-color="#e40000"/><stop offset=".963" stop-color="#b20000"/><stop offset="1" stop-color="#a40000"/></linearGradient><linearGradient id="b66"><stop offset="0" stop-color="#80ff76"/><stop offset=".302" stop-color="#97ff60"/><stop offset=".488" stop-color="#c4ff33"/><stop offset=".586" stop-color="#f1fc06"/><stop offset=".63" stop-color="#ffe200"/><stop offset=".772" stop-color="#ff6800"/><stop offset=".877" stop-color="#fa0f00"/><stop offset=".914" stop-color="#df0000"/><stop offset=".994" stop-color="#ad0000"/><stop offset="1" stop-color="#ad0000"/></linearGradient><linearGradient id="b67"><stop offset="0" stop-color="#80ff77"/><stop offset=".315" stop-color="#97ff60"/><stop offset=".488" stop-color="#beff39"/><stop offset=".605" stop-color="#f1fc06"/><stop offset=".648" stop-color="#ffe200"/><stop offset=".796" stop-color="#ff6400"/><stop offset=".895" stop-color="#fa0f00"/><stop offset=".932" stop-color="#df0000"/><stop offset="1" stop-color="#b60000"/></linearGradient><linearGradient id="b68"><stop offset="0" stop-color="#80ff77"/><stop offset=".315" stop-color="#94ff63"/><stop offset=".506" stop-color="#beff39"/><stop offset=".63" stop-color="#f1fc06"/><stop offset=".66" stop-color="#ffe600"/><stop offset=".778" stop-color="#ff8500"/><stop offset=".907" stop-color="#ff1600"/><stop offset=".944" stop-color="#e40000"/><stop offset="1" stop-color="#bf0000"/></linearGradient><linearGradient id="b69"><stop offset="0" stop-color="#80ff77"/><stop offset=".302" stop-color="#90ff66"/><stop offset=".481" stop-color="#b1ff46"/><stop offset=".63" stop-color="#e7ff0f"/><stop offset=".654" stop-color="#f4f803"/><stop offset=".679" stop-color="#ffe600"/><stop offset=".802" stop-color="#ff8200"/><stop offset=".926" stop-color="#ff1600"/><stop offset=".963" stop-color="#e40000"/><stop offset="1" stop-color="#cd0000"/></linearGradient><linearGradient id="b70"><stop offset="0" stop-color="#80ff77"/><stop offset=".327" stop-color="#90ff66"/><stop offset=".512" stop-color="#b4ff43"/><stop offset=".648" stop-color="#e7ff0f"/><stop offset=".691" stop-color="#feed00"/><stop offset=".821" stop-color="#ff8200"/><stop offset=".951" stop-color="#fe1300"/><stop offset=".981" stop-color="#e40000"/><stop offset="1" stop-color="#d60000"/></linearGradient><linearGradient id="b71"><stop offset="0" stop-color="#80ff77"/><stop offset=".315" stop-color="#8dff6a"/><stop offset=".512" stop-color="#adff49"/><stop offset=".654" stop-color="#e1ff16"/><stop offset=".691" stop-color="#f4f803"/><stop offset=".735" stop-color="#ffdb00"/><stop offset=".858" stop-color="#ff7300"/><stop offset=".975" stop-color="#fa0f00"/><stop offset="1" stop-color="#e80000"/></linearGradient><linearGradient id="b72"><stop offset="0" stop-color="#80ff77"/><stop offset=".333" stop-color="#8dff6a"/><stop offset=".531" stop-color="#adff49"/><stop offset=".667" stop-color="#deff19"/><stop offset=".704" stop-color="#eeff09"/><stop offset=".728" stop-color="#feed00"/><stop offset=".846" stop-color="#ff9100"/><stop offset=".981" stop-color="#ff1a00"/><stop offset=".994" stop-color="#fe1300"/><stop offset="1" stop-color="#f60b00"/></linearGradient><linearGradient id="b73"><stop offset="0" stop-color="#7dff7a"/><stop offset=".389" stop-color="#90ff66"/><stop offset=".574" stop-color="#b4ff43"/><stop offset=".71" stop-color="#e7ff0f"/><stop offset=".747" stop-color="#fbf100"/><stop offset=".87" stop-color="#ff8d00"/><stop offset="1" stop-color="#ff1a00"/></linearGradient><linearGradient id="b74"><stop offset="0" stop-color="#7dff7a"/><stop offset=".377" stop-color="#8dff6a"/><stop offset=".574" stop-color="#adff49"/><stop offset=".716" stop-color="#e1ff16"/><stop offset=".753" stop-color="#f4f803"/><stop offset=".796" stop-color="#ffdb00"/><stop offset=".926" stop-color="#ff6c00"/><stop offset="1" stop-color="#ff2900"/></linearGradient><linearGradient id="b75"><stop offset="0" stop-color="#7dff7a"/><stop offset=".395" stop-color="#8dff6a"/><stop offset=".593" stop-color="#adff49"/><stop offset=".735" stop-color="#e1ff16"/><stop offset=".772" stop-color="#f4f803"/><stop offset=".815" stop-color="#ffdb00"/><stop offset="1" stop-color="#ff3800"/></linearGradient><linearGradient id="b76"><stop offset="0" stop-color="#7dff7a"/><stop offset=".414" stop-color="#8dff6a"/><stop offset=".617" stop-color="#b1ff46"/><stop offset=".765" stop-color="#e8ff0f"/><stop offset=".79" stop-color="#f7f500"/><stop offset=".846" stop-color="#ffcf00"/><stop offset="1" stop-color="#ff4700"/></linearGradient><linearGradient id="b77"><stop offset="0" stop-color="#7dff7a"/><stop offset=".389" stop-color="#8aff6d"/><stop offset=".593" stop-color="#a7ff50"/><stop offset=".735" stop-color="#d4ff23"/><stop offset=".796" stop-color="#f1fc06"/><stop offset=".827" stop-color="#ffe600"/><stop offset=".944" stop-color="#ff8500"/><stop offset="1" stop-color="#ff5200"/></linearGradient><linearGradient id="b78"><stop offset="0" stop-color="#7dff7a"/><stop offset=".401" stop-color="#8aff6d"/><stop offset=".617" stop-color="#aaff4d"/><stop offset=".759" stop-color="#dbff1c"/><stop offset=".809" stop-color="#f4f802"/><stop offset=".846" stop-color="#ffde00"/><stop offset=".951" stop-color="#ff8900"/><stop offset="1" stop-color="#ff5d00"/></linearGradient><linearGradient id="b79"><stop offset="0" stop-color="#7dff7a"/><stop offset=".401" stop-color="#8aff6d"/><stop offset=".623" stop-color="#aaff4d"/><stop offset=".778" stop-color="#e1ff16"/><stop offset=".815" stop-color="#f4f802"/><stop offset=".852" stop-color="#ffde00"/><stop offset=".975" stop-color="#ff7700"/><stop offset="1" stop-color="#ff6000"/></linearGradient><linearGradient id="b80"><stop offset="0" stop-color="#7dff7a"/><stop offset=".401" stop-color="#8aff6d"/><stop offset=".623" stop-color="#aaff4d"/><stop offset=".778" stop-color="#e1ff16"/><stop offset=".815" stop-color="#f4f802"/><stop offset=".852" stop-color="#ffde00"/><stop offset=".975" stop-color="#ff7700"/><stop offset="1" stop-color="#ff6000"/></linearGradient><linearGradient id="b81"><stop offset="0" stop-color="#7dff7a"/><stop offset=".401" stop-color="#8aff6d"/><stop offset=".617" stop-color="#aaff4d"/><stop offset=".759" stop-color="#dbff1c"/><stop offset=".809" stop-color="#f4f802"/><stop offset=".846" stop-color="#ffde00"/><stop offset=".951" stop-color="#ff8900"/><stop offset="1" stop-color="#ff5d00"/></linearGradient><linearGradient id="b82"><stop offset="0" stop-color="#7dff7a"/><stop offset=".389" stop-color="#8aff6d"/><stop offset=".593" stop-color="#a7ff50"/><stop offset=".735" stop-color="#d4ff23"/><stop offset=".796" stop-color="#f1fc06"/><stop offset=".827" stop-color="#ffe600"/><stop offset=".944" stop-color="#ff8500"/><stop offset="1" stop-color="#ff5200"/></linearGradient><linearGradient id="b83"><stop offset="0" stop-color="#7dff7a"/><stop offset=".414" stop-color="#8dff6a"/><stop offset=".617" stop-color="#b1ff46"/><stop offset=".765" stop-color="#e8ff0f"/><stop offset=".79" stop-color="#f7f500"/><stop offset=".846" stop-color="#ffcf00"/><stop offset="1" stop-color="#ff4700"/></linearGradient><linearGradient id="b84"><stop offset="0" stop-color="#7dff7a"/><stop offset=".395" stop-color="#8dff6a"/><stop offset=".593" stop-color="#adff49"/><stop offset=".735" stop-color="#e1ff16"/><stop offset=".772" stop-color="#f4f803"/><stop offset=".815" stop-color="#ffdb00"/><stop offset="1" stop-color="#ff3800"/></linearGradient><linearGradient id="b85"><stop offset="0" stop-color="#7dff7a"/><stop offset=".377" stop-color="#8dff6a"/><stop offset=".574" stop-color="#adff49"/><stop offset=".716" stop-color="#e1ff16"/><stop offset=".753" stop-color="#f4f803"/><stop offset=".796" stop-color="#ffdb00"/><stop offset=".926" stop-color="#ff6c00"/><stop offset="1" stop-color="#ff2900"/></linearGradient><linearGradient id="b86"><stop offset="0" stop-color="#7dff7a"/><stop offset=".389" stop-color="#90ff66"/><stop offset=".574" stop-color="#b4ff43"/><stop offset=".71" stop-color="#e7ff0f"/><stop offset=".747" stop-color="#fbf100"/><stop offset=".87" stop-color="#ff8d00"/><stop offset="1" stop-color="#ff1a00"/></linearGradient><linearGradient id="b87"><stop offset="0" stop-color="#80ff77"/><stop offset=".333" stop-color="#8dff6a"/><stop offset=".531" stop-color="#adff49"/><stop offset=".667" stop-color="#deff19"/><stop offset=".704" stop-color="#eeff09"/><stop offset=".728" stop-color="#feed00"/><stop offset=".846" stop-color="#ff9100"/><stop offset=".981" stop-color="#ff1a00"/><stop offset=".994" stop-color="#fe1300"/><stop offset="1" stop-color="#f60b00"/></linearGradient><linearGradient id="b88"><stop offset="0" stop-color="#80ff77"/><stop offset=".315" stop-color="#8dff6a"/><stop offset=".512" stop-color="#adff49"/><stop offset=".654" stop-color="#e1ff16"/><stop offset=".691" stop-color="#f4f803"/><stop offset=".735" stop-color="#ffdb00"/><stop offset=".858" stop-color="#ff7300"/><stop offset=".975" stop-color="#fa0f00"/><stop offset="1" stop-color="#e80000"/></linearGradient><linearGradient id="b89"><stop offset="0" stop-color="#80ff77"/><stop offset=".327" stop-color="#90ff66"/><stop offset=".512" stop-color="#b4ff43"/><stop offset=".648" stop-color="#e7ff0f"/><stop offset=".691" stop-color="#feed00"/><stop offset=".821" stop-color="#ff8200"/><stop offset=".951" stop-color="#fe1300"/><stop offset=".981" stop-color="#e40000"/><stop offset="1" stop-color="#d60000"/></linearGradient><linearGradient id="b90"><stop offset="0" stop-color="#80ff77"/><stop offset=".302" stop-color="#90ff66"/><stop offset=".481" stop-color="#b1ff46"/><stop offset=".63" stop-color="#e7ff0f"/><stop offset=".654" stop-color="#f4f803"/><stop offset=".679" stop-color="#ffe600"/><stop offset=".802" stop-color="#ff8200"/><stop offset=".926" stop-color="#ff1600"/><stop offset=".963" stop-color="#e40000"/><stop offset="1" stop-color="#cd0000"/></linearGradient><linearGradient id="b91"><stop offset="0" stop-color="#80ff77"/><stop offset=".315" stop-color="#94ff63"/><stop offset=".506" stop-color="#beff39"/><stop offset=".63" stop-color="#f1fc06"/><stop offset=".66" stop-color="#ffe600"/><stop offset=".778" stop-color="#ff8500"/><stop offset=".907" stop-color="#ff1600"/><stop offset=".944" stop-color="#e40000"/><stop offset="1" stop-color="#bf0000"/></linearGradient><linearGradient id="b92"><stop offset="0" stop-color="#80ff77"/><stop offset=".315" stop-color="#97ff60"/><stop offset=".488" stop-color="#beff39"/><stop offset=".605" stop-color="#f1fc06"/><stop offset=".648" stop-color="#ffe200"/><stop offset=".796" stop-color="#ff6400"/><stop offset=".895" stop-color="#fa0f00"/><stop offset=".932" stop-color="#df0000"/><stop offset="1" stop-color="#b60000"/></linearGradient><linearGradient id="b93"><stop offset="0" stop-color="#80ff76"/><stop offset=".302" stop-color="#97ff60"/><stop offset=".488" stop-color="#c4ff33"/><stop offset=".586" stop-color="#f1fc06"/><stop offset=".63" stop-color="#ffe200"/><stop offset=".772" stop-color="#ff6800"/><stop offset=".877" stop-color="#fa0f00"/><stop offset=".914" stop-color="#df0000"/><stop offset=".994" stop-color="#ad0000"/><stop offset="1" stop-color="#ad0000"/></linearGradient><linearGradient id="b94"><stop offset="0" stop-color="#83ff73"/><stop offset=".259" stop-color="#94ff63"/><stop offset=".438" stop-color="#baff3c"/><stop offset=".568" stop-color="#f1fc06"/><stop offset=".611" stop-color="#ffde00"/><stop offset=".722" stop-color="#ff8200"/><stop offset=".852" stop-color="#fe1300"/><stop offset=".883" stop-color="#e40000"/><stop offset=".963" stop-color="#b20000"/><stop offset="1" stop-color="#a40000"/></linearGradient><linearGradient id="b95"><stop offset="0" stop-color="#83ff73"/><stop offset=".259" stop-color="#97ff60"/><stop offset=".426" stop-color="#beff39"/><stop offset=".543" stop-color="#f1fc06"/><stop offset=".586" stop-color="#ffde00"/><stop offset=".716" stop-color="#ff7300"/><stop offset=".833" stop-color="#fa0f00"/><stop offset=".858" stop-color="#e40000"/><stop offset=".951" stop-color="#ad0000"/><stop offset="1" stop-color="#9b0000"/></linearGradient><linearGradient id="b96"><stop offset="0" stop-color="#84ff73"/><stop offset=".272" stop-color="#9dff59"/><stop offset=".426" stop-color="#c7ff30"/><stop offset=".519" stop-color="#f1fc06"/><stop offset=".556" stop-color="#ffe200"/><stop offset=".698" stop-color="#ff6b00"/><stop offset=".796" stop-color="#ff1600"/><stop offset=".833" stop-color="#e40000"/><stop offset=".914" stop-color="#b20000"/><stop offset="1" stop-color="#960000"/></linearGradient><linearGradient id="b97"><stop offset="0" stop-color="#87ff70"/><stop offset=".241" stop-color="#9dff59"/><stop offset=".395" stop-color="#c7ff30"/><stop offset=".488" stop-color="#f1fc06"/><stop offset=".531" stop-color="#ffde00"/><stop offset=".654" stop-color="#ff7700"/><stop offset=".772" stop-color="#fe1300"/><stop offset=".802" stop-color="#e40000"/><stop offset=".895" stop-color="#ad0000"/><stop offset="1" stop-color="#920000"/></linearGradient><linearGradient id="b98"><stop offset="0" stop-color="#87ff70"/><stop offset=".222" stop-color="#a1ff56"/><stop offset=".383" stop-color="#ceff29"/><stop offset=".457" stop-color="#f1fc06"/><stop offset=".5" stop-color="#ffde00"/><stop offset=".642" stop-color="#ff6800"/><stop offset=".728" stop-color="#ff1e00"/><stop offset=".753" stop-color="#f50b00"/><stop offset=".784" stop-color="#df0000"/><stop offset=".858" stop-color="#b20000"/><stop offset=".969" stop-color="#920000"/><stop offset="1" stop-color="#8d0000"/></linearGradient><linearGradient id="b99"><stop offset="0" stop-color="#8aff6d"/><stop offset=".21" stop-color="#a4ff53"/><stop offset=".352" stop-color="#ceff29"/><stop offset=".426" stop-color="#f1fc06"/><stop offset=".469" stop-color="#ffdf00"/><stop offset=".593" stop-color="#ff7a00"/><stop offset=".71" stop-color="#ff1600"/><stop offset=".747" stop-color="#e40000"/><stop offset=".827" stop-color="#b20000"/><stop offset=".92" stop-color="#960000"/><stop offset="1" stop-color="#890000"/></linearGradient><linearGradient id="b100"><stop offset="0" stop-color="#8dff6a"/><stop offset=".185" stop-color="#a4ff53"/><stop offset=".34" stop-color="#d4ff23"/><stop offset=".401" stop-color="#f1fc06"/><stop offset=".444" stop-color="#ffde00"/><stop offset=".574" stop-color="#ff7300"/><stop offset=".679" stop-color="#ff1a00"/><stop offset=".722" stop-color="#e40000"/><stop offset=".802" stop-color="#b20000"/><stop offset=".895" stop-color="#960000"/><stop offset="1" stop-color="#890000"/></linearGradient><linearGradient id="b101"><stop offset="0" stop-color="#8dff6a"/><stop offset=".216" stop-color="#b1ff46"/><stop offset=".352" stop-color="#e4ff13"/><stop offset=".389" stop-color="#f7f500"/><stop offset=".444" stop-color="#ffd000"/><stop offset=".66" stop-color="#ff1700"/><stop offset=".698" stop-color="#e40000"/><stop offset=".79" stop-color="#ad0000"/><stop offset=".92" stop-color="#8d0000"/><stop offset="1" stop-color="#840000"/></linearGradient><linearGradient id="b102"><stop offset="0" stop-color="#90ff66"/><stop offset=".198" stop-color="#b1ff46"/><stop offset=".333" stop-color="#e4ff13"/><stop offset=".364" stop-color="#f4f803"/><stop offset=".407" stop-color="#ffde00"/><stop offset=".58" stop-color="#ff4a00"/><stop offset=".654" stop-color="#fa0f00"/><stop offset=".691" stop-color="#df0000"/><stop offset=".765" stop-color="#b20000"/><stop offset=".858" stop-color="#960000"/><stop offset=".963" stop-color="#890000"/><stop offset="1" stop-color="#840000"/></linearGradient><linearGradient id="b103"><stop offset="0" stop-color="#90ff66"/><stop offset=".198" stop-color="#b4ff43"/><stop offset=".327" stop-color="#e7ff0f"/><stop offset=".37" stop-color="#feed00"/><stop offset=".481" stop-color="#ff9800"/><stop offset=".617" stop-color="#ff2200"/><stop offset=".642" stop-color="#fa0f00"/><stop offset=".679" stop-color="#df0000"/><stop offset=".753" stop-color="#b20000"/><stop offset=".846" stop-color="#960000"/><stop offset="1" stop-color="#840000"/></linearGradient><linearGradient id="b104"><stop offset="0" stop-color="#90ff66"/><stop offset=".198" stop-color="#b7ff40"/><stop offset=".321" stop-color="#e7ff0f"/><stop offset=".358" stop-color="#fbf100"/><stop offset=".469" stop-color="#ff9c00"/><stop offset=".623" stop-color="#ff1600"/><stop offset=".66" stop-color="#e40000"/><stop offset=".747" stop-color="#b20000"/><stop offset=".84" stop-color="#960000"/><stop offset=".957" stop-color="#890000"/><stop offset="1" stop-color="#840000"/></linearGradient><linearGradient id="b105"><stop offset="0" stop-color="#94ff63"/><stop offset=".16" stop-color="#adff49"/><stop offset=".296" stop-color="#deff19"/><stop offset=".346" stop-color="#f4f802"/><stop offset=".37" stop-color="#ffe600"/><stop offset=".481" stop-color="#ff8d00"/><stop offset=".623" stop-color="#ff1300"/><stop offset=".66" stop-color="#e30000"/><stop offset=".722" stop-color="#bb0000"/><stop offset=".815" stop-color="#9b0000"/><stop offset=".944" stop-color="#890000"/><stop offset="1" stop-color="#840000"/></linearGradient><linearGradient id="b106"><stop offset="0" stop-color="#94ff63"/><stop offset=".16" stop-color="#adff49"/><stop offset=".302" stop-color="#e1ff16"/><stop offset=".34" stop-color="#f4f802"/><stop offset=".377" stop-color="#ffe200"/><stop offset=".525" stop-color="#ff6400"/><stop offset=".63" stop-color="#fa0f00"/><stop offset=".667" stop-color="#df0000"/><stop offset=".722" stop-color="#bb0000"/><stop offset=".815" stop-color="#9b0000"/><stop offset=".957" stop-color="#890000"/><stop offset="1" stop-color="#840000"/></linearGradient><linearGradient id="b107"><stop offset="0" stop-color="#94ff63"/><stop offset=".16" stop-color="#adff49"/><stop offset=".302" stop-color="#e1ff16"/><stop offset=".34" stop-color="#f4f802"/><stop offset=".377" stop-color="#ffe200"/><stop offset=".568" stop-color="#ff3f00"/><stop offset=".63" stop-color="#fa0f00"/><stop offset=".667" stop-color="#df0000"/><stop offset=".735" stop-color="#b60000"/><stop offset=".846" stop-color="#960000"/><stop offset=".994" stop-color="#890000"/><stop offset="1" stop-color="#890000"/></linearGradient><linearGradient id="b108"><stop offset="0" stop-color="#94ff63"/><stop offset=".16" stop-color="#adff49"/><stop offset=".296" stop-color="#deff19"/><stop offset=".346" stop-color="#f4f802"/><stop offset=".37" stop-color="#ffe600"/><stop offset=".488" stop-color="#ff8900"/><stop offset=".617" stop-color="#ff1a00"/><stop offset=".63" stop-color="#ff1300"/><stop offset=".66" stop-color="#e40000"/><stop offset=".741" stop-color="#b60000"/><stop offset=".833" stop-color="#9b0000"/><stop offset=".951" stop-color="#8d0000"/><stop offset="1" stop-color="#890000"/></linearGradient><linearGradient id="b109"><stop offset="0" stop-color="#90ff66"/><stop offset=".191" stop-color="#b4ff43"/><stop offset=".321" stop-color="#e7ff0f"/><stop offset=".358" stop-color="#fbf100"/><stop offset=".444" stop-color="#ffb200"/><stop offset=".623" stop-color="#ff1a00"/><stop offset=".636" stop-color="#fe1300"/><stop offset=".667" stop-color="#e40000"/><stop offset=".759" stop-color="#b20000"/><stop offset=".87" stop-color="#960000"/><stop offset="1" stop-color="#8d0000"/></linearGradient><linearGradient id="b110"><stop offset="0" stop-color="#90ff66"/><stop offset=".185" stop-color="#b1ff46"/><stop offset=".309" stop-color="#deff19"/><stop offset=".358" stop-color="#f4f802"/><stop offset=".383" stop-color="#ffe600"/><stop offset=".5" stop-color="#ff8900"/><stop offset=".636" stop-color="#ff1700"/><stop offset=".679" stop-color="#e40000"/><stop offset=".759" stop-color="#b60000"/><stop offset=".87" stop-color="#9b0000"/><stop offset="1" stop-color="#8d0000"/></linearGradient><linearGradient id="b111"><stop offset="0" stop-color="#90ff66"/><stop offset=".198" stop-color="#b1ff46"/><stop offset=".333" stop-color="#e4ff13"/><stop offset=".364" stop-color="#f4f803"/><stop offset=".401" stop-color="#ffe200"/><stop offset=".543" stop-color="#ff6c00"/><stop offset=".66" stop-color="#fa0f00"/><stop offset=".698" stop-color="#df0000"/><stop offset=".79" stop-color="#b20000"/><stop offset=".907" stop-color="#9b0000"/><stop offset="1" stop-color="#920000"/></linearGradient><linearGradient id="b112"><stop offset="0" stop-color="#8dff6a"/><stop offset=".198" stop-color="#adff49"/><stop offset=".333" stop-color="#deff19"/><stop offset=".377" stop-color="#f1fc06"/><stop offset=".407" stop-color="#ffe600"/><stop offset=".525" stop-color="#ff8900"/><stop offset=".66" stop-color="#ff1a00"/><stop offset=".685" stop-color="#f60b00"/><stop offset=".716" stop-color="#df0000"/><stop offset=".802" stop-color="#b60000"/><stop offset=".92" stop-color="#9f0000"/><stop offset="1" stop-color="#960000"/></linearGradient><linearGradient id="b113"><stop offset="0" stop-color="#8dff6a"/><stop offset=".185" stop-color="#a7ff50"/><stop offset=".333" stop-color="#d4ff23"/><stop offset=".395" stop-color="#f1fc06"/><stop offset=".426" stop-color="#ffe600"/><stop offset=".562" stop-color="#ff7a00"/><stop offset=".679" stop-color="#ff1e00"/><stop offset=".704" stop-color="#fa0f00"/><stop offset=".741" stop-color="#df0000"/><stop offset=".827" stop-color="#bb0000"/><stop offset=".944" stop-color="#a40000"/><stop offset="1" stop-color="#9f0000"/></linearGradient><linearGradient id="b114"><stop offset="0" stop-color="#8aff6d"/><stop offset=".21" stop-color="#a7ff50"/><stop offset=".346" stop-color="#d1ff26"/><stop offset=".42" stop-color="#f1fc06"/><stop offset=".451" stop-color="#ffe600"/><stop offset=".562" stop-color="#ff9100"/><stop offset=".698" stop-color="#ff2500"/><stop offset=".735" stop-color="#fa0f00"/><stop offset=".772" stop-color="#e40000"/><stop offset=".846" stop-color="#c40000"/><stop offset=".957" stop-color="#ad0000"/><stop offset="1" stop-color="#a80000"/></linearGradient><linearGradient id="b115"><stop offset="0" stop-color="#8aff6d"/><stop offset=".198" stop-color="#9dff59"/><stop offset=".364" stop-color="#caff2c"/><stop offset=".451" stop-color="#f1fc06"/><stop offset=".494" stop-color="#ffdf00"/><stop offset=".63" stop-color="#ff7700"/><stop offset=".728" stop-color="#ff2d00"/><stop offset=".778" stop-color="#fa0f00"/><stop offset=".821" stop-color="#e40000"/><stop offset=".895" stop-color="#c80000"/><stop offset="1" stop-color="#b60000"/></linearGradient><linearGradient id="b116"><stop offset="0" stop-color="#87ff70"/><stop offset=".241" stop-color="#9dff59"/><stop offset=".42" stop-color="#ceff29"/><stop offset=".494" stop-color="#f1fc06"/><stop offset=".537" stop-color="#ffe200"/><stop offset=".772" stop-color="#ff3400"/><stop offset=".846" stop-color="#fa0f00"/><stop offset=".901" stop-color="#df0100"/><stop offset="1" stop-color="#c90000"/></linearGradient><linearGradient id="b117"><stop offset="0" stop-color="#83ff73"/><stop offset=".265" stop-color="#97ff60"/><stop offset=".438" stop-color="#beff39"/><stop offset=".562" stop-color="#f1fb06"/><stop offset=".605" stop-color="#fee201"/><stop offset=".833" stop-color="#ff4400"/><stop offset=".92" stop-color="#fe1b00"/><stop offset=".969" stop-color="#f50c00"/><stop offset="1" stop-color="#ec0500"/></linearGradient><linearGradient id="b118"><stop offset="0" stop-color="#80ff77"/><stop offset=".315" stop-color="#90ff66"/><stop offset=".512" stop-color="#b4ff43"/><stop offset=".673" stop-color="#edfe0a"/><stop offset=".716" stop-color="#fee501"/><stop offset=".938" stop-color="#fe6501"/><stop offset="1" stop-color="#fe5000"/></linearGradient><linearGradient id="b119"><stop offset="0" stop-color="#7dff7a"/><stop offset=".5" stop-color="#8aff6d"/><stop offset=".802" stop-color="#affd48"/><stop offset="1" stop-color="#d5fb22"/></linearGradient><linearGradient id="b120"><stop offset="0" stop-color="#7aff7d"/><stop offset=".383" stop-color="#6dff8a"/><stop offset=".593" stop-color="#4cffaa"/><stop offset=".759" stop-color="#18fcdf"/><stop offset=".821" stop-color="#03def8"/><stop offset=".981" stop-color="#038cfb"/><stop offset="1" stop-color="#0388fb"/></linearGradient><linearGradient id="b121"><stop offset="0" stop-color="#73ff83"/><stop offset=".241" stop-color="#66ff90"/><stop offset=".426" stop-color="#43ffb4"/><stop offset=".556" stop-color="#13fbe4"/><stop offset=".605" stop-color="#01d8fe"/><stop offset=".704" stop-color="#018dfe"/><stop offset=".852" stop-color="#0017fe"/><stop offset=".889" stop-color="#0003fe"/><stop offset=".926" stop-color="#0003f5"/><stop offset="1" stop-color="#0002d1"/></linearGradient><linearGradient id="b122"><stop offset="0" stop-color="#70ff87"/><stop offset=".222" stop-color="#59ff9d"/><stop offset=".377" stop-color="#30ffc7"/><stop offset=".444" stop-color="#13fce4"/><stop offset=".494" stop-color="#01dcfd"/><stop offset=".617" stop-color="#0075ff"/><stop offset=".747" stop-color="#0002fe"/><stop offset=".778" stop-color="#0001f9"/><stop offset=".852" stop-color="#0000c9"/><stop offset=".951" stop-color="#0000a5"/><stop offset="1" stop-color="#000097"/></linearGradient><linearGradient id="b123"><stop offset="0" stop-color="#6aff8d"/><stop offset=".179" stop-color="#53ffa4"/><stop offset=".321" stop-color="#29ffce"/><stop offset=".377" stop-color="#10f8e7"/><stop offset=".42" stop-color="#00dcfd"/><stop offset=".549" stop-color="#006dff"/><stop offset=".667" stop-color="#0002ff"/><stop offset=".691" stop-color="#0001fa"/><stop offset=".79" stop-color="#0000bb"/><stop offset=".901" stop-color="#000097"/><stop offset="1" stop-color="#000089"/></linearGradient><linearGradient id="b124"><stop offset="0" stop-color="#66ff90"/><stop offset=".185" stop-color="#43ffb4"/><stop offset=".315" stop-color="#13fce4"/><stop offset=".364" stop-color="#00d9ff"/><stop offset=".457" stop-color="#008cff"/><stop offset=".605" stop-color="#0001ff"/><stop offset=".63" stop-color="#0000fe"/><stop offset=".716" stop-color="#0000bf"/><stop offset=".833" stop-color="#000096"/><stop offset=".988" stop-color="#000084"/><stop offset="1" stop-color="#000084"/></linearGradient><linearGradient id="b125"><stop offset="0" stop-color="#60ff97"/><stop offset=".173" stop-color="#39ffbe"/><stop offset=".265" stop-color="#13fce4"/><stop offset=".315" stop-color="#00dcfe"/><stop offset=".438" stop-color="#0070ff"/><stop offset=".556" stop-color="#0001ff"/><stop offset=".58" stop-color="#0000fe"/><stop offset=".667" stop-color="#0000bf"/><stop offset=".765" stop-color="#00009b"/><stop offset=".883" stop-color="#000089"/><stop offset="1" stop-color="#000080"/></linearGradient><linearGradient id="b126"><stop offset="0" stop-color="#59ff9d"/><stop offset=".154" stop-color="#30ffc7"/><stop offset=".222" stop-color="#13fce4"/><stop offset=".272" stop-color="#00ddfe"/><stop offset=".401" stop-color="#006cff"/><stop offset=".512" stop-color="#0005ff"/><stop offset=".543" stop-color="#0000fa"/><stop offset=".623" stop-color="#0000bf"/><stop offset=".735" stop-color="#000096"/><stop offset=".889" stop-color="#000084"/><stop offset="1" stop-color="#000080"/></linearGradient><linearGradient id="b127"><stop offset="0" stop-color="#50ffa7"/><stop offset=".117" stop-color="#30ffc7"/><stop offset=".185" stop-color="#13fce4"/><stop offset=".235" stop-color="#00dcfe"/><stop offset=".34" stop-color="#0084ff"/><stop offset=".469" stop-color="#0009ff"/><stop offset=".5" stop-color="#0000fe"/><stop offset=".593" stop-color="#0000bb"/><stop offset=".698" stop-color="#000096"/><stop offset=".84" stop-color="#000084"/><stop offset="1" stop-color="#000080"/></linearGradient><linearGradient id="b128"><stop offset="0" stop-color="#49ffad"/><stop offset=".142" stop-color="#19ffde"/><stop offset=".204" stop-color="#00dcfe"/><stop offset=".315" stop-color="#007cff"/><stop offset=".444" stop-color="#0001ff"/><stop offset=".469" stop-color="#0000fa"/><stop offset=".568" stop-color="#0000b6"/><stop offset=".667" stop-color="#000096"/><stop offset=".809" stop-color="#000084"/><stop offset="1" stop-color="#000080"/></linearGradient><linearGradient id="b129"><stop offset="0" stop-color="#43ffb4"/><stop offset=".123" stop-color="#13fce4"/><stop offset=".173" stop-color="#00dcfe"/><stop offset=".284" stop-color="#007cff"/><stop offset=".414" stop-color="#0001ff"/><stop offset=".438" stop-color="#0000fa"/><stop offset=".531" stop-color="#0000bb"/><stop offset=".617" stop-color="#00009b"/><stop offset=".735" stop-color="#000089"/><stop offset=".92" stop-color="#000080"/><stop offset="1" stop-color="#000080"/></linearGradient><linearGradient id="b130"><stop offset="0" stop-color="#39ffbe"/><stop offset=".099" stop-color="#13fce4"/><stop offset=".148" stop-color="#00d9ff"/><stop offset=".253" stop-color="#0080ff"/><stop offset=".383" stop-color="#0005ff"/><stop offset=".414" stop-color="#0000fa"/><stop offset=".494" stop-color="#0000bf"/><stop offset=".605" stop-color="#000096"/><stop offset=".747" stop-color="#000084"/><stop offset="1" stop-color="#000080"/></linearGradient><linearGradient id="b131"><stop offset="0" stop-color="#30ffc7"/><stop offset=".08" stop-color="#0ff8e7"/><stop offset=".117" stop-color="#00ddfe"/><stop offset=".21" stop-color="#0090ff"/><stop offset=".358" stop-color="#0005ff"/><stop offset=".389" stop-color="#0000fa"/><stop offset=".475" stop-color="#0000bb"/><stop offset=".58" stop-color="#000096"/><stop offset=".722" stop-color="#000084"/><stop offset="1" stop-color="#000080"/></linearGradient><linearGradient id="b132"><stop offset="0" stop-color="#29ffce"/><stop offset=".056" stop-color="#0ff8e8"/><stop offset=".099" stop-color="#00d9ff"/><stop offset=".204" stop-color="#0080ff"/><stop offset=".333" stop-color="#0005ff"/><stop offset=".364" stop-color="#0000fa"/><stop offset=".451" stop-color="#0000bb"/><stop offset=".556" stop-color="#000096"/><stop offset=".698" stop-color="#000084"/><stop offset="1" stop-color="#000080"/></linearGradient><linearGradient id="b133"><stop offset="0" stop-color="#1fffd7"/><stop offset=".031" stop-color="#0ff8e7"/><stop offset=".074" stop-color="#00dcfe"/><stop offset=".185" stop-color="#007cff"/><stop offset=".315" stop-color="#0001ff"/><stop offset=".34" stop-color="#0000fa"/><stop offset=".438" stop-color="#0000b6"/><stop offset=".537" stop-color="#000096"/><stop offset=".667" stop-color="#000084"/><stop offset="1" stop-color="#000080"/></linearGradient><linearGradient id="b134"><stop offset="0" stop-color="#13fce4"/><stop offset=".049" stop-color="#00ddfe"/><stop offset=".142" stop-color="#0090ff"/><stop offset=".29" stop-color="#0005ff"/><stop offset=".321" stop-color="#0000fa"/><stop offset=".407" stop-color="#0000bb"/><stop offset=".512" stop-color="#000096"/><stop offset=".654" stop-color="#000084"/><stop offset="1" stop-color="#000080"/></linearGradient><linearGradient id="b135"><stop offset="0" stop-color="#09f0ee"/><stop offset=".043" stop-color="#00d4ff"/><stop offset=".198" stop-color="#0048ff"/><stop offset=".272" stop-color="#0001ff"/><stop offset=".296" stop-color="#0000fa"/><stop offset=".395" stop-color="#0000b6"/><stop offset=".494" stop-color="#000096"/><stop offset=".623" stop-color="#000084"/><stop offset="1" stop-color="#000080"/></linearGradient><linearGradient id="b136"><stop offset="0" stop-color="#00e4f8"/><stop offset=".056" stop-color="#00b9ff"/><stop offset=".21" stop-color="#0028ff"/><stop offset=".253" stop-color="#0001ff"/><stop offset=".278" stop-color="#0000fa"/><stop offset=".377" stop-color="#0000b6"/><stop offset=".488" stop-color="#000092"/><stop offset=".636" stop-color="#000084"/><stop offset="1" stop-color="#000080"/></linearGradient><linearGradient id="b137"><stop offset="0" stop-color="#00d8ff"/><stop offset=".13" stop-color="#0064ff"/><stop offset=".235" stop-color="#0001ff"/><stop offset=".259" stop-color="#0000fa"/><stop offset=".358" stop-color="#0000b6"/><stop offset=".451" stop-color="#000096"/><stop offset=".593" stop-color="#000084"/><stop offset="1" stop-color="#000080"/></linearGradient><linearGradient id="b138"><stop offset="0" stop-color="#00c8ff"/><stop offset=".099" stop-color="#0070ff"/><stop offset=".216" stop-color="#0001ff"/><stop offset=".241" stop-color="#0000fa"/><stop offset=".34" stop-color="#0000b6"/><stop offset=".451" stop-color="#000092"/><stop offset=".599" stop-color="#000084"/><stop offset="1" stop-color="#000080"/></linearGradient><linearGradient id="b139"><stop offset="0" stop-color="#00b8ff"/><stop offset=".105" stop-color="#0059ff"/><stop offset=".198" stop-color="#0001ff"/><stop offset=".222" stop-color="#0000fa"/><stop offset=".321" stop-color="#0000b6"/><stop offset=".42" stop-color="#000096"/><stop offset=".549" stop-color="#000084"/><stop offset="1" stop-color="#000080"/></linearGradient><linearGradient id="b140"><stop offset="0" stop-color="#00acff"/><stop offset=".179" stop-color="#0005ff"/><stop offset=".204" stop-color="#0000fa"/><stop offset=".302" stop-color="#0000b6"/><stop offset=".383" stop-color="#00009b"/><stop offset=".494" stop-color="#000089"/><stop offset=".691" stop-color="#000080"/><stop offset="1" stop-color="#000080"/></linearGradient><linearGradient id="b141"><stop offset="0" stop-color="#009cff"/><stop offset=".167" stop-color="#0001ff"/><stop offset=".191" stop-color="#0000fa"/><stop offset=".278" stop-color="#0000bb"/><stop offset=".383" stop-color="#000096"/><stop offset=".525" stop-color="#000084"/><stop offset="1" stop-color="#000080"/></linearGradient><linearGradient id="b142"><stop offset="0" stop-color="#008cff"/><stop offset=".148" stop-color="#0001ff"/><stop offset=".173" stop-color="#0000fa"/><stop offset=".253" stop-color="#0000bf"/><stop offset=".364" stop-color="#000096"/><stop offset=".506" stop-color="#000084"/><stop offset="1" stop-color="#000080"/></linearGradient><linearGradient id="b143"><stop offset="0" stop-color="#007cff"/><stop offset=".13" stop-color="#0001ff"/><stop offset=".154" stop-color="#0000fa"/><stop offset=".253" stop-color="#0000b6"/><stop offset=".352" stop-color="#000096"/><stop offset=".481" stop-color="#000084"/><stop offset="1" stop-color="#000080"/></linearGradient><linearGradient id="b144"><stop offset="0" stop-color="#006cff"/><stop offset=".117" stop-color="#0001ff"/><stop offset=".142" stop-color="#0000fa"/><stop offset=".228" stop-color="#0000bb"/><stop offset=".333" stop-color="#000096"/><stop offset=".475" stop-color="#000084"/><stop offset="1" stop-color="#000080"/></linearGradient><linearGradient id="b145"><stop offset="0" stop-color="#005cff"/><stop offset=".099" stop-color="#0001ff"/><stop offset=".123" stop-color="#0000fa"/><stop offset=".204" stop-color="#0000bf"/><stop offset=".315" stop-color="#000096"/><stop offset=".457" stop-color="#000084"/><stop offset="1" stop-color="#000080"/></linearGradient><linearGradient id="b146"><stop offset="0" stop-color="#004cff"/><stop offset=".086" stop-color="#0000ff"/><stop offset=".111" stop-color="#0000f6"/><stop offset=".204" stop-color="#0000b6"/><stop offset=".302" stop-color="#000096"/><stop offset=".432" stop-color="#000084"/><stop offset="1" stop-color="#000080"/></linearGradient><linearGradient id="b147"><stop offset="0" stop-color="#003cff"/><stop offset=".068" stop-color="#0001ff"/><stop offset=".093" stop-color="#0000fa"/><stop offset=".179" stop-color="#0000bb"/><stop offset=".284" stop-color="#000096"/><stop offset=".426" stop-color="#000084"/><stop offset="1" stop-color="#000080"/></linearGradient><linearGradient id="b148"><stop offset="0" stop-color="#002cff"/><stop offset=".049" stop-color="#0001ff"/><stop offset=".074" stop-color="#0000fa"/><stop offset=".154" stop-color="#0000bf"/><stop offset=".265" stop-color="#000096"/><stop offset=".407" stop-color="#000084"/><stop offset="1" stop-color="#000080"/></linearGradient><linearGradient id="b149"><stop offset="0" stop-color="#001cff"/><stop offset=".037" stop-color="#0000ff"/><stop offset=".062" stop-color="#0000f6"/><stop offset=".154" stop-color="#0000b6"/><stop offset=".247" stop-color="#000096"/><stop offset=".389" stop-color="#000084"/><stop offset="1" stop-color="#000080"/></linearGradient><linearGradient id="b150"><stop offset="0" stop-color="#000cff"/><stop offset=".019" stop-color="#0000ff"/><stop offset=".043" stop-color="#0000f6"/><stop offset=".136" stop-color="#0000b6"/><stop offset=".247" stop-color="#000092"/><stop offset=".395" stop-color="#000084"/><stop offset="1" stop-color="#000080"/></linearGradient><linearGradient id="b151"><stop offset="0" stop-color="#0000ff"/><stop offset=".025" stop-color="#0000f6"/><stop offset=".117" stop-color="#0000b6"/><stop offset=".228" stop-color="#000092"/><stop offset=".377" stop-color="#000084"/><stop offset="1" stop-color="#000080"/></linearGradient><linearGradient id="b152"><stop offset="0" stop-color="#0000fa"/><stop offset=".08" stop-color="#0000bf"/><stop offset=".191" stop-color="#000096"/><stop offset=".333" stop-color="#000084"/><stop offset="1" stop-color="#000080"/></linearGradient><linearGradient id="b153"><stop offset="0" stop-color="#0000e8"/><stop offset=".074" stop-color="#0000b6"/><stop offset=".173" stop-color="#000096"/><stop offset=".302" stop-color="#000084"/><stop offset="1" stop-color="#000080"/></linearGradient><linearGradient id="b154"><stop offset="0" stop-color="#0000d6"/><stop offset=".074" stop-color="#0000ad"/><stop offset=".173" stop-color="#000092"/><stop offset=".296" stop-color="#000084"/><stop offset="1" stop-color="#000080"/></linearGradient><linearGradient id="b155"><stop offset="0" stop-color="#0000c4"/><stop offset=".086" stop-color="#00009f"/><stop offset=".198" stop-color="#000089"/><stop offset=".42" stop-color="#000080"/><stop offset="1" stop-color="#000080"/></linearGradient><linearGradient id="b156"><stop offset="0" stop-color="#0000b6"/><stop offset=".086" stop-color="#000096"/><stop offset=".228" stop-color="#000084"/><stop offset="1" stop-color="#000080"/></linearGradient><linearGradient id="b157"><stop offset="0" stop-color="#0000a4"/><stop offset=".123" stop-color="#000089"/><stop offset=".364" stop-color="#000080"/><stop offset="1" stop-color="#000080"/></linearGradient><linearGradient id="b158"><stop offset="0" stop-color="#000092"/><stop offset=".154" stop-color="#000084"/><stop offset="1" stop-color="#000080"/></linearGradient><linearGradient id="b159"><stop offset="0" stop-color="#000084"/><stop offset="1" stop-color="#000080"/></linearGradient><linearGradient id="c0"><stop offset="0" stop-color="#000096"/><stop offset=".07" stop-color="#000084"/><stop offset="1" stop-color="#000084"/></linearGradient><linearGradient id="c1"><stop offset="0" stop-color="#00009f"/><stop offset=".038" stop-color="#000092"/><stop offset=".063" stop-color="#000084"/><stop offset="1" stop-color="#000084"/></linearGradient><linearGradient id="c2"><stop offset="0" stop-color="#0000ad"/><stop offset=".038" stop-color="#00009b"/><stop offset=".07" stop-color="#000084"/><stop offset="1" stop-color="#000084"/></linearGradient><linearGradient id="c3"><stop offset="0" stop-color="#0000b6"/><stop offset=".032" stop-color="#0000ad"/><stop offset=".063" stop-color="#000089"/><stop offset="1" stop-color="#000084"/></linearGradient><linearGradient id="c4"><stop offset="0" stop-color="#0000c4"/><stop offset=".032" stop-color="#0000ba"/><stop offset=".076" stop-color="#000089"/><stop offset="1" stop-color="#000084"/></linearGradient><linearGradient id="c5"><stop offset="0" stop-color="#0000d1"/><stop offset=".025" stop-color="#0000c8"/><stop offset=".051" stop-color="#0000b2"/><stop offset=".082" stop-color="#000089"/><stop offset="1" stop-color="#000084"/></linearGradient><linearGradient id="c6"><stop offset="0" stop-color="#0000e3"/><stop offset=".032" stop-color="#0000d6"/><stop offset=".089" stop-color="#00008d"/><stop offset=".127" stop-color="#000084"/><stop offset="1" stop-color="#000084"/></linearGradient><linearGradient id="c7"><stop offset="0" stop-color="#0000f6"/><stop offset=".025" stop-color="#0000ed"/><stop offset=".095" stop-color="#000092"/><stop offset=".133" stop-color="#000084"/><stop offset="1" stop-color="#000084"/></linearGradient><linearGradient id="c8"><stop offset="0" stop-color="#0000ff"/><stop offset=".032" stop-color="#0000fa"/><stop offset=".101" stop-color="#000096"/><stop offset=".127" stop-color="#000089"/><stop offset="1" stop-color="#000084"/></linearGradient><linearGradient id="c9"><stop offset="0" stop-color="#000cff"/><stop offset=".044" stop-color="#0000fe"/><stop offset=".101" stop-color="#0000a4"/><stop offset=".139" stop-color="#000089"/><stop offset="1" stop-color="#000084"/></linearGradient><linearGradient id="c10"><stop offset="0" stop-color="#001cff"/><stop offset=".051" stop-color="#0000ff"/><stop offset=".057" stop-color="#0000fe"/><stop offset=".089" stop-color="#0000c4"/><stop offset=".133" stop-color="#000096"/><stop offset=".158" stop-color="#000089"/><stop offset="1" stop-color="#000084"/></linearGradient><linearGradient id="c11"><stop offset="0" stop-color="#002cff"/><stop offset=".051" stop-color="#000dff"/><stop offset=".07" stop-color="#0000fe"/><stop offset=".095" stop-color="#0000cd"/><stop offset=".152" stop-color="#000092"/><stop offset=".209" stop-color="#000084"/><stop offset="1" stop-color="#000084"/></linearGradient><linearGradient id="c12"><stop offset="0" stop-color="#003cff"/><stop offset=".051" stop-color="#001dff"/><stop offset=".076" stop-color="#0000ff"/><stop offset=".082" stop-color="#0000fe"/><stop offset=".12" stop-color="#0000bf"/><stop offset=".171" stop-color="#000092"/><stop offset=".228" stop-color="#000084"/><stop offset="1" stop-color="#000084"/></linearGradient><linearGradient id="c13"><stop offset="0" stop-color="#004cff"/><stop offset=".057" stop-color="#0028ff"/><stop offset=".089" stop-color="#0000ff"/><stop offset=".101" stop-color="#0000f5"/><stop offset=".127" stop-color="#0000c8"/><stop offset=".177" stop-color="#00009b"/><stop offset=".209" stop-color="#000089"/><stop offset="1" stop-color="#000084"/></linearGradient><linearGradient id="c14"><stop offset="0" stop-color="#005cff"/><stop offset=".057" stop-color="#0038ff"/><stop offset=".101" stop-color="#0000ff"/><stop offset=".114" stop-color="#0000f5"/><stop offset=".139" stop-color="#0000c8"/><stop offset=".203" stop-color="#000092"/><stop offset=".259" stop-color="#000084"/><stop offset="1" stop-color="#000084"/></linearGradient><linearGradient id="c15"><stop offset="0" stop-color="#006cff"/><stop offset=".063" stop-color="#0044ff"/><stop offset=".114" stop-color="#0000ff"/><stop offset=".127" stop-color="#0000f5"/><stop offset=".165" stop-color="#0000bf"/><stop offset=".241" stop-color="#000089"/><stop offset="1" stop-color="#000084"/></linearGradient><linearGradient id="c16"><stop offset="0" stop-color="#007cff"/><stop offset=".063" stop-color="#0054ff"/><stop offset=".114" stop-color="#0014ff"/><stop offset=".127" stop-color="#0000ff"/><stop offset=".139" stop-color="#0000f5"/><stop offset=".177" stop-color="#0000bf"/><stop offset=".247" stop-color="#00008d"/><stop offset=".304" stop-color="#000084"/><stop offset="1" stop-color="#000084"/></linearGradient><linearGradient id="c17"><stop offset="0" stop-color="#008cff"/><stop offset=".07" stop-color="#0060ff"/><stop offset=".114" stop-color="#0029ff"/><stop offset=".139" stop-color="#0000ff"/><stop offset=".152" stop-color="#0000f5"/><stop offset=".184" stop-color="#0000c8"/><stop offset=".272" stop-color="#000089"/><stop offset="1" stop-color="#000084"/></linearGradient><linearGradient id="c18"><stop offset="0" stop-color="#009cff"/><stop offset=".076" stop-color="#006cff"/><stop offset=".12" stop-color="#0034ff"/><stop offset=".152" stop-color="#0000ff"/><stop offset=".165" stop-color="#0000f5"/><stop offset=".196" stop-color="#0000cd"/><stop offset=".291" stop-color="#000089"/><stop offset="1" stop-color="#000084"/></linearGradient><linearGradient id="c19"><stop offset="0" stop-color="#00a9ff"/><stop offset=".051" stop-color="#0090ff"/><stop offset=".101" stop-color="#0064ff"/><stop offset=".158" stop-color="#0005ff"/><stop offset=".171" stop-color="#0000fe"/><stop offset=".222" stop-color="#0000c4"/><stop offset=".304" stop-color="#000089"/><stop offset="1" stop-color="#000084"/></linearGradient><linearGradient id="c20"><stop offset="0" stop-color="#00b8ff"/><stop offset=".051" stop-color="#00a0ff"/><stop offset=".095" stop-color="#007dff"/><stop offset=".139" stop-color="#003cff"/><stop offset=".171" stop-color="#0005ff"/><stop offset=".19" stop-color="#0000fa"/><stop offset=".228" stop-color="#0000cd"/><stop offset=".323" stop-color="#000089"/><stop offset="1" stop-color="#000084"/></linearGradient><linearGradient id="c21"><stop offset="0" stop-color="#00c8ff"/><stop offset=".07" stop-color="#00a4ff"/><stop offset=".108" stop-color="#0080ff"/><stop offset=".146" stop-color="#0048ff"/><stop offset=".184" stop-color="#0009ff"/><stop offset=".203" stop-color="#0000fe"/><stop offset=".241" stop-color="#0000d1"/><stop offset=".323" stop-color="#000092"/><stop offset=".361" stop-color="#000084"/><stop offset="1" stop-color="#000084"/></linearGradient><linearGradient id="c22"><stop offset="0" stop-color="#00d8ff"/><stop offset=".082" stop-color="#00acff"/><stop offset=".133" stop-color="#0074ff"/><stop offset=".19" stop-color="#0015ff"/><stop offset=".209" stop-color="#0000ff"/><stop offset=".228" stop-color="#0000f1"/><stop offset=".291" stop-color="#0000b6"/><stop offset=".354" stop-color="#000089"/><stop offset="1" stop-color="#000084"/></linearGradient><linearGradient id="c23"><stop offset="0" stop-color="#00e4f8"/><stop offset=".063" stop-color="#00c8ff"/><stop offset=".114" stop-color="#00a0ff"/><stop offset=".158" stop-color="#0061ff"/><stop offset=".209" stop-color="#0011ff"/><stop offset=".222" stop-color="#0000ff"/><stop offset=".234" stop-color="#0000fe"/><stop offset=".272" stop-color="#0000d6"/><stop offset=".361" stop-color="#00008d"/><stop offset=".43" stop-color="#000084"/><stop offset="1" stop-color="#000084"/></linearGradient><linearGradient id="c24"><stop offset="0" stop-color="#09f0ee"/><stop offset=".057" stop-color="#00ddfe"/><stop offset=".114" stop-color="#00b4ff"/><stop offset=".152" stop-color="#0084ff"/><stop offset=".222" stop-color="#0015ff"/><stop offset=".241" stop-color="#0000ff"/><stop offset=".272" stop-color="#0000e8"/><stop offset=".373" stop-color="#000092"/><stop offset=".43" stop-color="#000084"/><stop offset="1" stop-color="#000084"/></linearGradient><linearGradient id="c25"><stop offset="0" stop-color="#13fce4"/><stop offset=".057" stop-color="#06ecf1"/><stop offset=".114" stop-color="#00c8ff"/><stop offset=".171" stop-color="#0080ff"/><stop offset=".241" stop-color="#0011ff"/><stop offset=".259" stop-color="#0000ff"/><stop offset=".297" stop-color="#0000e3"/><stop offset=".354" stop-color="#0000b2"/><stop offset=".418" stop-color="#000089"/><stop offset="1" stop-color="#000084"/></linearGradient><linearGradient id="c26"><stop offset="0" stop-color="#1cffdb"/><stop offset=".063" stop-color="#0ff8e7"/><stop offset=".12" stop-color="#00d5ff"/><stop offset=".171" stop-color="#009cff"/><stop offset=".253" stop-color="#0019ff"/><stop offset=".272" stop-color="#0001ff"/><stop offset=".291" stop-color="#0000fe"/><stop offset=".348" stop-color="#0000c8"/><stop offset=".437" stop-color="#00008d"/><stop offset=".506" stop-color="#000084"/><stop offset="1" stop-color="#000084"/></linearGradient><linearGradient id="c27"><stop offset="0" stop-color="#26ffd1"/><stop offset=".076" stop-color="#19ffde"/><stop offset=".114" stop-color="#09f0ee"/><stop offset=".139" stop-color="#00d9ff"/><stop offset=".209" stop-color="#0081ff"/><stop offset=".272" stop-color="#0019ff"/><stop offset=".297" stop-color="#0001ff"/><stop offset=".316" stop-color="#0000fa"/><stop offset=".38" stop-color="#0000c4"/><stop offset=".462" stop-color="#00008d"/><stop offset=".532" stop-color="#000084"/><stop offset="1" stop-color="#000084"/></linearGradient><linearGradient id="c28"><stop offset="0" stop-color="#30ffc7"/><stop offset=".089" stop-color="#23ffd4"/><stop offset=".127" stop-color="#0ff8e7"/><stop offset=".165" stop-color="#00d8ff"/><stop offset=".222" stop-color="#0090ff"/><stop offset=".291" stop-color="#001dff"/><stop offset=".323" stop-color="#0001ff"/><stop offset=".342" stop-color="#0000fa"/><stop offset=".405" stop-color="#0000c4"/><stop offset=".494" stop-color="#00008d"/><stop offset=".563" stop-color="#000084"/><stop offset="1" stop-color="#000084"/></linearGradient><linearGradient id="c29"><stop offset="0" stop-color="#39ffbe"/><stop offset=".076" stop-color="#33ffc4"/><stop offset=".152" stop-color="#12fce4"/><stop offset=".184" stop-color="#00e0fb"/><stop offset=".241" stop-color="#0098ff"/><stop offset=".31" stop-color="#0025ff"/><stop offset=".348" stop-color="#0001ff"/><stop offset=".373" stop-color="#0000f5"/><stop offset=".513" stop-color="#000092"/><stop offset=".57" stop-color="#000084"/><stop offset="1" stop-color="#000084"/></linearGradient><linearGradient id="c30"><stop offset="0" stop-color="#43ffb4"/><stop offset=".095" stop-color="#3cffba"/><stop offset=".177" stop-color="#16fee1"/><stop offset=".215" stop-color="#00ddfe"/><stop offset=".266" stop-color="#009cff"/><stop offset=".335" stop-color="#0029ff"/><stop offset=".373" stop-color="#0001ff"/><stop offset=".399" stop-color="#0000fa"/><stop offset=".557" stop-color="#000089"/><stop offset="1" stop-color="#000084"/></linearGradient><linearGradient id="c31"><stop offset="0" stop-color="#4dffaa"/><stop offset=".114" stop-color="#46ffb1"/><stop offset=".215" stop-color="#13fce4"/><stop offset=".253" stop-color="#00d8fe"/><stop offset=".304" stop-color="#008dff"/><stop offset=".367" stop-color="#0029ff"/><stop offset=".411" stop-color="#0001ff"/><stop offset=".43" stop-color="#0000fe"/><stop offset=".576" stop-color="#00008d"/><stop offset=".633" stop-color="#000084"/><stop offset="1" stop-color="#000084"/></linearGradient><linearGradient id="c32"><stop offset="0" stop-color="#53ffa4"/><stop offset=".12" stop-color="#53ffa4"/><stop offset=".234" stop-color="#1fffd7"/><stop offset=".259" stop-color="#0ff8e7"/><stop offset=".285" stop-color="#00dcfd"/><stop offset=".392" stop-color="#0039ff"/><stop offset=".443" stop-color="#0005ff"/><stop offset=".475" stop-color="#0000fa"/><stop offset=".614" stop-color="#000089"/><stop offset="1" stop-color="#000084"/></linearGradient><linearGradient id="c33"><stop offset="0" stop-color="#5aff9d"/><stop offset=".114" stop-color="#60ff97"/><stop offset=".228" stop-color="#3cffba"/><stop offset=".291" stop-color="#13fce4"/><stop offset=".323" stop-color="#00d8fe"/><stop offset=".437" stop-color="#0031ff"/><stop offset=".487" stop-color="#0005ff"/><stop offset=".513" stop-color="#0000fa"/><stop offset=".633" stop-color="#00008e"/><stop offset=".69" stop-color="#000084"/><stop offset="1" stop-color="#000084"/></linearGradient><linearGradient id="c34"><stop offset="0" stop-color="#60ff97"/><stop offset=".101" stop-color="#6dff8a"/><stop offset=".234" stop-color="#50ffa7"/><stop offset=".304" stop-color="#29ffce"/><stop offset=".335" stop-color="#10f8e7"/><stop offset=".361" stop-color="#01dcfd"/><stop offset=".468" stop-color="#0041ff"/><stop offset=".538" stop-color="#0001ff"/><stop offset=".563" stop-color="#0000f5"/><stop offset=".652" stop-color="#00009b"/><stop offset=".696" stop-color="#000084"/><stop offset="1" stop-color="#000084"/></linearGradient><linearGradient id="c35"><stop offset="0" stop-color="#67ff90"/><stop offset=".101" stop-color="#76ff80"/><stop offset=".234" stop-color="#63ff94"/><stop offset=".316" stop-color="#40ffb7"/><stop offset=".373" stop-color="#16fee1"/><stop offset=".399" stop-color="#01e0fa"/><stop offset=".506" stop-color="#0055ff"/><stop offset=".582" stop-color="#0006fe"/><stop offset=".601" stop-color="#0001fe"/><stop offset=".658" stop-color="#0000b7"/><stop offset=".703" stop-color="#00008e"/><stop offset=".772" stop-color="#000084"/><stop offset="1" stop-color="#000084"/></linearGradient><linearGradient id="c36"><stop offset="0" stop-color="#70ff87"/><stop offset=".108" stop-color="#7aff7d"/><stop offset=".247" stop-color="#73ff84"/><stop offset=".348" stop-color="#49ffae"/><stop offset=".418" stop-color="#16fee1"/><stop offset=".449" stop-color="#01dcfd"/><stop offset=".595" stop-color="#0035ff"/><stop offset=".639" stop-color="#0002fe"/><stop offset=".658" stop-color="#0001f0"/><stop offset=".703" stop-color="#0000b7"/><stop offset=".759" stop-color="#00008e"/><stop offset=".842" stop-color="#000084"/><stop offset="1" stop-color="#000084"/></linearGradient><linearGradient id="c37"><stop offset="0" stop-color="#76ff80"/><stop offset=".247" stop-color="#7dff7a"/><stop offset=".323" stop-color="#70ff87"/><stop offset=".411" stop-color="#43ffb4"/><stop offset=".475" stop-color="#13fbe4"/><stop offset=".513" stop-color="#01e0fa"/><stop offset=".601" stop-color="#008cff"/><stop offset=".696" stop-color="#0003fe"/><stop offset=".715" stop-color="#0002f0"/><stop offset=".747" stop-color="#0001c4"/><stop offset=".829" stop-color="#00008e"/><stop offset=".911" stop-color="#000084"/><stop offset="1" stop-color="#000084"/></linearGradient><linearGradient id="c38"><stop offset="0" stop-color="#7aff7d"/><stop offset=".354" stop-color="#79ff7d"/><stop offset=".443" stop-color="#53ffa4"/><stop offset=".563" stop-color="#16fee1"/><stop offset=".627" stop-color="#01dbfd"/><stop offset=".671" stop-color="#01affe"/><stop offset=".728" stop-color="#0052fe"/><stop offset=".772" stop-color="#0008fe"/><stop offset=".785" stop-color="#0003fd"/><stop offset=".823" stop-color="#0001c8"/><stop offset=".899" stop-color="#000097"/><stop offset=".981" stop-color="#00008e"/><stop offset="1" stop-color="#00008e"/></linearGradient><linearGradient id="c39"><stop offset="0" stop-color="#7aff7d"/><stop offset=".418" stop-color="#79ff7d"/><stop offset=".608" stop-color="#39ffbe"/><stop offset=".715" stop-color="#16fce1"/><stop offset=".753" stop-color="#01d6fe"/><stop offset=".81" stop-color="#016dfe"/><stop offset=".867" stop-color="#0004fd"/><stop offset=".88" stop-color="#0003fd"/><stop offset=".911" stop-color="#0002d5"/><stop offset=".956" stop-color="#0001bb"/><stop offset="1" stop-color="#0000b7"/></linearGradient><linearGradient id="c40"><stop offset="0" stop-color="#7dff7a"/><stop offset=".5" stop-color="#79ff7e"/><stop offset=".741" stop-color="#42ffb4"/><stop offset=".829" stop-color="#16fce1"/><stop offset=".854" stop-color="#01ddfa"/><stop offset=".937" stop-color="#004afd"/><stop offset=".975" stop-color="#001bfe"/><stop offset="1" stop-color="#000bfe"/></linearGradient><linearGradient id="c41"><stop offset="0" stop-color="#7dff7a"/><stop offset=".671" stop-color="#79ff7e"/><stop offset=".804" stop-color="#56ffa1"/><stop offset=".899" stop-color="#2cfdca"/><stop offset=".937" stop-color="#13f9e4"/><stop offset=".962" stop-color="#01dafd"/><stop offset="1" stop-color="#01a0fe"/></linearGradient><linearGradient id="c42"><stop offset="0" stop-color="#7dff7a"/><stop offset=".81" stop-color="#79ff7e"/><stop offset=".956" stop-color="#42ffb4"/><stop offset="1" stop-color="#29fdce"/></linearGradient><linearGradient id="c43"><stop offset="0" stop-color="#7dff7a"/><stop offset=".918" stop-color="#79ff7e"/><stop offset="1" stop-color="#59ff9d"/></linearGradient><linearGradient id="c44"><stop offset="0" stop-color="#7dff7a"/><stop offset="1" stop-color="#79ff7e"/></linearGradient><linearGradient id="c115"><stop offset="0" stop-color="#7dff7a"/><stop offset="1" stop-color="#79ff7e"/></linearGradient><linearGradient id="c116"><stop offset="0" stop-color="#7dff7a"/><stop offset=".937" stop-color="#79ff7e"/><stop offset="1" stop-color="#59ff9d"/></linearGradient><linearGradient id="c117"><stop offset="0" stop-color="#7dff7a"/><stop offset=".861" stop-color="#79ff7e"/><stop offset=".987" stop-color="#33fec4"/><stop offset="1" stop-color="#29fece"/></linearGradient><linearGradient id="c118"><stop offset="0" stop-color="#7dff7a"/><stop offset=".772" stop-color="#79ff7e"/><stop offset=".886" stop-color="#43ffb4"/><stop offset=".949" stop-color="#13fbe4"/><stop offset=".981" stop-color="#01d7fe"/><stop offset="1" stop-color="#01c0fe"/></linearGradient><linearGradient id="c119"><stop offset="0" stop-color="#7dff7a"/><stop offset=".684" stop-color="#79ff7e"/><stop offset=".785" stop-color="#50ffa7"/><stop offset=".873" stop-color="#13fbe4"/><stop offset=".899" stop-color="#01dbfd"/><stop offset="1" stop-color="#004dff"/></linearGradient><linearGradient id="c120"><stop offset="0" stop-color="#7dff7a"/><stop offset=".582" stop-color="#79ff7e"/><stop offset=".715" stop-color="#46ffb1"/><stop offset=".791" stop-color="#16fde1"/><stop offset=".823" stop-color="#01dbfd"/><stop offset=".88" stop-color="#008cff"/><stop offset=".943" stop-color="#002eff"/><stop offset=".994" stop-color="#0002fe"/><stop offset="1" stop-color="#0001fe"/></linearGradient><linearGradient id="c121"><stop offset="0" stop-color="#7dff7a"/><stop offset=".506" stop-color="#79ff7e"/><stop offset=".677" stop-color="#29fece"/><stop offset=".715" stop-color="#13fbe4"/><stop offset=".747" stop-color="#01dffa"/><stop offset=".81" stop-color="#008cff"/><stop offset=".873" stop-color="#002eff"/><stop offset=".911" stop-color="#0002fe"/><stop offset=".93" stop-color="#0001fe"/><stop offset=".968" stop-color="#0000da"/><stop offset="1" stop-color="#0000cd"/></linearGradient><linearGradient id="c122"><stop offset="0" stop-color="#7aff7d"/><stop offset=".456" stop-color="#79ff7e"/><stop offset=".627" stop-color="#13fbe4"/><stop offset=".665" stop-color="#01e0fa"/><stop offset=".734" stop-color="#0098ff"/><stop offset=".829" stop-color="#0016ff"/><stop offset=".854" stop-color="#0001fe"/><stop offset=".892" stop-color="#0000e3"/><stop offset=".962" stop-color="#0000b2"/><stop offset="1" stop-color="#0000a4"/></linearGradient><linearGradient id="c123"><stop offset="0" stop-color="#7aff7d"/><stop offset=".405" stop-color="#79ff7d"/><stop offset=".475" stop-color="#4cffaa"/><stop offset=".544" stop-color="#16fee1"/><stop offset=".589" stop-color="#01dcfd"/><stop offset=".658" stop-color="#00a0ff"/><stop offset=".791" stop-color="#0002fe"/><stop offset=".81" stop-color="#0001fe"/><stop offset=".867" stop-color="#0000c8"/><stop offset=".937" stop-color="#00009b"/><stop offset="1" stop-color="#00008d"/></linearGradient><linearGradient id="c124"><stop offset="0" stop-color="#76ff80"/><stop offset=".234" stop-color="#7dff7a"/><stop offset=".373" stop-color="#73ff84"/><stop offset=".437" stop-color="#46ffb1"/><stop offset=".487" stop-color="#16fee1"/><stop offset=".519" stop-color="#01e4f7"/><stop offset=".557" stop-color="#00c1ff"/><stop offset=".639" stop-color="#0075ff"/><stop offset=".728" stop-color="#000dff"/><stop offset=".747" stop-color="#0001fe"/><stop offset=".759" stop-color="#0001fe"/><stop offset=".823" stop-color="#0000c4"/><stop offset=".899" stop-color="#000092"/><stop offset=".981" stop-color="#000084"/><stop offset="1" stop-color="#000084"/></linearGradient><linearGradient id="c125"><stop offset="0" stop-color="#70ff87"/><stop offset=".108" stop-color="#7dff7a"/><stop offset=".297" stop-color="#76ff81"/><stop offset=".386" stop-color="#50ffa7"/><stop offset=".449" stop-color="#13fce4"/><stop offset=".475" stop-color="#01e0fa"/><stop offset=".633" stop-color="#0041ff"/><stop offset=".696" stop-color="#0001ff"/><stop offset=".722" stop-color="#0000f5"/><stop offset=".766" stop-color="#0000cd"/><stop offset=".861" stop-color="#00008e"/><stop offset=".943" stop-color="#000084"/><stop offset="1" stop-color="#000084"/></linearGradient><linearGradient id="c126"><stop offset="0" stop-color="#6aff8d"/><stop offset=".114" stop-color="#7aff7d"/><stop offset=".241" stop-color="#73ff84"/><stop offset=".335" stop-color="#50ffa7"/><stop offset=".405" stop-color="#19fede"/><stop offset=".43" stop-color="#03e8f4"/><stop offset=".449" stop-color="#00d0ff"/><stop offset=".538" stop-color="#0071ff"/><stop offset=".658" stop-color="#0001ff"/><stop offset=".677" stop-color="#0000fa"/><stop offset=".741" stop-color="#0000bf"/><stop offset=".816" stop-color="#00008e"/><stop offset=".899" stop-color="#000084"/><stop offset="1" stop-color="#000084"/></linearGradient><linearGradient id="c127"><stop offset="0" stop-color="#60ff97"/><stop offset=".12" stop-color="#73ff84"/><stop offset=".247" stop-color="#60ff97"/><stop offset=".323" stop-color="#39ffbe"/><stop offset=".38" stop-color="#10f8e7"/><stop offset=".405" stop-color="#00dcfd"/><stop offset=".494" stop-color="#0071ff"/><stop offset=".595" stop-color="#0015ff"/><stop offset=".627" stop-color="#0001ff"/><stop offset=".665" stop-color="#0000e3"/><stop offset=".734" stop-color="#0000a8"/><stop offset=".791" stop-color="#000089"/><stop offset="1" stop-color="#000084"/></linearGradient><linearGradient id="c128"><stop offset="0" stop-color="#5aff9d"/><stop offset=".108" stop-color="#66ff90"/><stop offset=".215" stop-color="#56ffa1"/><stop offset=".297" stop-color="#2cffca"/><stop offset=".335" stop-color="#10f8e7"/><stop offset=".367" stop-color="#00dcfd"/><stop offset=".494" stop-color="#0049ff"/><stop offset=".582" stop-color="#0001ff"/><stop offset=".608" stop-color="#0000fa"/><stop offset=".715" stop-color="#00009f"/><stop offset=".753" stop-color="#000089"/><stop offset="1" stop-color="#000084"/></linearGradient><linearGradient id="c129"><stop offset="0" stop-color="#53ffa4"/><stop offset=".114" stop-color="#5dff9a"/><stop offset=".209" stop-color="#43ffb4"/><stop offset=".291" stop-color="#13fce4"/><stop offset=".323" stop-color="#00e0fa"/><stop offset=".437" stop-color="#0061ff"/><stop offset=".513" stop-color="#0019ff"/><stop offset=".557" stop-color="#0000ff"/><stop offset=".582" stop-color="#0000f5"/><stop offset=".709" stop-color="#00008d"/><stop offset=".778" stop-color="#000084"/><stop offset="1" stop-color="#000084"/></linearGradient><linearGradient id="c130"><stop offset="0" stop-color="#4dffaa"/><stop offset=".114" stop-color="#50ffa7"/><stop offset=".203" stop-color="#30ffc7"/><stop offset=".259" stop-color="#0ff8e7"/><stop offset=".291" stop-color="#00d9fe"/><stop offset=".468" stop-color="#0021ff"/><stop offset=".519" stop-color="#0000ff"/><stop offset=".544" stop-color="#0000fa"/><stop offset=".684" stop-color="#00008d"/><stop offset=".741" stop-color="#000084"/><stop offset="1" stop-color="#000084"/></linearGradient><linearGradient id="c131"><stop offset="0" stop-color="#43ffb4"/><stop offset=".108" stop-color="#43ffb4"/><stop offset=".215" stop-color="#13fce4"/><stop offset=".253" stop-color="#00ddfe"/><stop offset=".418" stop-color="#0031ff"/><stop offset=".481" stop-color="#0001ff"/><stop offset=".513" stop-color="#0000fa"/><stop offset=".671" stop-color="#000089"/><stop offset="1" stop-color="#000084"/></linearGradient><linearGradient id="c132"><stop offset="0" stop-color="#39ffbd"/><stop offset=".082" stop-color="#39ffbe"/><stop offset=".165" stop-color="#1cffdb"/><stop offset=".215" stop-color="#00e0fa"/><stop offset=".285" stop-color="#0098ff"/><stop offset=".38" stop-color="#0035ff"/><stop offset=".449" stop-color="#0001ff"/><stop offset=".481" stop-color="#0000fa"/><stop offset=".652" stop-color="#000089"/><stop offset="1" stop-color="#000084"/></linearGradient><linearGradient id="c133"><stop offset="0" stop-color="#33ffc4"/><stop offset=".089" stop-color="#29ffce"/><stop offset=".146" stop-color="#13fce4"/><stop offset=".196" stop-color="#00d8ff"/><stop offset=".278" stop-color="#007dff"/><stop offset=".354" stop-color="#002dff"/><stop offset=".424" stop-color="#0000ff"/><stop offset=".449" stop-color="#0000fa"/><stop offset=".627" stop-color="#000089"/><stop offset="1" stop-color="#000084"/></linearGradient><linearGradient id="c134"><stop offset="0" stop-color="#29ffce"/><stop offset=".095" stop-color="#19ffde"/><stop offset=".133" stop-color="#09f0ee"/><stop offset=".177" stop-color="#00cdff"/><stop offset=".228" stop-color="#0099ff"/><stop offset=".323" stop-color="#002dff"/><stop offset=".392" stop-color="#0000ff"/><stop offset=".424" stop-color="#0000fa"/><stop offset=".608" stop-color="#000089"/><stop offset="1" stop-color="#000084"/></linearGradient><linearGradient id="c135"><stop offset="0" stop-color="#1fffd7"/><stop offset=".082" stop-color="#0ff8e7"/><stop offset=".139" stop-color="#00d8ff"/><stop offset=".215" stop-color="#008cff"/><stop offset=".291" stop-color="#0031ff"/><stop offset=".367" stop-color="#0000ff"/><stop offset=".392" stop-color="#0000fa"/><stop offset=".589" stop-color="#000089"/><stop offset="1" stop-color="#000084"/></linearGradient><linearGradient id="c136"><stop offset="0" stop-color="#16ffe1"/><stop offset=".063" stop-color="#09f0ee"/><stop offset=".12" stop-color="#00d4ff"/><stop offset=".184" stop-color="#0095ff"/><stop offset=".278" stop-color="#0025ff"/><stop offset=".335" stop-color="#0000ff"/><stop offset=".361" stop-color="#0000fa"/><stop offset=".57" stop-color="#000089"/><stop offset="1" stop-color="#000084"/></linearGradient><linearGradient id="c137"><stop offset="0" stop-color="#0cf4eb"/><stop offset=".089" stop-color="#00d4ff"/><stop offset=".146" stop-color="#00a8ff"/><stop offset=".259" stop-color="#0021ff"/><stop offset=".31" stop-color="#0000ff"/><stop offset=".335" stop-color="#0000fa"/><stop offset=".544" stop-color="#000089"/><stop offset="1" stop-color="#000084"/></linearGradient><linearGradient id="c138"><stop offset="0" stop-color="#00e5f7"/><stop offset=".063" stop-color="#00d0ff"/><stop offset=".12" stop-color="#00acff"/><stop offset=".19" stop-color="#005cff"/><stop offset=".247" stop-color="#0019ff"/><stop offset=".285" stop-color="#0000ff"/><stop offset=".31" stop-color="#0000fa"/><stop offset=".43" stop-color="#0000b6"/><stop offset=".532" stop-color="#000089"/><stop offset="1" stop-color="#000084"/></linearGradient><linearGradient id="c139"><stop offset="0" stop-color="#00d8ff"/><stop offset=".07" stop-color="#00bdff"/><stop offset=".114" stop-color="#00a0ff"/><stop offset=".228" stop-color="#0019ff"/><stop offset=".266" stop-color="#0000ff"/><stop offset=".291" stop-color="#0000f6"/><stop offset=".468" stop-color="#000096"/><stop offset=".532" stop-color="#000084"/><stop offset="1" stop-color="#000084"/></linearGradient><linearGradient id="c140"><stop offset="0" stop-color="#00c9ff"/><stop offset=".057" stop-color="#00b4ff"/><stop offset=".114" stop-color="#008cff"/><stop offset=".222" stop-color="#000dff"/><stop offset=".253" stop-color="#0000ff"/><stop offset=".399" stop-color="#0000ad"/><stop offset=".487" stop-color="#000089"/><stop offset="1" stop-color="#000084"/></linearGradient><linearGradient id="c141"><stop offset="0" stop-color="#00bcff"/><stop offset=".063" stop-color="#00a0ff"/><stop offset=".12" stop-color="#0074ff"/><stop offset=".209" stop-color="#0009ff"/><stop offset=".241" stop-color="#0000fe"/><stop offset=".297" stop-color="#0000d6"/><stop offset=".456" stop-color="#000089"/><stop offset="1" stop-color="#000084"/></linearGradient><linearGradient id="c142"><stop offset="0" stop-color="#00acff"/><stop offset=".063" stop-color="#0090ff"/><stop offset=".114" stop-color="#0068ff"/><stop offset=".196" stop-color="#0005ff"/><stop offset=".228" stop-color="#0000fa"/><stop offset=".285" stop-color="#0000d1"/><stop offset=".424" stop-color="#00008d"/><stop offset=".494" stop-color="#000084"/><stop offset="1" stop-color="#000084"/></linearGradient><linearGradient id="c143"><stop offset="0" stop-color="#009cff"/><stop offset=".063" stop-color="#0080ff"/><stop offset=".114" stop-color="#0054ff"/><stop offset=".184" stop-color="#0001ff"/><stop offset=".209" stop-color="#0000fa"/><stop offset=".272" stop-color="#0000cd"/><stop offset=".399" stop-color="#00008d"/><stop offset=".481" stop-color="#000084"/><stop offset="1" stop-color="#000084"/></linearGradient><linearGradient id="c144"><stop offset="0" stop-color="#008cff"/><stop offset=".051" stop-color="#0078ff"/><stop offset=".101" stop-color="#0050ff"/><stop offset=".171" stop-color="#0001ff"/><stop offset=".196" stop-color="#0000f6"/><stop offset=".259" stop-color="#0000c8"/><stop offset=".38" stop-color="#00008d"/><stop offset=".462" stop-color="#000084"/><stop offset="1" stop-color="#000084"/></linearGradient><linearGradient id="c145"><stop offset="0" stop-color="#007cff"/><stop offset=".051" stop-color="#0068ff"/><stop offset=".108" stop-color="#0038ff"/><stop offset=".152" stop-color="#0005ff"/><stop offset=".171" stop-color="#0000fe"/><stop offset=".222" stop-color="#0000d1"/><stop offset=".367" stop-color="#000089"/><stop offset="1" stop-color="#000084"/></linearGradient><linearGradient id="c146"><stop offset="0" stop-color="#006dff"/><stop offset=".051" stop-color="#0058ff"/><stop offset=".108" stop-color="#0025ff"/><stop offset=".139" stop-color="#0001ff"/><stop offset=".158" stop-color="#0000fa"/><stop offset=".209" stop-color="#0000cd"/><stop offset=".348" stop-color="#000089"/><stop offset="1" stop-color="#000084"/></linearGradient><linearGradient id="c147"><stop offset="0" stop-color="#005cff"/><stop offset=".038" stop-color="#0050ff"/><stop offset=".089" stop-color="#0028ff"/><stop offset=".127" stop-color="#0000ff"/><stop offset=".139" stop-color="#0000fe"/><stop offset=".184" stop-color="#0000d1"/><stop offset=".335" stop-color="#000089"/><stop offset="1" stop-color="#000084"/></linearGradient><linearGradient id="c148"><stop offset="0" stop-color="#004dff"/><stop offset=".038" stop-color="#0040ff"/><stop offset=".095" stop-color="#0010ff"/><stop offset=".114" stop-color="#0000ff"/><stop offset=".133" stop-color="#0000f1"/><stop offset=".228" stop-color="#0000ad"/><stop offset=".342" stop-color="#000084"/><stop offset="1" stop-color="#000084"/></linearGradient><linearGradient id="c149"><stop offset="0" stop-color="#0040ff"/><stop offset=".057" stop-color="#0024ff"/><stop offset=".095" stop-color="#0000ff"/><stop offset=".12" stop-color="#0000ed"/><stop offset=".209" stop-color="#0000ad"/><stop offset=".323" stop-color="#000084"/><stop offset="1" stop-color="#000084"/></linearGradient><linearGradient id="c150"><stop offset="0" stop-color="#0030ff"/><stop offset=".051" stop-color="#0018ff"/><stop offset=".076" stop-color="#0001ff"/><stop offset=".089" stop-color="#0000fe"/><stop offset=".139" stop-color="#0000c8"/><stop offset=".253" stop-color="#000092"/><stop offset=".329" stop-color="#000084"/><stop offset="1" stop-color="#000084"/></linearGradient><linearGradient id="c151"><stop offset="0" stop-color="#0020ff"/><stop offset=".051" stop-color="#0009ff"/><stop offset=".07" stop-color="#0000ff"/><stop offset=".12" stop-color="#0000c8"/><stop offset=".228" stop-color="#000092"/><stop offset=".316" stop-color="#000084"/><stop offset="1" stop-color="#000084"/></linearGradient><linearGradient id="c152"><stop offset="0" stop-color="#0010ff"/><stop offset=".057" stop-color="#0000fe"/><stop offset=".101" stop-color="#0000c8"/><stop offset=".184" stop-color="#00009b"/><stop offset=".247" stop-color="#000089"/><stop offset="1" stop-color="#000084"/></linearGradient><linearGradient id="c153"><stop offset="0" stop-color="#0001ff"/><stop offset=".044" stop-color="#0000fa"/><stop offset=".095" stop-color="#0000bf"/><stop offset=".171" stop-color="#000096"/><stop offset=".259" stop-color="#000084"/><stop offset="1" stop-color="#000084"/></linearGradient><linearGradient id="c154"><stop offset="0" stop-color="#0000fe"/><stop offset=".038" stop-color="#0000ed"/><stop offset=".095" stop-color="#0000b2"/><stop offset=".133" stop-color="#00009b"/><stop offset=".209" stop-color="#000089"/><stop offset="1" stop-color="#000084"/></linearGradient><linearGradient id="c155"><stop offset="0" stop-color="#0000e8"/><stop offset=".032" stop-color="#0000e3"/><stop offset=".101" stop-color="#00009f"/><stop offset=".152" stop-color="#00008d"/><stop offset=".247" stop-color="#000084"/><stop offset="1" stop-color="#000084"/></linearGradient><linearGradient id="c156"><stop offset="0" stop-color="#0000da"/><stop offset=".038" stop-color="#0000cd"/><stop offset=".095" stop-color="#000096"/><stop offset=".152" stop-color="#000089"/><stop offset="1" stop-color="#000084"/></linearGradient><linearGradient id="c157"><stop offset="0" stop-color="#0000c8"/><stop offset=".032" stop-color="#0000c4"/><stop offset=".063" stop-color="#0000a8"/><stop offset=".108" stop-color="#000089"/><stop offset="1" stop-color="#000084"/></linearGradient><linearGradient id="c158"><stop offset="0" stop-color="#0000bf"/><stop offset=".038" stop-color="#0000b6"/><stop offset=".089" stop-color="#000089"/><stop offset="1" stop-color="#000084"/></linearGradient><linearGradient id="c159"><stop offset="0" stop-color="#0000b2"/><stop offset=".038" stop-color="#0000a9"/><stop offset=".089" stop-color="#000084"/><stop offset="1" stop-color="#000084"/></linearGradient><linearGradient id="d0"><stop offset="0" stop-color="#000096"/><stop offset=".069" stop-color="#000084"/><stop offset="1" stop-color="#000084"/></linearGradient><linearGradient id="d1"><stop offset="0" stop-color="#00009f"/><stop offset=".038" stop-color="#000092"/><stop offset=".062" stop-color="#000084"/><stop offset="1" stop-color="#000084"/></linearGradient><linearGradient id="d2"><stop offset="0" stop-color="#0000ad"/><stop offset=".038" stop-color="#00009b"/><stop offset=".069" stop-color="#000084"/><stop offset="1" stop-color="#000084"/></linearGradient><linearGradient id="d3"><stop offset="0" stop-color="#0000b6"/><stop offset=".038" stop-color="#0000a8"/><stop offset=".075" stop-color="#000084"/><stop offset="1" stop-color="#000084"/></linearGradient><linearGradient id="d4"><stop offset="0" stop-color="#0000c4"/><stop offset=".031" stop-color="#0000ba"/><stop offset=".081" stop-color="#000084"/><stop offset="1" stop-color="#000084"/></linearGradient><linearGradient id="d5"><stop offset="0" stop-color="#0000d1"/><stop offset=".025" stop-color="#0000c8"/><stop offset=".05" stop-color="#0000b2"/><stop offset=".081" stop-color="#000089"/><stop offset="1" stop-color="#000084"/></linearGradient><linearGradient id="d6"><stop offset="0" stop-color="#0000e3"/><stop offset=".031" stop-color="#0000d6"/><stop offset=".088" stop-color="#00008d"/><stop offset=".125" stop-color="#000084"/><stop offset="1" stop-color="#000084"/></linearGradient><linearGradient id="d7"><stop offset="0" stop-color="#0000f6"/><stop offset=".025" stop-color="#0000ed"/><stop offset=".094" stop-color="#000092"/><stop offset=".131" stop-color="#000084"/><stop offset="1" stop-color="#000084"/></linearGradient><linearGradient id="d8"><stop offset="0" stop-color="#0000ff"/><stop offset=".031" stop-color="#0000fa"/><stop offset=".1" stop-color="#000096"/><stop offset=".125" stop-color="#000089"/><stop offset="1" stop-color="#000084"/></linearGradient><linearGradient id="d9"><stop offset="0" stop-color="#000cff"/><stop offset=".044" stop-color="#0000fe"/><stop offset=".094" stop-color="#0000ad"/><stop offset=".144" stop-color="#000089"/><stop offset="1" stop-color="#000084"/></linearGradient><linearGradient id="d10"><stop offset="0" stop-color="#001cff"/><stop offset=".05" stop-color="#0000ff"/><stop offset=".062" stop-color="#0000f5"/><stop offset=".088" stop-color="#0000c8"/><stop offset=".138" stop-color="#000092"/><stop offset=".194" stop-color="#000084"/><stop offset="1" stop-color="#000084"/></linearGradient><linearGradient id="d11"><stop offset="0" stop-color="#002cff"/><stop offset=".05" stop-color="#000dff"/><stop offset=".069" stop-color="#0000fe"/><stop offset=".106" stop-color="#0000bf"/><stop offset=".144" stop-color="#00009b"/><stop offset=".194" stop-color="#000084"/><stop offset="1" stop-color="#000084"/></linearGradient><linearGradient id="d12"><stop offset="0" stop-color="#003cff"/><stop offset=".056" stop-color="#0018ff"/><stop offset=".075" stop-color="#0000ff"/><stop offset=".088" stop-color="#0000f5"/><stop offset=".113" stop-color="#0000c8"/><stop offset=".169" stop-color="#000092"/><stop offset=".225" stop-color="#000084"/><stop offset="1" stop-color="#000084"/></linearGradient><linearGradient id="d13"><stop offset="0" stop-color="#004cff"/><stop offset=".056" stop-color="#0028ff"/><stop offset=".088" stop-color="#0000ff"/><stop offset=".1" stop-color="#0000f5"/><stop offset=".144" stop-color="#0000b6"/><stop offset=".206" stop-color="#000089"/><stop offset="1" stop-color="#000084"/></linearGradient><linearGradient id="d14"><stop offset="0" stop-color="#005cff"/><stop offset=".062" stop-color="#0034ff"/><stop offset=".1" stop-color="#0001ff"/><stop offset=".113" stop-color="#0000f5"/><stop offset=".15" stop-color="#0000bf"/><stop offset=".225" stop-color="#000089"/><stop offset="1" stop-color="#000084"/></linearGradient><linearGradient id="d15"><stop offset="0" stop-color="#006cff"/><stop offset=".062" stop-color="#0044ff"/><stop offset=".106" stop-color="#000dff"/><stop offset=".113" stop-color="#0001ff"/><stop offset=".125" stop-color="#0000f5"/><stop offset=".163" stop-color="#0000bf"/><stop offset=".238" stop-color="#000089"/><stop offset="1" stop-color="#000084"/></linearGradient><linearGradient id="d16"><stop offset="0" stop-color="#007cff"/><stop offset=".069" stop-color="#0050ff"/><stop offset=".113" stop-color="#0018ff"/><stop offset=".125" stop-color="#0001ff"/><stop offset=".138" stop-color="#0000f5"/><stop offset=".175" stop-color="#0000c4"/><stop offset=".256" stop-color="#000089"/><stop offset="1" stop-color="#000084"/></linearGradient><linearGradient id="d17"><stop offset="0" stop-color="#008cff"/><stop offset=".075" stop-color="#005cff"/><stop offset=".119" stop-color="#0021ff"/><stop offset=".138" stop-color="#0001ff"/><stop offset=".15" stop-color="#0000f6"/><stop offset=".181" stop-color="#0000cd"/><stop offset=".275" stop-color="#000089"/><stop offset="1" stop-color="#000084"/></linearGradient><linearGradient id="d18"><stop offset="0" stop-color="#009cff"/><stop offset=".075" stop-color="#006cff"/><stop offset=".125" stop-color="#002cff"/><stop offset=".15" stop-color="#0001ff"/><stop offset=".163" stop-color="#0000fa"/><stop offset=".188" stop-color="#0000d6"/><stop offset=".269" stop-color="#000092"/><stop offset=".325" stop-color="#000084"/><stop offset="1" stop-color="#000084"/></linearGradient><linearGradient id="d19"><stop offset="0" stop-color="#00a9ff"/><stop offset=".05" stop-color="#0091ff"/><stop offset=".1" stop-color="#0064ff"/><stop offset=".163" stop-color="#0001ff"/><stop offset=".181" stop-color="#0000f1"/><stop offset=".219" stop-color="#0000c8"/><stop offset=".306" stop-color="#000089"/><stop offset="1" stop-color="#000084"/></linearGradient><linearGradient id="d20"><stop offset="0" stop-color="#00b8ff"/><stop offset=".05" stop-color="#00a1ff"/><stop offset=".1" stop-color="#0078ff"/><stop offset=".15" stop-color="#0029ff"/><stop offset=".175" stop-color="#0001ff"/><stop offset=".188" stop-color="#0000fe"/><stop offset=".225" stop-color="#0000d1"/><stop offset=".331" stop-color="#000084"/><stop offset="1" stop-color="#000084"/></linearGradient><linearGradient id="d21"><stop offset="0" stop-color="#00c8ff"/><stop offset=".062" stop-color="#00a8ff"/><stop offset=".113" stop-color="#007cff"/><stop offset=".188" stop-color="#0005ff"/><stop offset=".206" stop-color="#0000fa"/><stop offset=".244" stop-color="#0000cd"/><stop offset=".338" stop-color="#000089"/><stop offset="1" stop-color="#000084"/></linearGradient><linearGradient id="d22"><stop offset="0" stop-color="#00d8ff"/><stop offset=".081" stop-color="#00acff"/><stop offset=".125" stop-color="#0080ff"/><stop offset=".2" stop-color="#0005ff"/><stop offset=".225" stop-color="#0000f5"/><stop offset=".269" stop-color="#0000c8"/><stop offset=".356" stop-color="#000089"/><stop offset="1" stop-color="#000084"/></linearGradient><linearGradient id="d23"><stop offset="0" stop-color="#00e4f8"/><stop offset=".062" stop-color="#00c9ff"/><stop offset=".113" stop-color="#00a4ff"/><stop offset=".163" stop-color="#0059ff"/><stop offset=".219" stop-color="#0001ff"/><stop offset=".238" stop-color="#0000fa"/><stop offset=".294" stop-color="#0000c4"/><stop offset=".375" stop-color="#000089"/><stop offset="1" stop-color="#000084"/></linearGradient><linearGradient id="d24"><stop offset="0" stop-color="#09f1ee"/><stop offset=".056" stop-color="#00ddfe"/><stop offset=".106" stop-color="#00bcff"/><stop offset=".156" stop-color="#007cff"/><stop offset=".219" stop-color="#0019ff"/><stop offset=".238" stop-color="#0001ff"/><stop offset=".25" stop-color="#0000fe"/><stop offset=".319" stop-color="#0000bf"/><stop offset=".394" stop-color="#000089"/><stop offset="1" stop-color="#000084"/></linearGradient><linearGradient id="d25"><stop offset="0" stop-color="#13fce4"/><stop offset=".056" stop-color="#06ecf1"/><stop offset=".113" stop-color="#00c9ff"/><stop offset=".15" stop-color="#00a0ff"/><stop offset=".238" stop-color="#0015ff"/><stop offset=".256" stop-color="#0000ff"/><stop offset=".275" stop-color="#0000fa"/><stop offset=".331" stop-color="#0000c4"/><stop offset=".406" stop-color="#00008d"/><stop offset=".475" stop-color="#000084"/><stop offset="1" stop-color="#000084"/></linearGradient><linearGradient id="d26"><stop offset="0" stop-color="#1cffdb"/><stop offset=".069" stop-color="#0ff8e8"/><stop offset=".113" stop-color="#00ddfe"/><stop offset=".156" stop-color="#00b0ff"/><stop offset=".225" stop-color="#0045ff"/><stop offset=".269" stop-color="#0005ff"/><stop offset=".294" stop-color="#0000fa"/><stop offset=".375" stop-color="#0000b2"/><stop offset=".45" stop-color="#000089"/><stop offset="1" stop-color="#000084"/></linearGradient><linearGradient id="d27"><stop offset="0" stop-color="#26ffd1"/><stop offset=".075" stop-color="#19ffde"/><stop offset=".113" stop-color="#09f0ee"/><stop offset=".138" stop-color="#00dcfe"/><stop offset=".213" stop-color="#007cff"/><stop offset=".269" stop-color="#001dff"/><stop offset=".3" stop-color="#0000ff"/><stop offset=".312" stop-color="#0000fe"/><stop offset=".381" stop-color="#0000bf"/><stop offset=".463" stop-color="#00008d"/><stop offset=".531" stop-color="#000084"/><stop offset="1" stop-color="#000084"/></linearGradient><linearGradient id="d28"><stop offset="0" stop-color="#30ffc7"/><stop offset=".062" stop-color="#29ffce"/><stop offset=".119" stop-color="#13fce4"/><stop offset=".156" stop-color="#00e0fb"/><stop offset=".2" stop-color="#00b0ff"/><stop offset=".288" stop-color="#0021ff"/><stop offset=".325" stop-color="#0000ff"/><stop offset=".481" stop-color="#000092"/><stop offset=".55" stop-color="#000084"/><stop offset="1" stop-color="#000084"/></linearGradient><linearGradient id="d29"><stop offset="0" stop-color="#39ffbe"/><stop offset=".081" stop-color="#33ffc4"/><stop offset=".15" stop-color="#13fce4"/><stop offset=".188" stop-color="#00dcfe"/><stop offset=".244" stop-color="#0094ff"/><stop offset=".3" stop-color="#0035ff"/><stop offset=".344" stop-color="#0001ff"/><stop offset=".369" stop-color="#0000fa"/><stop offset=".425" stop-color="#0000cd"/><stop offset=".531" stop-color="#000089"/><stop offset="1" stop-color="#000084"/></linearGradient><linearGradient id="d30"><stop offset="0" stop-color="#43ffb4"/><stop offset=".094" stop-color="#3cffba"/><stop offset=".163" stop-color="#1cffdb"/><stop offset=".188" stop-color="#0ff8e8"/><stop offset=".225" stop-color="#00d4ff"/><stop offset=".275" stop-color="#008cff"/><stop offset=".331" stop-color="#0031ff"/><stop offset=".363" stop-color="#000dff"/><stop offset=".381" stop-color="#0000ff"/><stop offset=".4" stop-color="#0000fa"/><stop offset=".55" stop-color="#00008d"/><stop offset=".606" stop-color="#000084"/><stop offset="1" stop-color="#000084"/></linearGradient><linearGradient id="d31"><stop offset="0" stop-color="#4dffaa"/><stop offset=".113" stop-color="#46ffb1"/><stop offset=".213" stop-color="#16fee1"/><stop offset=".25" stop-color="#00dcfd"/><stop offset=".3" stop-color="#0094ff"/><stop offset=".356" stop-color="#0039ff"/><stop offset=".388" stop-color="#0015ff"/><stop offset=".419" stop-color="#0000ff"/><stop offset=".588" stop-color="#000089"/><stop offset="1" stop-color="#000084"/></linearGradient><linearGradient id="d32"><stop offset="0" stop-color="#53ffa4"/><stop offset=".119" stop-color="#53ffa4"/><stop offset=".231" stop-color="#23ffd4"/><stop offset=".256" stop-color="#13fce4"/><stop offset=".288" stop-color="#00d8fe"/><stop offset=".4" stop-color="#002dff"/><stop offset=".45" stop-color="#0001ff"/><stop offset=".469" stop-color="#0000fe"/><stop offset=".613" stop-color="#000089"/><stop offset="1" stop-color="#000084"/></linearGradient><linearGradient id="d33"><stop offset="0" stop-color="#5aff9d"/><stop offset=".119" stop-color="#60ff97"/><stop offset=".225" stop-color="#3cffba"/><stop offset=".294" stop-color="#13fce4"/><stop offset=".319" stop-color="#00dcfd"/><stop offset=".444" stop-color="#0029ff"/><stop offset=".494" stop-color="#0001ff"/><stop offset=".519" stop-color="#0000f5"/><stop offset=".638" stop-color="#00008d"/><stop offset=".675" stop-color="#000084"/><stop offset="1" stop-color="#000084"/></linearGradient><linearGradient id="d34"><stop offset="0" stop-color="#60ff97"/><stop offset=".106" stop-color="#6dff8a"/><stop offset=".244" stop-color="#4dffaa"/><stop offset=".312" stop-color="#23ffd4"/><stop offset=".331" stop-color="#13fce4"/><stop offset=".363" stop-color="#00d8fe"/><stop offset=".475" stop-color="#0039ff"/><stop offset=".537" stop-color="#0001ff"/><stop offset=".562" stop-color="#0000f5"/><stop offset=".663" stop-color="#000092"/><stop offset=".706" stop-color="#000084"/><stop offset="1" stop-color="#000084"/></linearGradient><linearGradient id="d35"><stop offset="0" stop-color="#67ff90"/><stop offset=".106" stop-color="#76ff80"/><stop offset=".244" stop-color="#60ff97"/><stop offset=".319" stop-color="#3cffba"/><stop offset=".375" stop-color="#13fce4"/><stop offset=".406" stop-color="#01d8fe"/><stop offset=".488" stop-color="#0069ff"/><stop offset=".581" stop-color="#0006fe"/><stop offset=".6" stop-color="#0001fe"/><stop offset=".669" stop-color="#0000ad"/><stop offset=".719" stop-color="#000089"/><stop offset="1" stop-color="#000084"/></linearGradient><linearGradient id="d36"><stop offset="0" stop-color="#70ff87"/><stop offset=".106" stop-color="#7aff7d"/><stop offset=".244" stop-color="#73ff84"/><stop offset=".344" stop-color="#4dffaa"/><stop offset=".419" stop-color="#16fee1"/><stop offset=".45" stop-color="#01dcfd"/><stop offset=".588" stop-color="#003dff"/><stop offset=".638" stop-color="#0002fe"/><stop offset=".65" stop-color="#0001fe"/><stop offset=".694" stop-color="#0000c0"/><stop offset=".769" stop-color="#000089"/><stop offset="1" stop-color="#000084"/></linearGradient><linearGradient id="d37"><stop offset="0" stop-color="#76ff80"/><stop offset=".25" stop-color="#7dff7a"/><stop offset=".338" stop-color="#69ff8d"/><stop offset=".413" stop-color="#43ffb4"/><stop offset=".475" stop-color="#13fbe4"/><stop offset=".513" stop-color="#01e0fa"/><stop offset=".594" stop-color="#0094ff"/><stop offset=".663" stop-color="#0036ff"/><stop offset=".7" stop-color="#0002fe"/><stop offset=".713" stop-color="#0002f5"/><stop offset=".744" stop-color="#0001c8"/><stop offset=".819" stop-color="#000093"/><stop offset=".894" stop-color="#000084"/><stop offset="1" stop-color="#000084"/></linearGradient><linearGradient id="d38"><stop offset="0" stop-color="#7aff7d"/><stop offset=".35" stop-color="#79ff7d"/><stop offset=".438" stop-color="#56ffa1"/><stop offset=".562" stop-color="#16fee1"/><stop offset=".625" stop-color="#01dbfd"/><stop offset=".669" stop-color="#01b0fe"/><stop offset=".713" stop-color="#006dfe"/><stop offset=".769" stop-color="#000cfe"/><stop offset=".788" stop-color="#0003f9"/><stop offset=".825" stop-color="#0001c8"/><stop offset=".881" stop-color="#0000a0"/><stop offset=".944" stop-color="#00008e"/><stop offset="1" stop-color="#00008e"/></linearGradient><linearGradient id="d39"><stop offset="0" stop-color="#7aff7d"/><stop offset=".419" stop-color="#79ff7d"/><stop offset=".606" stop-color="#39ffbe"/><stop offset=".713" stop-color="#16fce1"/><stop offset=".75" stop-color="#01dafd"/><stop offset=".788" stop-color="#019bfe"/><stop offset=".85" stop-color="#0020fd"/><stop offset=".869" stop-color="#0004fe"/><stop offset=".888" stop-color="#0003f0"/><stop offset=".931" stop-color="#0001c8"/><stop offset=".981" stop-color="#0000b7"/><stop offset="1" stop-color="#0000b7"/></linearGradient><linearGradient id="d40"><stop offset="0" stop-color="#7dff7a"/><stop offset=".5" stop-color="#79ff7e"/><stop offset=".744" stop-color="#42ffb4"/><stop offset=".825" stop-color="#19fcdd"/><stop offset=".85" stop-color="#04e5f3"/><stop offset=".863" stop-color="#01d2fe"/><stop offset=".931" stop-color="#0052fe"/><stop offset=".975" stop-color="#001bfe"/><stop offset="1" stop-color="#000bfe"/></linearGradient><linearGradient id="d41"><stop offset="0" stop-color="#7dff7a"/><stop offset=".669" stop-color="#79ff7e"/><stop offset=".806" stop-color="#56ffa1"/><stop offset=".919" stop-color="#20fcd7"/><stop offset=".938" stop-color="#13f9e4"/><stop offset=".963" stop-color="#01dafd"/><stop offset="1" stop-color="#01a0fe"/></linearGradient><linearGradient id="d42"><stop offset="0" stop-color="#7dff7a"/><stop offset=".812" stop-color="#79ff7e"/><stop offset=".956" stop-color="#43ffb4"/><stop offset="1" stop-color="#29fdce"/></linearGradient><linearGradient id="d43"><stop offset="0" stop-color="#7dff7a"/><stop offset=".919" stop-color="#79ff7e"/><stop offset="1" stop-color="#59ff9d"/></linearGradient><linearGradient id="d44"><stop offset="0" stop-color="#7dff7a"/><stop offset="1" stop-color="#79ff7d"/></linearGradient><linearGradient id="d115"><stop offset="0" stop-color="#7dff7a"/><stop offset="1" stop-color="#79ff7d"/></linearGradient><linearGradient id="d116"><stop offset="0" stop-color="#7dff7a"/><stop offset=".938" stop-color="#79ff7e"/><stop offset="1" stop-color="#59ff9d"/></linearGradient><linearGradient id="d117"><stop offset="0" stop-color="#7dff7a"/><stop offset=".856" stop-color="#79ff7e"/><stop offset=".969" stop-color="#3fffb7"/><stop offset="1" stop-color="#29fece"/></linearGradient><linearGradient id="d118"><stop offset="0" stop-color="#7dff7a"/><stop offset=".775" stop-color="#79ff7e"/><stop offset=".9" stop-color="#39febe"/><stop offset=".95" stop-color="#13fbe4"/><stop offset=".981" stop-color="#01d7fe"/><stop offset="1" stop-color="#01c0fe"/></linearGradient><linearGradient id="d119"><stop offset="0" stop-color="#7dff7a"/><stop offset=".681" stop-color="#79ff7e"/><stop offset=".769" stop-color="#56ffa1"/><stop offset=".869" stop-color="#16fde1"/><stop offset=".9" stop-color="#01dbfd"/><stop offset="1" stop-color="#004dff"/></linearGradient><linearGradient id="d120"><stop offset="0" stop-color="#7dff7a"/><stop offset=".581" stop-color="#79ff7e"/><stop offset=".706" stop-color="#49ffae"/><stop offset=".794" stop-color="#13fbe4"/><stop offset=".825" stop-color="#01dbfd"/><stop offset=".9" stop-color="#006dff"/><stop offset=".95" stop-color="#0026ff"/><stop offset=".994" stop-color="#0002fe"/><stop offset="1" stop-color="#0001fe"/></linearGradient><linearGradient id="d121"><stop offset="0" stop-color="#7dff7a"/><stop offset=".506" stop-color="#79ff7e"/><stop offset=".7" stop-color="#1dfeda"/><stop offset=".738" stop-color="#03e7f4"/><stop offset=".763" stop-color="#01ccfe"/><stop offset=".825" stop-color="#0075ff"/><stop offset=".881" stop-color="#0022ff"/><stop offset=".919" stop-color="#0001fe"/><stop offset=".931" stop-color="#0001fe"/><stop offset=".975" stop-color="#0000d6"/><stop offset="1" stop-color="#0000cd"/></linearGradient><linearGradient id="d122"><stop offset="0" stop-color="#7aff7d"/><stop offset=".45" stop-color="#79ff7d"/><stop offset=".625" stop-color="#13fbe4"/><stop offset=".675" stop-color="#01d8fe"/><stop offset=".738" stop-color="#0091ff"/><stop offset=".825" stop-color="#001aff"/><stop offset=".85" stop-color="#0002fe"/><stop offset=".875" stop-color="#0001f5"/><stop offset=".919" stop-color="#0000cd"/><stop offset=".975" stop-color="#0000ad"/><stop offset="1" stop-color="#0000a4"/></linearGradient><linearGradient id="d123"><stop offset="0" stop-color="#7aff7d"/><stop offset=".406" stop-color="#79ff7d"/><stop offset=".475" stop-color="#4cffaa"/><stop offset=".55" stop-color="#13fce4"/><stop offset=".588" stop-color="#01e0fa"/><stop offset=".669" stop-color="#0095ff"/><stop offset=".769" stop-color="#0019ff"/><stop offset=".794" stop-color="#0002fe"/><stop offset=".819" stop-color="#0001f5"/><stop offset=".869" stop-color="#0000c4"/><stop offset=".95" stop-color="#000097"/><stop offset="1" stop-color="#00008d"/></linearGradient><linearGradient id="d124"><stop offset="0" stop-color="#76ff80"/><stop offset=".231" stop-color="#7dff7a"/><stop offset=".363" stop-color="#76ff81"/><stop offset=".431" stop-color="#4dffaa"/><stop offset=".488" stop-color="#16fee1"/><stop offset=".519" stop-color="#01e4f7"/><stop offset=".556" stop-color="#00c4ff"/><stop offset=".656" stop-color="#0061ff"/><stop offset=".738" stop-color="#0005ff"/><stop offset=".763" stop-color="#0001fa"/><stop offset=".819" stop-color="#0000c8"/><stop offset=".9" stop-color="#000092"/><stop offset=".981" stop-color="#000084"/><stop offset="1" stop-color="#000084"/></linearGradient><linearGradient id="d125"><stop offset="0" stop-color="#70ff87"/><stop offset=".075" stop-color="#7aff7d"/><stop offset=".288" stop-color="#79ff7d"/><stop offset=".381" stop-color="#53ffa4"/><stop offset=".45" stop-color="#13fce4"/><stop offset=".475" stop-color="#01e0fa"/><stop offset=".656" stop-color="#0029ff"/><stop offset=".7" stop-color="#0001ff"/><stop offset=".713" stop-color="#0000fe"/><stop offset=".781" stop-color="#0000bf"/><stop offset=".863" stop-color="#00008e"/><stop offset=".944" stop-color="#000084"/><stop offset="1" stop-color="#000084"/></linearGradient><linearGradient id="d126"><stop offset="0" stop-color="#6aff8d"/><stop offset=".113" stop-color="#7aff7d"/><stop offset=".244" stop-color="#73ff84"/><stop offset=".331" stop-color="#50ffa7"/><stop offset=".4" stop-color="#1ffed7"/><stop offset=".419" stop-color="#0df4ea"/><stop offset=".45" stop-color="#00d0ff"/><stop offset=".537" stop-color="#0071ff"/><stop offset=".656" stop-color="#0001ff"/><stop offset=".681" stop-color="#0000f5"/><stop offset=".75" stop-color="#0000b6"/><stop offset=".831" stop-color="#000089"/><stop offset="1" stop-color="#000084"/></linearGradient><linearGradient id="d127"><stop offset="0" stop-color="#60ff97"/><stop offset=".119" stop-color="#73ff84"/><stop offset=".244" stop-color="#60ff97"/><stop offset=".331" stop-color="#33ffc4"/><stop offset=".375" stop-color="#13fce4"/><stop offset=".406" stop-color="#00d8fe"/><stop offset=".506" stop-color="#0065ff"/><stop offset=".619" stop-color="#0001ff"/><stop offset=".638" stop-color="#0000fe"/><stop offset=".706" stop-color="#0000bf"/><stop offset=".769" stop-color="#000092"/><stop offset=".831" stop-color="#000084"/><stop offset="1" stop-color="#000084"/></linearGradient><linearGradient id="d128"><stop offset="0" stop-color="#5aff9d"/><stop offset=".106" stop-color="#66ff90"/><stop offset=".2" stop-color="#59ff9d"/><stop offset=".288" stop-color="#33ffc4"/><stop offset=".331" stop-color="#13fce4"/><stop offset=".363" stop-color="#00e0fa"/><stop offset=".494" stop-color="#0049ff"/><stop offset=".581" stop-color="#0001ff"/><stop offset=".606" stop-color="#0000fa"/><stop offset=".731" stop-color="#000092"/><stop offset=".794" stop-color="#000084"/><stop offset="1" stop-color="#000084"/></linearGradient><linearGradient id="d129"><stop offset="0" stop-color="#53ffa4"/><stop offset=".113" stop-color="#5dff9a"/><stop offset=".2" stop-color="#46ffb1"/><stop offset=".294" stop-color="#13fce4"/><stop offset=".325" stop-color="#00dcfd"/><stop offset=".406" stop-color="#0085ff"/><stop offset=".494" stop-color="#0029ff"/><stop offset=".556" stop-color="#0000ff"/><stop offset=".581" stop-color="#0000f5"/><stop offset=".7" stop-color="#000092"/><stop offset=".756" stop-color="#000084"/><stop offset="1" stop-color="#000084"/></linearGradient><linearGradient id="d130"><stop offset="0" stop-color="#4dffaa"/><stop offset=".113" stop-color="#50ffa7"/><stop offset=".194" stop-color="#33ffc4"/><stop offset=".25" stop-color="#16fee1"/><stop offset=".288" stop-color="#00ddfd"/><stop offset=".463" stop-color="#0025ff"/><stop offset=".519" stop-color="#0000ff"/><stop offset=".544" stop-color="#0000fa"/><stop offset=".681" stop-color="#000092"/><stop offset=".719" stop-color="#000084"/><stop offset="1" stop-color="#000084"/></linearGradient><linearGradient id="d131"><stop offset="0" stop-color="#43ffb4"/><stop offset=".106" stop-color="#43ffb4"/><stop offset=".206" stop-color="#19ffde"/><stop offset=".25" stop-color="#00e0fa"/><stop offset=".425" stop-color="#0029ff"/><stop offset=".488" stop-color="#0000ff"/><stop offset=".513" stop-color="#0000fa"/><stop offset=".675" stop-color="#000089"/><stop offset="1" stop-color="#000084"/></linearGradient><linearGradient id="d132"><stop offset="0" stop-color="#39ffbd"/><stop offset=".081" stop-color="#39ffbe"/><stop offset=".169" stop-color="#19ffde"/><stop offset=".213" stop-color="#00e4f7"/><stop offset=".25" stop-color="#00c0ff"/><stop offset=".363" stop-color="#0045ff"/><stop offset=".444" stop-color="#0005ff"/><stop offset=".481" stop-color="#0000fa"/><stop offset=".65" stop-color="#000089"/><stop offset="1" stop-color="#000084"/></linearGradient><linearGradient id="d133"><stop offset="0" stop-color="#33ffc4"/><stop offset=".088" stop-color="#29ffce"/><stop offset=".144" stop-color="#13fce4"/><stop offset=".194" stop-color="#00d8ff"/><stop offset=".263" stop-color="#0091ff"/><stop offset=".338" stop-color="#003dff"/><stop offset=".419" stop-color="#0001ff"/><stop offset=".45" stop-color="#0000fa"/><stop offset=".631" stop-color="#000089"/><stop offset="1" stop-color="#000084"/></linearGradient><linearGradient id="d134"><stop offset="0" stop-color="#29ffce"/><stop offset=".094" stop-color="#19ffde"/><stop offset=".131" stop-color="#09f0ee"/><stop offset=".175" stop-color="#00d0ff"/><stop offset=".238" stop-color="#008dff"/><stop offset=".319" stop-color="#0031ff"/><stop offset=".394" stop-color="#0000ff"/><stop offset=".419" stop-color="#0000fa"/><stop offset=".606" stop-color="#000089"/><stop offset="1" stop-color="#000084"/></linearGradient><linearGradient id="d135"><stop offset="0" stop-color="#1fffd7"/><stop offset=".088" stop-color="#0ff8e8"/><stop offset=".138" stop-color="#00d9ff"/><stop offset=".2" stop-color="#009dff"/><stop offset=".288" stop-color="#0035ff"/><stop offset=".356" stop-color="#0001ff"/><stop offset=".394" stop-color="#0000fa"/><stop offset=".588" stop-color="#000089"/><stop offset="1" stop-color="#000084"/></linearGradient><linearGradient id="d136"><stop offset="0" stop-color="#16ffe1"/><stop offset=".062" stop-color="#09f0ee"/><stop offset=".119" stop-color="#00d4ff"/><stop offset=".188" stop-color="#0091ff"/><stop offset=".275" stop-color="#0029ff"/><stop offset=".338" stop-color="#0000ff"/><stop offset=".363" stop-color="#0000fa"/><stop offset=".556" stop-color="#00008d"/><stop offset=".613" stop-color="#000084"/><stop offset="1" stop-color="#000084"/></linearGradient><linearGradient id="d137"><stop offset="0" stop-color="#0cf4eb"/><stop offset=".081" stop-color="#00d9ff"/><stop offset=".138" stop-color="#00b0ff"/><stop offset=".238" stop-color="#0039ff"/><stop offset=".275" stop-color="#0015ff"/><stop offset=".312" stop-color="#0000ff"/><stop offset=".338" stop-color="#0000fa"/><stop offset=".456" stop-color="#0000b6"/><stop offset=".55" stop-color="#000089"/><stop offset="1" stop-color="#000084"/></linearGradient><linearGradient id="d138"><stop offset="0" stop-color="#00e5f7"/><stop offset=".075" stop-color="#00ccff"/><stop offset=".125" stop-color="#00a8ff"/><stop offset=".225" stop-color="#0031ff"/><stop offset=".275" stop-color="#0005ff"/><stop offset=".312" stop-color="#0000fa"/><stop offset=".438" stop-color="#0000b2"/><stop offset=".531" stop-color="#000089"/><stop offset="1" stop-color="#000084"/></linearGradient><linearGradient id="d139"><stop offset="0" stop-color="#00d8ff"/><stop offset=".062" stop-color="#00c1ff"/><stop offset=".119" stop-color="#009cff"/><stop offset=".231" stop-color="#0015ff"/><stop offset=".263" stop-color="#0000ff"/><stop offset=".288" stop-color="#0000fa"/><stop offset=".388" stop-color="#0000bf"/><stop offset=".506" stop-color="#000089"/><stop offset="1" stop-color="#000084"/></linearGradient><linearGradient id="d140"><stop offset="0" stop-color="#00c9ff"/><stop offset=".056" stop-color="#00b4ff"/><stop offset=".119" stop-color="#0088ff"/><stop offset=".219" stop-color="#0011ff"/><stop offset=".244" stop-color="#0000ff"/><stop offset=".269" stop-color="#0000f6"/><stop offset=".425" stop-color="#00009f"/><stop offset=".506" stop-color="#000084"/><stop offset="1" stop-color="#000084"/></linearGradient><linearGradient id="d141"><stop offset="0" stop-color="#00bcff"/><stop offset=".062" stop-color="#00a1ff"/><stop offset=".113" stop-color="#007cff"/><stop offset=".194" stop-color="#0019ff"/><stop offset=".219" stop-color="#0001ff"/><stop offset=".244" stop-color="#0000fa"/><stop offset=".331" stop-color="#0000c4"/><stop offset=".444" stop-color="#00008d"/><stop offset=".525" stop-color="#000084"/><stop offset="1" stop-color="#000084"/></linearGradient><linearGradient id="d142"><stop offset="0" stop-color="#00acff"/><stop offset=".062" stop-color="#0091ff"/><stop offset=".113" stop-color="#0069ff"/><stop offset=".2" stop-color="#0001ff"/><stop offset=".225" stop-color="#0000fa"/><stop offset=".3" stop-color="#0000c8"/><stop offset=".425" stop-color="#00008d"/><stop offset=".494" stop-color="#000084"/><stop offset="1" stop-color="#000084"/></linearGradient><linearGradient id="d143"><stop offset="0" stop-color="#009dff"/><stop offset=".05" stop-color="#0088ff"/><stop offset=".106" stop-color="#005dff"/><stop offset=".188" stop-color="#0000ff"/><stop offset=".213" stop-color="#0000f6"/><stop offset=".281" stop-color="#0000c8"/><stop offset=".4" stop-color="#00008d"/><stop offset=".481" stop-color="#000084"/><stop offset="1" stop-color="#000084"/></linearGradient><linearGradient id="d144"><stop offset="0" stop-color="#008dff"/><stop offset=".05" stop-color="#0079ff"/><stop offset=".113" stop-color="#0044ff"/><stop offset=".169" stop-color="#0001ff"/><stop offset=".188" stop-color="#0000fe"/><stop offset=".269" stop-color="#0000c4"/><stop offset=".388" stop-color="#000089"/><stop offset="1" stop-color="#000084"/></linearGradient><linearGradient id="d145"><stop offset="0" stop-color="#007dff"/><stop offset=".05" stop-color="#0069ff"/><stop offset=".1" stop-color="#0040ff"/><stop offset=".156" stop-color="#0000ff"/><stop offset=".175" stop-color="#0000fa"/><stop offset=".256" stop-color="#0000bf"/><stop offset=".369" stop-color="#000089"/><stop offset="1" stop-color="#000084"/></linearGradient><linearGradient id="d146"><stop offset="0" stop-color="#006dff"/><stop offset=".05" stop-color="#0059ff"/><stop offset=".113" stop-color="#0020ff"/><stop offset=".138" stop-color="#0001ff"/><stop offset=".163" stop-color="#0000f5"/><stop offset=".244" stop-color="#0000bb"/><stop offset=".356" stop-color="#000089"/><stop offset="1" stop-color="#000084"/></linearGradient><linearGradient id="d147"><stop offset="0" stop-color="#005dff"/><stop offset=".038" stop-color="#0051ff"/><stop offset=".1" stop-color="#001cff"/><stop offset=".131" stop-color="#0000ff"/><stop offset=".15" stop-color="#0000f1"/><stop offset=".231" stop-color="#0000b6"/><stop offset=".338" stop-color="#000089"/><stop offset="1" stop-color="#000084"/></linearGradient><linearGradient id="d148"><stop offset="0" stop-color="#004dff"/><stop offset=".038" stop-color="#0040ff"/><stop offset=".088" stop-color="#0018ff"/><stop offset=".113" stop-color="#0000ff"/><stop offset=".138" stop-color="#0000ed"/><stop offset=".213" stop-color="#0000b6"/><stop offset=".319" stop-color="#000089"/><stop offset="1" stop-color="#000084"/></linearGradient><linearGradient id="d149"><stop offset="0" stop-color="#0040ff"/><stop offset=".062" stop-color="#0020ff"/><stop offset=".094" stop-color="#0000ff"/><stop offset=".106" stop-color="#0000fe"/><stop offset=".144" stop-color="#0000d6"/><stop offset=".238" stop-color="#00009f"/><stop offset=".306" stop-color="#000089"/><stop offset="1" stop-color="#000084"/></linearGradient><linearGradient id="d150"><stop offset="0" stop-color="#0030ff"/><stop offset=".05" stop-color="#0019ff"/><stop offset=".081" stop-color="#0000ff"/><stop offset=".1" stop-color="#0000f1"/><stop offset=".144" stop-color="#0000c8"/><stop offset=".238" stop-color="#000096"/><stop offset=".319" stop-color="#000084"/><stop offset="1" stop-color="#000084"/></linearGradient><linearGradient id="d151"><stop offset="0" stop-color="#0020ff"/><stop offset=".044" stop-color="#000dff"/><stop offset=".075" stop-color="#0000fa"/><stop offset=".125" stop-color="#0000c4"/><stop offset=".231" stop-color="#000092"/><stop offset=".312" stop-color="#000084"/><stop offset="1" stop-color="#000084"/></linearGradient><linearGradient id="d152"><stop offset="0" stop-color="#0011ff"/><stop offset=".056" stop-color="#0000fe"/><stop offset=".106" stop-color="#0000c4"/><stop offset=".206" stop-color="#000092"/><stop offset=".294" stop-color="#000084"/><stop offset="1" stop-color="#000084"/></linearGradient><linearGradient id="d153"><stop offset="0" stop-color="#0001ff"/><stop offset=".044" stop-color="#0000fa"/><stop offset=".094" stop-color="#0000bf"/><stop offset=".169" stop-color="#000096"/><stop offset=".256" stop-color="#000084"/><stop offset="1" stop-color="#000084"/></linearGradient><linearGradient id="d154"><stop offset="0" stop-color="#0000fe"/><stop offset=".038" stop-color="#0000ed"/><stop offset=".106" stop-color="#0000a8"/><stop offset=".194" stop-color="#000089"/><stop offset="1" stop-color="#000084"/></linearGradient><linearGradient id="d155"><stop offset="0" stop-color="#0000e8"/><stop offset=".038" stop-color="#0000df"/><stop offset=".1" stop-color="#00009f"/><stop offset=".175" stop-color="#000089"/><stop offset="1" stop-color="#000084"/></linearGradient><linearGradient id="d156"><stop offset="0" stop-color="#0000da"/><stop offset=".038" stop-color="#0000cd"/><stop offset=".094" stop-color="#000096"/><stop offset=".15" stop-color="#000089"/><stop offset="1" stop-color="#000084"/></linearGradient><linearGradient id="d157"><stop offset="0" stop-color="#0000c8"/><stop offset=".031" stop-color="#0000c4"/><stop offset=".069" stop-color="#0000a4"/><stop offset=".106" stop-color="#000089"/><stop offset="1" stop-color="#000084"/></linearGradient><linearGradient id="d158"><stop offset="0" stop-color="#0000bf"/><stop offset=".038" stop-color="#0000b6"/><stop offset=".088" stop-color="#000089"/><stop offset="1" stop-color="#000084"/></linearGradient><linearGradient id="d159"><stop offset="0" stop-color="#0000b2"/><stop offset=".031" stop-color="#0000ad"/><stop offset=".088" stop-color="#000084"/><stop offset="1" stop-color="#000084"/></linearGradient><linearGradient id="cb" x1="0" y1="0" x2="0" y2="1"><stop offset="0.000" stop-color="#800000"/><stop offset="0.090" stop-color="#e80000"/><stop offset="0.110" stop-color="#ff1300"/><stop offset="0.340" stop-color="#feed00"/><stop offset="0.350" stop-color="#f8f500"/><stop offset="0.360" stop-color="#eeff09"/><stop offset="0.625" stop-color="#16ffe1"/><stop offset="0.650" stop-color="#00e4f8"/><stop offset="0.660" stop-color="#00dcfe"/><stop offset="0.875" stop-color="#0000ff"/><stop offset="0.890" stop-color="#0000ff"/><stop offset="1.000" stop-color="#000080"/></linearGradient></defs>
<rect width="550" height="457" fill="#fff"/>
<g><rect x="35.10" y="6.70" width="160.00" height="2.00" fill="url(#a0)"/><rect x="35.10" y="7.70" width="160.00" height="2.00" fill="url(#a1)"/><rect x="35.10" y="8.70" width="160.00" height="2.00" fill="url(#a2)"/><rect x="35.10" y="9.70" width="160.00" height="2.00" fill="url(#a3)"/><rect x="35.10" y="10.70" width="160.00" height="2.00" fill="url(#a4)"/><rect x="35.10" y="11.70" width="160.00" height="2.00" fill="url(#a5)"/><rect x="35.10" y="12.70" width="160.00" height="2.00" fill="url(#a6)"/><rect x="35.10" y="13.70" width="160.00" height="2.00" fill="url(#a7)"/><rect x="35.10" y="14.70" width="160.00" height="2.00" fill="url(#a8)"/><rect x="35.10" y="15.70" width="160.00" height="2.00" fill="url(#a9)"/><rect x="35.10" y="16.70" width="160.00" height="2.00" fill="url(#a10)"/><rect x="35.10" y="17.70" width="160.00" height="2.00" fill="url(#a11)"/><rect x="35.10" y="18.70" width="160.00" height="2.00" fill="url(#a12)"/><rect x="35.10" y="19.70" width="160.00" height="2.00" fill="url(#a13)"/><rect x="35.10" y="20.70" width="160.00" height="2.00" fill="url(#a14)"/><rect x="35.10" y="21.70" width="160.00" height="2.00" fill="url(#a15)"/><rect x="35.10" y="22.70" width="160.00" height="2.00" fill="url(#a16)"/><rect x="35.10" y="23.70" width="160.00" height="2.00" fill="url(#a17)"/><rect x="35.10" y="24.70" width="160.00" height="2.00" fill="url(#a18)"/><rect x="35.10" y="25.70" width="160.00" height="2.00" fill="url(#a19)"/><rect x="35.10" y="26.70" width="160.00" height="2.00" fill="url(#a20)"/><rect x="35.10" y="27.70" width="160.00" height="2.00" fill="url(#a21)"/><rect x="35.10" y="28.70" width="160.00" height="2.00" fill="url(#a22)"/><rect x="35.10" y="29.70" width="160.00" height="2.00" fill="url(#a23)"/><rect x="35.10" y="30.70" width="160.00" height="2.00" fill="url(#a24)"/><rect x="35.10" y="31.70" width="160.00" height="2.00" fill="url(#a25)"/><rect x="35.10" y="32.70" width="160.00" height="2.00" fill="url(#a26)"/><rect x="35.10" y="33.70" width="160.00" height="2.00" fill="url(#a27)"/><rect x="35.10" y="34.70" width="160.00" height="2.00" fill="url(#a28)"/><rect x="35.10" y="35.70" width="160.00" height="2.00" fill="url(#a29)"/><rect x="35.10" y="36.70" width="160.00" height="2.00" fill="url(#a30)"/><rect x="35.10" y="37.70" width="160.00" height="2.00" fill="url(#a31)"/><rect x="35.10" y="38.70" width="160.00" height="2.00" fill="url(#a32)"/><rect x="35.10" y="39.70" width="160.00" height="2.00" fill="url(#a33)"/><rect x="35.10" y="40.70" width="160.00" height="2.00" fill="url(#a34)"/><rect x="35.10" y="41.70" width="160.00" height="2.00" fill="url(#a35)"/><rect x="35.10" y="42.70" width="160.00" height="2.00" fill="url(#a36)"/><rect x="35.10" y="43.70" width="160.00" height="2.00" fill="url(#a37)"/><rect x="35.10" y="44.70" width="160.00" height="2.00" fill="url(#a38)"/><rect x="35.10" y="45.70" width="160.00" height="2.00" fill="url(#a39)"/><rect x="35.10" y="46.70" width="160.00" height="2.00" fill="url(#a40)"/><rect x="35.10" y="47.70" width="160.00" height="2.00" fill="url(#a41)"/><rect x="35.10" y="48.70" width="160.00" height="2.00" fill="url(#a42)"/><rect x="35.10" y="49.70" width="160.00" height="2.00" fill="url(#a43)"/><rect x="35.10" y="50.70" width="160.00" height="2.00" fill="url(#a44)"/><rect x="35.10" y="51.70" width="160.00" height="2.00" fill="url(#a45)"/><rect x="35.10" y="52.70" width="160.00" height="2.00" fill="url(#a46)"/><rect x="35.10" y="53.70" width="160.00" height="2.00" fill="url(#a47)"/><rect x="35.10" y="54.70" width="160.00" height="2.00" fill="url(#a48)"/><rect x="35.10" y="55.70" width="160.00" height="2.00" fill="url(#a49)"/><rect x="35.10" y="56.70" width="160.00" height="2.00" fill="url(#a50)"/><rect x="35.10" y="57.70" width="160.00" height="2.00" fill="url(#a51)"/><rect x="35.10" y="58.70" width="160.00" height="2.00" fill="url(#a52)"/><rect x="35.10" y="59.70" width="160.00" height="2.00" fill="url(#a53)"/><rect x="35.10" y="60.70" width="160.00" height="2.00" fill="url(#a54)"/><rect x="35.10" y="61.70" width="160.00" height="2.00" fill="url(#a55)"/><rect x="35.10" y="62.70" width="160.00" height="2.00" fill="url(#a56)"/><rect x="35.10" y="63.70" width="160.00" height="2.00" fill="url(#a57)"/><rect x="35.10" y="64.70" width="160.00" height="2.00" fill="url(#a58)"/><rect x="35.10" y="65.70" width="160.00" height="2.00" fill="url(#a59)"/><rect x="35.10" y="66.70" width="160.00" height="2.00" fill="url(#a60)"/><rect x="35.10" y="67.70" width="160.00" height="2.00" fill="url(#a61)"/><rect x="35.10" y="68.70" width="160.00" height="2.00" fill="url(#a62)"/><rect x="35.10" y="69.70" width="160.00" height="2.00" fill="url(#a63)"/><rect x="35.10" y="70.70" width="160.00" height="2.00" fill="url(#a64)"/><rect x="35.10" y="71.70" width="160.00" height="2.00" fill="url(#a65)"/><rect x="35.10" y="72.70" width="160.00" height="2.00" fill="url(#a66)"/><rect x="35.10" y="73.70" width="160.00" height="2.00" fill="url(#a67)"/><rect x="35.10" y="74.70" width="160.00" height="2.00" fill="url(#a68)"/><rect x="35.10" y="75.70" width="160.00" height="2.00" fill="url(#a69)"/><rect x="35.10" y="76.70" width="160.00" height="2.00" fill="url(#a70)"/><rect x="35.10" y="77.70" width="160.00" height="2.00" fill="url(#a71)"/><rect x="35.10" y="78.70" width="160.00" height="2.00" fill="url(#a72)"/><rect x="35.10" y="79.70" width="160.00" height="2.00" fill="url(#a73)"/><rect x="35.10" y="80.70" width="160.00" height="2.00" fill="url(#a74)"/><rect x="35.10" y="81.70" width="160.00" height="2.00" fill="url(#a75)"/><rect x="35.10" y="82.70" width="160.00" height="2.00" fill="url(#a76)"/><rect x="35.10" y="83.70" width="160.00" height="2.00" fill="url(#a77)"/><rect x="35.10" y="84.70" width="160.00" height="2.00" fill="url(#a78)"/><rect x="35.10" y="85.70" width="160.00" height="2.00" fill="url(#a79)"/><rect x="35.10" y="86.70" width="160.00" height="2.00" fill="url(#a80)"/><rect x="35.10" y="87.70" width="160.00" height="2.00" fill="url(#a81)"/><rect x="35.10" y="88.70" width="160.00" height="2.00" fill="url(#a82)"/><rect x="35.10" y="89.70" width="160.00" height="2.00" fill="url(#a83)"/><rect x="35.10" y="90.70" width="160.00" height="2.00" fill="url(#a84)"/><rect x="35.10" y="91.70" width="160.00" height="2.00" fill="url(#a85)"/><rect x="35.10" y="92.70" width="160.00" height="2.00" fill="url(#a86)"/><rect x="35.10" y="93.70" width="160.00" height="2.00" fill="url(#a87)"/><rect x="35.10" y="94.70" width="160.00" height="2.00" fill="url(#a88)"/><rect x="35.10" y="95.70" width="160.00" height="2.00" fill="url(#a89)"/><rect x="35.10" y="96.70" width="160.00" height="2.00" fill="url(#a90)"/><rect x="35.10" y="97.70" width="160.00" height="2.00" fill="url(#a91)"/><rect x="35.10" y="98.70" width="160.00" height="2.00" fill="url(#a92)"/><rect x="35.10" y="99.70" width="160.00" height="2.00" fill="url(#a93)"/><rect x="35.10" y="100.70" width="160.00" height="2.00" fill="url(#a94)"/><rect x="35.10" y="101.70" width="160.00" height="2.00" fill="url(#a95)"/><rect x="35.10" y="102.70" width="160.00" height="2.00" fill="url(#a96)"/><rect x="35.10" y="103.70" width="160.00" height="2.00" fill="url(#a97)"/><rect x="35.10" y="104.70" width="160.00" height="2.00" fill="url(#a98)"/><rect x="35.10" y="105.70" width="160.00" height="2.00" fill="url(#a99)"/><rect x="35.10" y="106.70" width="160.00" height="2.00" fill="url(#a100)"/><rect x="35.10" y="107.70" width="160.00" height="2.00" fill="url(#a101)"/><rect x="35.10" y="108.70" width="160.00" height="2.00" fill="url(#a102)"/><rect x="35.10" y="109.70" width="160.00" height="2.00" fill="url(#a103)"/><rect x="35.10" y="110.70" width="160.00" height="2.00" fill="url(#a104)"/><rect x="35.10" y="111.70" width="160.00" height="2.00" fill="url(#a105)"/><rect x="35.10" y="112.70" width="160.00" height="2.00" fill="url(#a106)"/><rect x="35.10" y="113.70" width="160.00" height="2.00" fill="url(#a107)"/><rect x="35.10" y="114.70" width="160.00" height="2.00" fill="url(#a108)"/><rect x="35.10" y="115.70" width="160.00" height="2.00" fill="url(#a109)"/><rect x="35.10" y="116.70" width="160.00" height="2.00" fill="url(#a110)"/><rect x="35.10" y="117.70" width="160.00" height="2.00" fill="url(#a111)"/><rect x="35.10" y="118.70" width="160.00" height="2.00" fill="url(#a112)"/><rect x="35.10" y="119.70" width="160.00" height="2.00" fill="url(#a113)"/><rect x="35.10" y="120.70" width="160.00" height="2.00" fill="url(#a114)"/><rect x="35.10" y="121.70" width="160.00" height="2.00" fill="url(#a115)"/><rect x="35.10" y="122.70" width="160.00" height="2.00" fill="url(#a116)"/><rect x="35.10" y="123.70" width="160.00" height="2.00" fill="url(#a117)"/><rect x="35.10" y="124.70" width="160.00" height="2.00" fill="url(#a118)"/><rect x="35.10" y="125.70" width="160.00" height="2.00" fill="url(#a119)"/><rect x="35.10" y="126.70" width="160.00" height="2.00" fill="url(#a120)"/><rect x="35.10" y="127.70" width="160.00" height="2.00" fill="url(#a121)"/><rect x="35.10" y="128.70" width="160.00" height="2.00" fill="url(#a122)"/><rect x="35.10" y="129.70" width="160.00" height="2.00" fill="url(#a123)"/><rect x="35.10" y="130.70" width="160.00" height="2.00" fill="url(#a124)"/><rect x="35.10" y="131.70" width="160.00" height="2.00" fill="url(#a125)"/><rect x="35.10" y="132.70" width="160.00" height="2.00" fill="url(#a126)"/><rect x="35.10" y="133.70" width="160.00" height="2.00" fill="url(#a127)"/><rect x="35.10" y="134.70" width="160.00" height="2.00" fill="url(#a128)"/><rect x="35.10" y="135.70" width="160.00" height="2.00" fill="url(#a129)"/><rect x="35.10" y="136.70" width="160.00" height="2.00" fill="url(#a130)"/><rect x="35.10" y="137.70" width="160.00" height="2.00" fill="url(#a131)"/><rect x="35.10" y="138.70" width="160.00" height="2.00" fill="url(#a132)"/><rect x="35.10" y="139.70" width="160.00" height="2.00" fill="url(#a133)"/><rect x="35.10" y="140.70" width="160.00" height="2.00" fill="url(#a134)"/><rect x="35.10" y="141.70" width="160.00" height="2.00" fill="url(#a135)"/><rect x="35.10" y="142.70" width="160.00" height="2.00" fill="url(#a136)"/><rect x="35.10" y="143.70" width="160.00" height="2.00" fill="url(#a137)"/><rect x="35.10" y="144.70" width="160.00" height="2.00" fill="url(#a138)"/><rect x="35.10" y="145.70" width="160.00" height="2.00" fill="url(#a139)"/><rect x="35.10" y="146.70" width="160.00" height="2.00" fill="url(#a140)"/><rect x="35.10" y="147.70" width="160.00" height="2.00" fill="url(#a141)"/><rect x="35.10" y="148.70" width="160.00" height="2.00" fill="url(#a142)"/><rect x="35.10" y="149.70" width="160.00" height="2.00" fill="url(#a143)"/><rect x="35.10" y="150.70" width="160.00" height="2.00" fill="url(#a144)"/><rect x="35.10" y="151.70" width="160.00" height="2.00" fill="url(#a145)"/><rect x="35.10" y="152.70" width="160.00" height="2.00" fill="url(#a146)"/><rect x="35.10" y="153.70" width="160.00" height="2.00" fill="url(#a147)"/><rect x="35.10" y="154.70" width="160.00" height="2.00" fill="url(#a148)"/><rect x="35.10" y="155.70" width="160.00" height="2.00" fill="url(#a149)"/><rect x="35.10" y="156.70" width="160.00" height="2.00" fill="url(#a150)"/><rect x="35.10" y="157.70" width="160.00" height="2.00" fill="url(#a151)"/><rect x="35.10" y="158.70" width="160.00" height="2.00" fill="url(#a152)"/><rect x="35.10" y="159.70" width="160.00" height="2.00" fill="url(#a153)"/><rect x="35.10" y="160.70" width="160.00" height="2.00" fill="url(#a154)"/><rect x="35.10" y="161.70" width="160.00" height="2.00" fill="url(#a155)"/><rect x="35.10" y="162.70" width="160.00" height="2.00" fill="url(#a156)"/><rect x="35.10" y="163.70" width="160.00" height="2.00" fill="url(#a157)"/><rect x="35.10" y="164.70" width="160.00" height="2.00" fill="url(#a158)"/><rect x="35.10" y="165.70" width="160.00" height="1.00" fill="url(#a159)"/></g>
<rect x="35.10" y="6.70" width="160.00" height="160.00" fill="none" stroke="#000" stroke-opacity="0.7" stroke-width="0.5"/>
<path d="M35.10 6.70h-1.8M35.10 26.70h-1.8M35.10 46.70h-1.8M35.10 66.70h-1.8M35.10 86.70h-1.8M35.10 106.70h-1.8M35.10 126.70h-1.8M35.10 146.70h-1.8M35.10 166.70h-1.8M35.10 166.70v1.8M67.10 166.70v1.8M99.10 166.70v1.8M131.10 166.70v1.8M163.10 166.70v1.8M195.10 166.70v1.8" stroke="#222" stroke-width="0.5" fill="none"/>
<g font-family="Liberation Serif, serif" font-size="6" fill="#111"><text x="31.60" y="8.80" text-anchor="end">-1.00</text><text x="31.60" y="28.80" text-anchor="end">-0.75</text><text x="31.60" y="48.80" text-anchor="end">-0.50</text><text x="31.60" y="68.80" text-anchor="end">-0.25</text><text x="31.60" y="88.80" text-anchor="end">0.00</text><text x="31.60" y="108.80" text-anchor="end">0.25</text><text x="31.60" y="128.80" text-anchor="end">0.50</text><text x="31.60" y="148.80" text-anchor="end">0.75</text><text x="31.60" y="168.80" text-anchor="end">1.00</text><text x="35.10" y="175.10" text-anchor="middle">0.0</text><text x="67.10" y="175.10" text-anchor="middle">0.2</text><text x="99.10" y="175.10" text-anchor="middle">0.4</text><text x="131.10" y="175.10" text-anchor="middle">0.6</text><text x="163.10" y="175.10" text-anchor="middle">0.8</text><text x="195.10" y="175.10" text-anchor="middle">1.0</text></g>
<g><rect x="295.40" y="6.50" width="161.50" height="2.01" fill="url(#b0)"/><rect x="295.40" y="7.51" width="161.50" height="2.01" fill="url(#b1)"/><rect x="295.40" y="8.52" width="161.50" height="2.01" fill="url(#b2)"/><rect x="295.40" y="9.53" width="161.50" height="2.01" fill="url(#b3)"/><rect x="295.40" y="10.54" width="161.50" height="2.01" fill="url(#b4)"/><rect x="295.40" y="11.55" width="161.50" height="2.01" fill="url(#b5)"/><rect x="295.40" y="12.56" width="161.50" height="2.01" fill="url(#b6)"/><rect x="295.40" y="13.57" width="161.50" height="2.01" fill="url(#b7)"/><rect x="295.40" y="14.57" width="161.50" height="2.01" fill="url(#b8)"/><rect x="295.40" y="15.58" width="161.50" height="2.01" fill="url(#b9)"/><rect x="295.40" y="16.59" width="161.50" height="2.01" fill="url(#b10)"/><rect x="295.40" y="17.60" width="161.50" height="2.01" fill="url(#b11)"/><rect x="295.40" y="18.61" width="161.50" height="2.01" fill="url(#b12)"/><rect x="295.40" y="19.62" width="161.50" height="2.01" fill="url(#b13)"/><rect x="295.40" y="20.63" width="161.50" height="2.01" fill="url(#b14)"/><rect x="295.40" y="21.64" width="161.50" height="2.01" fill="url(#b15)"/><rect x="295.40" y="22.65" width="161.50" height="2.01" fill="url(#b16)"/><rect x="295.40" y="23.66" width="161.50" height="2.01" fill="url(#b17)"/><rect x="295.40" y="24.67" width="161.50" height="2.01" fill="url(#b18)"/><rect x="295.40" y="25.68" width="161.50" height="2.01" fill="url(#b19)"/><rect x="295.40" y="26.69" width="161.50" height="2.01" fill="url(#b20)"/><rect x="295.40" y="27.70" width="161.50" height="2.01" fill="url(#b21)"/><rect x="295.40" y="28.71" width="161.50" height="2.01" fill="url(#b22)"/><rect x="295.40" y="29.72" width="161.50" height="2.01" fill="url(#b23)"/><rect x="295.40" y="30.72" width="161.50" height="2.01" fill="url(#b24)"/><rect x="295.40" y="31.73" width="161.50" height="2.01" fill="url(#b25)"/><rect x="295.40" y="32.74" width="161.50" height="2.01" fill="url(#b26)"/><rect x="295.40" y="33.75" width="161.50" height="2.01" fill="url(#b27)"/><rect x="295.40" y="34.76" width="161.50" height="2.01" fill="url(#b28)"/><rect x="295.40" y="35.77" width="161.50" height="2.01" fill="url(#b29)"/><rect x="295.40" y="36.78" width="161.50" height="2.01" fill="url(#b30)"/><rect x="295.40" y="37.79" width="161.50" height="2.01" fill="url(#b31)"/><rect x="295.40" y="38.80" width="161.50" height="2.01" fill="url(#b32)"/><rect x="295.40" y="39.81" width="161.50" height="2.01" fill="url(#b33)"/><rect x="295.40" y="40.82" width="161.50" height="2.01" fill="url(#b34)"/><rect x="295.40" y="41.83" width="161.50" height="2.01" fill="url(#b35)"/><rect x="295.40" y="42.84" width="161.50" height="2.01" fill="url(#b36)"/><rect x="295.40" y="43.85" width="161.50" height="2.01" fill="url(#b37)"/><rect x="295.40" y="44.86" width="161.50" height="2.01" fill="url(#b38)"/><rect x="295.40" y="45.87" width="161.50" height="2.01" fill="url(#b39)"/><rect x="295.40" y="46.88" width="161.50" height="2.01" fill="url(#b40)"/><rect x="295.40" y="47.88" width="161.50" height="2.01" fill="url(#b41)"/><rect x="295.40" y="48.89" width="161.50" height="2.01" fill="url(#b42)"/><rect x="295.40" y="49.90" width="161.50" height="2.01" fill="url(#b43)"/><rect x="295.40" y="50.91" width="161.50" height="2.01" fill="url(#b44)"/><rect x="295.40" y="51.92" width="161.50" height="2.01" fill="url(#b45)"/><rect x="295.40" y="52.93" width="161.50" height="2.01" fill="url(#b46)"/><rect x="295.40" y="53.94" width="161.50" height="2.01" fill="url(#b47)"/><rect x="295.40" y="54.95" width="161.50" height="2.01" fill="url(#b48)"/><rect x="295.40" y="55.96" width="161.50" height="2.01" fill="url(#b49)"/><rect x="295.40" y="56.97" width="161.50" height="2.01" fill="url(#b50)"/><rect x="295.40" y="57.98" width="161.50" height="2.01" fill="url(#b51)"/><rect x="295.40" y="58.99" width="161.50" height="2.01" fill="url(#b52)"/><rect x="295.40" y="60.00" width="161.50" height="2.01" fill="url(#b53)"/><rect x="295.40" y="61.01" width="161.50" height="2.01" fill="url(#b54)"/><rect x="295.40" y="62.02" width="161.50" height="2.01" fill="url(#b55)"/><rect x="295.40" y="63.02" width="161.50" height="2.01" fill="url(#b56)"/><rect x="295.40" y="64.03" width="161.50" height="2.01" fill="url(#b57)"/><rect x="295.40" y="65.04" width="161.50" height="2.01" fill="url(#b58)"/><rect x="295.40" y="66.05" width="161.50" height="2.01" fill="url(#b59)"/><rect x="295.40" y="67.06" width="161.50" height="2.01" fill="url(#b60)"/><rect x="295.40" y="68.07" width="161.50" height="2.01" fill="url(#b61)"/><rect x="295.40" y="69.08" width="161.50" height="2.01" fill="url(#b62)"/><rect x="295.40" y="70.09" width="161.50" height="2.01" fill="url(#b63)"/><rect x="295.40" y="71.10" width="161.50" height="2.01" fill="url(#b64)"/><rect x="295.40" y="72.11" width="161.50" height="2.01" fill="url(#b65)"/><rect x="295.40" y="73.12" width="161.50" height="2.01" fill="url(#b66)"/><rect x="295.40" y="74.13" width="161.50" height="2.01" fill="url(#b67)"/><rect x="295.40" y="75.14" width="161.50" height="2.01" fill="url(#b68)"/><rect x="295.40" y="76.15" width="161.50" height="2.01" fill="url(#b69)"/><rect x="295.40" y="77.16" width="161.50" height="2.01" fill="url(#b70)"/><rect x="295.40" y="78.17" width="161.50" height="2.01" fill="url(#b71)"/><rect x="295.40" y="79.17" width="161.50" height="2.01" fill="url(#b72)"/><rect x="295.40" y="80.18" width="161.50" height="2.01" fill="url(#b73)"/><rect x="295.40" y="81.19" width="161.50" height="2.01" fill="url(#b74)"/><rect x="295.40" y="82.20" width="161.50" height="2.01" fill="url(#b75)"/><rect x="295.40" y="83.21" width="161.50" height="2.01" fill="url(#b76)"/><rect x="295.40" y="84.22" width="161.50" height="2.01" fill="url(#b77)"/><rect x="295.40" y="85.23" width="161.50" height="2.01" fill="url(#b78)"/><rect x="295.40" y="86.24" width="161.50" height="2.01" fill="url(#b79)"/><rect x="295.40" y="87.25" width="161.50" height="2.01" fill="url(#b80)"/><rect x="295.40" y="88.26" width="161.50" height="2.01" fill="url(#b81)"/><rect x="295.40" y="89.27" width="161.50" height="2.01" fill="url(#b82)"/><rect x="295.40" y="90.28" width="161.50" height="2.01" fill="url(#b83)"/><rect x="295.40" y="91.29" width="161.50" height="2.01" fill="url(#b84)"/><rect x="295.40" y="92.30" width="161.50" height="2.01" fill="url(#b85)"/><rect x="295.40" y="93.31" width="161.50" height="2.01" fill="url(#b86)"/><rect x="295.40" y="94.32" width="161.50" height="2.01" fill="url(#b87)"/><rect x="295.40" y="95.32" width="161.50" height="2.01" fill="url(#b88)"/><rect x="295.40" y="96.33" width="161.50" height="2.01" fill="url(#b89)"/><rect x="295.40" y="97.34" width="161.50" height="2.01" fill="url(#b90)"/><rect x="295.40" y="98.35" width="161.50" height="2.01" fill="url(#b91)"/><rect x="295.40" y="99.36" width="161.50" height="2.01" fill="url(#b92)"/><rect x="295.40" y="100.37" width="161.50" height="2.01" fill="url(#b93)"/><rect x="295.40" y="101.38" width="161.50" height="2.01" fill="url(#b94)"/><rect x="295.40" y="102.39" width="161.50" height="2.01" fill="url(#b95)"/><rect x="295.40" y="103.40" width="161.50" height="2.01" fill="url(#b96)"/><rect x="295.40" y="104.41" width="161.50" height="2.01" fill="url(#b97)"/><rect x="295.40" y="105.42" width="161.50" height="2.01" fill="url(#b98)"/><rect x="295.40" y="106.43" width="161.50" height="2.01" fill="url(#b99)"/><rect x="295.40" y="107.44" width="161.50" height="2.01" fill="url(#b100)"/><rect x="295.40" y="108.45" width="161.50" height="2.01" fill="url(#b101)"/><rect x="295.40" y="109.46" width="161.50" height="2.01" fill="url(#b102)"/><rect x="295.40" y="110.47" width="161.50" height="2.01" fill="url(#b103)"/><rect x="295.40" y="111.47" width="161.50" height="2.01" fill="url(#b104)"/><rect x="295.40" y="112.48" width="161.50" height="2.01" fill="url(#b105)"/><rect x="295.40" y="113.49" width="161.50" height="2.01" fill="url(#b106)"/><rect x="295.40" y="114.50" width="161.50" height="2.01" fill="url(#b107)"/><rect x="295.40" y="115.51" width="161.50" height="2.01" fill="url(#b108)"/><rect x="295.40" y="116.52" width="161.50" height="2.01" fill="url(#b109)"/><rect x="295.40" y="117.53" width="161.50" height="2.01" fill="url(#b110)"/><rect x="295.40" y="118.54" width="161.50" height="2.01" fill="url(#b111)"/><rect x="295.40" y="119.55" width="161.50" height="2.01" fill="url(#b112)"/><rect x="295.40" y="120.56" width="161.50" height="2.01" fill="url(#b113)"/><rect x="295.40" y="121.57" width="161.50" height="2.01" fill="url(#b114)"/><rect x="295.40" y="122.58" width="161.50" height="2.01" fill="url(#b115)"/><rect x="295.40" y="123.59" width="161.50" height="2.01" fill="url(#b116)"/><rect x="295.40" y="124.60" width="161.50" height="2.01" fill="url(#b117)"/><rect x="295.40" y="125.61" width="161.50" height="2.01" fill="url(#b118)"/><rect x="295.40" y="126.62" width="161.50" height="2.01" fill="url(#b119)"/><rect x="295.40" y="127.62" width="161.50" height="2.01" fill="url(#b120)"/><rect x="295.40" y="128.63" width="161.50" height="2.01" fill="url(#b121)"/><rect x="295.40" y="129.64" width="161.50" height="2.01" fill="url(#b122)"/><rect x="295.40" y="130.65" width="161.50" height="2.01" fill="url(#b123)"/><rect x="295.40" y="131.66" width="161.50" height="2.01" fill="url(#b124)"/><rect x="295.40" y="132.67" width="161.50" height="2.01" fill="url(#b125)"/><rect x="295.40" y="133.68" width="161.50" height="2.01" fill="url(#b126)"/><rect x="295.40" y="134.69" width="161.50" height="2.01" fill="url(#b127)"/><rect x="295.40" y="135.70" width="161.50" height="2.01" fill="url(#b128)"/><rect x="295.40" y="136.71" width="161.50" height="2.01" fill="url(#b129)"/><rect x="295.40" y="137.72" width="161.50" height="2.01" fill="url(#b130)"/><rect x="295.40" y="138.73" width="161.50" height="2.01" fill="url(#b131)"/><rect x="295.40" y="139.74" width="161.50" height="2.01" fill="url(#b132)"/><rect x="295.40" y="140.75" width="161.50" height="2.01" fill="url(#b133)"/><rect x="295.40" y="141.76" width="161.50" height="2.01" fill="url(#b134)"/><rect x="295.40" y="142.77" width="161.50" height="2.01" fill="url(#b135)"/><rect x="295.40" y="143.77" width="161.50" height="2.01" fill="url(#b136)"/><rect x="295.40" y="144.78" width="161.50" height="2.01" fill="url(#b137)"/><rect x="295.40" y="145.79" width="161.50" height="2.01" fill="url(#b138)"/><rect x="295.40" y="146.80" width="161.50" height="2.01" fill="url(#b139)"/><rect x="295.40" y="147.81" width="161.50" height="2.01" fill="url(#b140)"/><rect x="295.40" y="148.82" width="161.50" height="2.01" fill="url(#b141)"/><rect x="295.40" y="149.83" width="161.50" height="2.01" fill="url(#b142)"/><rect x="295.40" y="150.84" width="161.50" height="2.01" fill="url(#b143)"/><rect x="295.40" y="151.85" width="161.50" height="2.01" fill="url(#b144)"/><rect x="295.40" y="152.86" width="161.50" height="2.01" fill="url(#b145)"/><rect x="295.40" y="153.87" width="161.50" height="2.01" fill="url(#b146)"/><rect x="295.40" y="154.88" width="161.50" height="2.01" fill="url(#b147)"/><rect x="295.40" y="155.89" width="161.50" height="2.01" fill="url(#b148)"/><rect x="295.40" y="156.90" width="161.50" height="2.01" fill="url(#b149)"/><rect x="295.40" y="157.91" width="161.50" height="2.01" fill="url(#b150)"/><rect x="295.40" y="158.92" width="161.50" height="2.01" fill="url(#b151)"/><rect x="295.40" y="159.92" width="161.50" height="2.01" fill="url(#b152)"/><rect x="295.40" y="160.93" width="161.50" height="2.01" fill="url(#b153)"/><rect x="295.40" y="161.94" width="161.50" height="2.01" fill="url(#b154)"/><rect x="295.40" y="162.95" width="161.50" height="2.01" fill="url(#b155)"/><rect x="295.40" y="163.96" width="161.50" height="2.01" fill="url(#b156)"/><rect x="295.40" y="164.97" width="161.50" height="2.01" fill="url(#b157)"/><rect x="295.40" y="165.98" width="161.50" height="2.01" fill="url(#b158)"/><rect x="295.40" y="166.99" width="161.50" height="1.01" fill="url(#b159)"/></g>
<rect x="295.40" y="6.50" width="161.50" height="161.50" fill="none" stroke="#000" stroke-opacity="0.7" stroke-width="0.5"/>
<path d="M295.40 6.50h-1.8M295.40 26.69h-1.8M295.40 46.88h-1.8M295.40 67.06h-1.8M295.40 87.25h-1.8M295.40 107.44h-1.8M295.40 127.62h-1.8M295.40 147.81h-1.8M295.40 168.00h-1.8M295.40 168.00v1.8M327.70 168.00v1.8M360.00 168.00v1.8M392.30 168.00v1.8M424.60 168.00v1.8M456.90 168.00v1.8" stroke="#222" stroke-width="0.5" fill="none"/>
<g font-family="Liberation Serif, serif" font-size="6" fill="#111"><text x="291.90" y="8.60" text-anchor="end">-1.00</text><text x="291.90" y="28.79" text-anchor="end">-0.75</text><text x="291.90" y="48.98" text-anchor="end">-0.50</text><text x="291.90" y="69.16" text-anchor="end">-0.25</text><text x="291.90" y="89.35" text-anchor="end">0.00</text><text x="291.90" y="109.54" text-anchor="end">0.25</text><text x="291.90" y="129.72" text-anchor="end">0.50</text><text x="291.90" y="149.91" text-anchor="end">0.75</text><text x="291.90" y="170.10" text-anchor="end">1.00</text><text x="295.40" y="176.40" text-anchor="middle">0.0</text><text x="327.70" y="176.40" text-anchor="middle">0.2</text><text x="360.00" y="176.40" text-anchor="middle">0.4</text><text x="392.30" y="176.40" text-anchor="middle">0.6</text><text x="424.60" y="176.40" text-anchor="middle">0.8</text><text x="456.90" y="176.40" text-anchor="middle">1.0</text></g>
<g><rect x="35.30" y="231.50" width="158.30" height="1.99" fill="url(#c0)"/><rect x="35.30" y="232.49" width="158.30" height="1.99" fill="url(#c1)"/><rect x="35.30" y="233.48" width="158.30" height="1.99" fill="url(#c2)"/><rect x="35.30" y="234.47" width="158.30" height="1.99" fill="url(#c3)"/><rect x="35.30" y="235.46" width="158.30" height="1.99" fill="url(#c4)"/><rect x="35.30" y="236.45" width="158.30" height="1.99" fill="url(#c5)"/><rect x="35.30" y="237.44" width="158.30" height="1.99" fill="url(#c6)"/><rect x="35.30" y="238.43" width="158.30" height="1.99" fill="url(#c7)"/><rect x="35.30" y="239.42" width="158.30" height="1.99" fill="url(#c8)"/><rect x="35.30" y="240.41" width="158.30" height="1.99" fill="url(#c9)"/><rect x="35.30" y="241.40" width="158.30" height="1.99" fill="url(#c10)"/><rect x="35.30" y="242.39" width="158.30" height="1.99" fill="url(#c11)"/><rect x="35.30" y="243.38" width="158.30" height="1.99" fill="url(#c12)"/><rect x="35.30" y="244.37" width="158.30" height="1.99" fill="url(#c13)"/><rect x="35.30" y="245.36" width="158.30" height="1.99" fill="url(#c14)"/><rect x="35.30" y="246.35" width="158.30" height="1.99" fill="url(#c15)"/><rect x="35.30" y="247.34" width="158.30" height="1.99" fill="url(#c16)"/><rect x="35.30" y="248.33" width="158.30" height="1.99" fill="url(#c17)"/><rect x="35.30" y="249.32" width="158.30" height="1.99" fill="url(#c18)"/><rect x="35.30" y="250.31" width="158.30" height="1.99" fill="url(#c19)"/><rect x="35.30" y="251.30" width="158.30" height="1.99" fill="url(#c20)"/><rect x="35.30" y="252.29" width="158.30" height="1.99" fill="url(#c21)"/><rect x="35.30" y="253.28" width="158.30" height="1.99" fill="url(#c22)"/><rect x="35.30" y="254.27" width="158.30" height="1.99" fill="url(#c23)"/><rect x="35.30" y="255.26" width="158.30" height="1.99" fill="url(#c24)"/><rect x="35.30" y="256.25" width="158.30" height="1.99" fill="url(#c25)"/><rect x="35.30" y="257.24" width="158.30" height="1.99" fill="url(#c26)"/><rect x="35.30" y="258.23" width="158.30" height="1.99" fill="url(#c27)"/><rect x="35.30" y="259.22" width="158.30" height="1.99" fill="url(#c28)"/><rect x="35.30" y="260.21" width="158.30" height="1.99" fill="url(#c29)"/><rect x="35.30" y="261.20" width="158.30" height="1.99" fill="url(#c30)"/><rect x="35.30" y="262.19" width="158.30" height="1.99" fill="url(#c31)"/><rect x="35.30" y="263.18" width="158.30" height="1.99" fill="url(#c32)"/><rect x="35.30" y="264.17" width="158.30" height="1.99" fill="url(#c33)"/><rect x="35.30" y="265.16" width="158.30" height="1.99" fill="url(#c34)"/><rect x="35.30" y="266.15" width="158.30" height="1.99" fill="url(#c35)"/><rect x="35.30" y="267.14" width="158.30" height="1.99" fill="url(#c36)"/><rect x="35.30" y="268.13" width="158.30" height="1.99" fill="url(#c37)"/><rect x="35.30" y="269.12" width="158.30" height="1.99" fill="url(#c38)"/><rect x="35.30" y="270.11" width="158.30" height="1.99" fill="url(#c39)"/><rect x="35.30" y="271.10" width="158.30" height="1.99" fill="url(#c40)"/><rect x="35.30" y="272.09" width="158.30" height="1.99" fill="url(#c41)"/><rect x="35.30" y="273.08" width="158.30" height="1.99" fill="url(#c42)"/><rect x="35.30" y="274.07" width="158.30" height="1.99" fill="url(#c43)"/><rect x="35.30" y="275.06" width="158.30" height="1.99" fill="url(#c44)"/><rect x="35.30" y="276.05" width="158.30" height="1.99" fill="#7dff7a"/><rect x="35.30" y="277.04" width="158.30" height="1.99" fill="#7dff7a"/><rect x="35.30" y="278.03" width="158.30" height="1.99" fill="#7dff7a"/><rect x="35.30" y="279.02" width="158.30" height="1.99" fill="#7dff7a"/><rect x="35.30" y="280.01" width="158.30" height="1.99" fill="#7dff7a"/><rect x="35.30" y="281.00" width="158.30" height="1.99" fill="#7dff7a"/><rect x="35.30" y="281.99" width="158.30" height="1.99" fill="#7dff7a"/><rect x="35.30" y="282.98" width="158.30" height="1.99" fill="#7dff7a"/><rect x="35.30" y="283.97" width="158.30" height="1.99" fill="#7dff7a"/><rect x="35.30" y="284.96" width="158.30" height="1.99" fill="#7dff7a"/><rect x="35.30" y="285.95" width="158.30" height="1.99" fill="#7dff7a"/><rect x="35.30" y="286.94" width="158.30" height="1.99" fill="#7dff7a"/><rect x="35.30" y="287.93" width="158.30" height="1.99" fill="#7dff7a"/><rect x="35.30" y="288.92" width="158.30" height="1.99" fill="#7dff7a"/><rect x="35.30" y="289.91" width="158.30" height="1.99" fill="#7dff7a"/><rect x="35.30" y="290.90" width="158.30" height="1.99" fill="#7dff7a"/><rect x="35.30" y="291.89" width="158.30" height="1.99" fill="#7dff7a"/><rect x="35.30" y="292.88" width="158.30" height="1.99" fill="#7dff7a"/><rect x="35.30" y="293.87" width="158.30" height="1.99" fill="#7dff7a"/><rect x="35.30" y="294.86" width="158.30" height="1.99" fill="#7dff7a"/><rect x="35.30" y="295.85" width="158.30" height="1.99" fill="#7dff7a"/><rect x="35.30" y="296.84" width="158.30" height="1.99" fill="#7dff7a"/><rect x="35.30" y="297.83" width="158.30" height="1.99" fill="#7dff7a"/><rect x="35.30" y="298.82" width="158.30" height="1.99" fill="#7dff7a"/><rect x="35.30" y="299.81" width="158.30" height="1.99" fill="#7dff7a"/><rect x="35.30" y="300.80" width="158.30" height="1.99" fill="#7dff7a"/><rect x="35.30" y="301.79" width="158.30" height="1.99" fill="#7dff7a"/><rect x="35.30" y="302.78" width="158.30" height="1.99" fill="#7dff7a"/><rect x="35.30" y="303.77" width="158.30" height="1.99" fill="#7dff7a"/><rect x="35.30" y="304.76" width="158.30" height="1.99" fill="#7dff7a"/><rect x="35.30" y="305.75" width="158.30" height="1.99" fill="#7dff7a"/><rect x="35.30" y="306.74" width="158.30" height="1.99" fill="#7dff7a"/><rect x="35.30" y="307.73" width="158.30" height="1.99" fill="#7dff7a"/><rect x="35.30" y="308.72" width="158.30" height="1.99" fill="#7dff7a"/><rect x="35.30" y="309.71" width="158.30" height="1.99" fill="#7dff7a"/><rect x="35.30" y="310.70" width="158.30" height="1.99" fill="#7dff7a"/><rect x="35.30" y="311.69" width="158.30" height="1.99" fill="#7dff7a"/><rect x="35.30" y="312.68" width="158.30" height="1.99" fill="#7dff7a"/><rect x="35.30" y="313.67" width="158.30" height="1.99" fill="#7dff7a"/><rect x="35.30" y="314.66" width="158.30" height="1.99" fill="#7dff7a"/><rect x="35.30" y="315.65" width="158.30" height="1.99" fill="#7dff7a"/><rect x="35.30" y="316.64" width="158.30" height="1.99" fill="#7dff7a"/><rect x="35.30" y="317.63" width="158.30" height="1.99" fill="#7dff7a"/><rect x="35.30" y="318.62" width="158.30" height="1.99" fill="#7dff7a"/><rect x="35.30" y="319.61" width="158.30" height="1.99" fill="#7dff7a"/><rect x="35.30" y="320.60" width="158.30" height="1.99" fill="#7dff7a"/><rect x="35.30" y="321.59" width="158.30" height="1.99" fill="#7dff7a"/><rect x="35.30" y="322.58" width="158.30" height="1.99" fill="#7dff7a"/><rect x="35.30" y="323.57" width="158.30" height="1.99" fill="#7dff7a"/><rect x="35.30" y="324.56" width="158.30" height="1.99" fill="#7dff7a"/><rect x="35.30" y="325.55" width="158.30" height="1.99" fill="#7dff7a"/><rect x="35.30" y="326.54" width="158.30" height="1.99" fill="#7dff7a"/><rect x="35.30" y="327.53" width="158.30" height="1.99" fill="#7dff7a"/><rect x="35.30" y="328.52" width="158.30" height="1.99" fill="#7dff7a"/><rect x="35.30" y="329.51" width="158.30" height="1.99" fill="#7dff7a"/><rect x="35.30" y="330.50" width="158.30" height="1.99" fill="#7dff7a"/><rect x="35.30" y="331.49" width="158.30" height="1.99" fill="#7dff7a"/><rect x="35.30" y="332.48" width="158.30" height="1.99" fill="#7dff7a"/><rect x="35.30" y="333.47" width="158.30" height="1.99" fill="#7dff7a"/><rect x="35.30" y="334.46" width="158.30" height="1.99" fill="#7dff7a"/><rect x="35.30" y="335.45" width="158.30" height="1.99" fill="#7dff7a"/><rect x="35.30" y="336.44" width="158.30" height="1.99" fill="#7dff7a"/><rect x="35.30" y="337.43" width="158.30" height="1.99" fill="#7dff7a"/><rect x="35.30" y="338.42" width="158.30" height="1.99" fill="#7dff7a"/><rect x="35.30" y="339.41" width="158.30" height="1.99" fill="#7dff7a"/><rect x="35.30" y="340.40" width="158.30" height="1.99" fill="#7dff7a"/><rect x="35.30" y="341.39" width="158.30" height="1.99" fill="#7dff7a"/><rect x="35.30" y="342.38" width="158.30" height="1.99" fill="#7dff7a"/><rect x="35.30" y="343.37" width="158.30" height="1.99" fill="#7dff7a"/><rect x="35.30" y="344.36" width="158.30" height="1.99" fill="#7dff7a"/><rect x="35.30" y="345.35" width="158.30" height="1.99" fill="url(#c115)"/><rect x="35.30" y="346.34" width="158.30" height="1.99" fill="url(#c116)"/><rect x="35.30" y="347.33" width="158.30" height="1.99" fill="url(#c117)"/><rect x="35.30" y="348.32" width="158.30" height="1.99" fill="url(#c118)"/><rect x="35.30" y="349.31" width="158.30" height="1.99" fill="url(#c119)"/><rect x="35.30" y="350.30" width="158.30" height="1.99" fill="url(#c120)"/><rect x="35.30" y="351.29" width="158.30" height="1.99" fill="url(#c121)"/><rect x="35.30" y="352.28" width="158.30" height="1.99" fill="url(#c122)"/><rect x="35.30" y="353.27" width="158.30" height="1.99" fill="url(#c123)"/><rect x="35.30" y="354.26" width="158.30" height="1.99" fill="url(#c124)"/><rect x="35.30" y="355.25" width="158.30" height="1.99" fill="url(#c125)"/><rect x="35.30" y="356.24" width="158.30" height="1.99" fill="url(#c126)"/><rect x="35.30" y="357.23" width="158.30" height="1.99" fill="url(#c127)"/><rect x="35.30" y="358.22" width="158.30" height="1.99" fill="url(#c128)"/><rect x="35.30" y="359.21" width="158.30" height="1.99" fill="url(#c129)"/><rect x="35.30" y="360.20" width="158.30" height="1.99" fill="url(#c130)"/><rect x="35.30" y="361.19" width="158.30" height="1.99" fill="url(#c131)"/><rect x="35.30" y="362.18" width="158.30" height="1.99" fill="url(#c132)"/><rect x="35.30" y="363.17" width="158.30" height="1.99" fill="url(#c133)"/><rect x="35.30" y="364.16" width="158.30" height="1.99" fill="url(#c134)"/><rect x="35.30" y="365.15" width="158.30" height="1.99" fill="url(#c135)"/><rect x="35.30" y="366.14" width="158.30" height="1.99" fill="url(#c136)"/><rect x="35.30" y="367.13" width="158.30" height="1.99" fill="url(#c137)"/><rect x="35.30" y="368.12" width="158.30" height="1.99" fill="url(#c138)"/><rect x="35.30" y="369.11" width="158.30" height="1.99" fill="url(#c139)"/><rect x="35.30" y="370.10" width="158.30" height="1.99" fill="url(#c140)"/><rect x="35.30" y="371.09" width="158.30" height="1.99" fill="url(#c141)"/><rect x="35.30" y="372.08" width="158.30" height="1.99" fill="url(#c142)"/><rect x="35.30" y="373.07" width="158.30" height="1.99" fill="url(#c143)"/><rect x="35.30" y="374.06" width="158.30" height="1.99" fill="url(#c144)"/><rect x="35.30" y="375.05" width="158.30" height="1.99" fill="url(#c145)"/><rect x="35.30" y="376.04" width="158.30" height="1.99" fill="url(#c146)"/><rect x="35.30" y="377.03" width="158.30" height="1.99" fill="url(#c147)"/><rect x="35.30" y="378.02" width="158.30" height="1.99" fill="url(#c148)"/><rect x="35.30" y="379.01" width="158.30" height="1.99" fill="url(#c149)"/><rect x="35.30" y="380.00" width="158.30" height="1.99" fill="url(#c150)"/><rect x="35.30" y="380.99" width="158.30" height="1.99" fill="url(#c151)"/><rect x="35.30" y="381.98" width="158.30" height="1.99" fill="url(#c152)"/><rect x="35.30" y="382.97" width="158.30" height="1.99" fill="url(#c153)"/><rect x="35.30" y="383.96" width="158.30" height="1.99" fill="url(#c154)"/><rect x="35.30" y="384.95" width="158.30" height="1.99" fill="url(#c155)"/><rect x="35.30" y="385.94" width="158.30" height="1.99" fill="url(#c156)"/><rect x="35.30" y="386.93" width="158.30" height="1.99" fill="url(#c157)"/><rect x="35.30" y="387.92" width="158.30" height="1.98" fill="url(#c158)"/><rect x="35.30" y="388.91" width="158.30" height="0.99" fill="url(#c159)"/></g>
<rect x="35.30" y="231.50" width="158.30" height="158.40" fill="none" stroke="#000" stroke-opacity="0.7" stroke-width="0.5"/>
<path d="M35.30 231.50h-1.8M35.30 251.30h-1.8M35.30 271.10h-1.8M35.30 290.90h-1.8M35.30 310.70h-1.8M35.30 330.50h-1.8M35.30 350.30h-1.8M35.30 370.10h-1.8M35.30 389.90h-1.8M35.30 389.90v1.8M66.96 389.90v1.8M98.62 389.90v1.8M130.28 389.90v1.8M161.94 389.90v1.8M193.60 389.90v1.8" stroke="#222" stroke-width="0.5" fill="none"/>
<g font-family="Liberation Serif, serif" font-size="6" fill="#111"><text x="31.80" y="233.60" text-anchor="end">-1.00</text><text x="31.80" y="253.40" text-anchor="end">-0.75</text><text x="31.80" y="273.20" text-anchor="end">-0.50</text><text x="31.80" y="293.00" text-anchor="end">-0.25</text><text x="31.80" y="312.80" text-anchor="end">0.00</text><text x="31.80" y="332.60" text-anchor="end">0.25</text><text x="31.80" y="352.40" text-anchor="end">0.50</text><text x="31.80" y="372.20" text-anchor="end">0.75</text><text x="31.80" y="392.00" text-anchor="end">1.00</text><text x="35.30" y="398.30" text-anchor="middle">0.0</text><text x="66.96" y="398.30" text-anchor="middle">0.2</text><text x="98.62" y="398.30" text-anchor="middle">0.4</text><text x="130.28" y="398.30" text-anchor="middle">0.6</text><text x="161.94" y="398.30" text-anchor="middle">0.8</text><text x="193.60" y="398.30" text-anchor="middle">1.0</text></g>
<g><rect x="298.20" y="231.50" width="159.80" height="1.99" fill="url(#d0)"/><rect x="298.20" y="232.49" width="159.80" height="1.99" fill="url(#d1)"/><rect x="298.20" y="233.49" width="159.80" height="1.99" fill="url(#d2)"/><rect x="298.20" y="234.48" width="159.80" height="1.99" fill="url(#d3)"/><rect x="298.20" y="235.48" width="159.80" height="1.99" fill="url(#d4)"/><rect x="298.20" y="236.47" width="159.80" height="1.99" fill="url(#d5)"/><rect x="298.20" y="237.47" width="159.80" height="1.99" fill="url(#d6)"/><rect x="298.20" y="238.46" width="159.80" height="1.99" fill="url(#d7)"/><rect x="298.20" y="239.46" width="159.80" height="1.99" fill="url(#d8)"/><rect x="298.20" y="240.45" width="159.80" height="1.99" fill="url(#d9)"/><rect x="298.20" y="241.44" width="159.80" height="1.99" fill="url(#d10)"/><rect x="298.20" y="242.44" width="159.80" height="1.99" fill="url(#d11)"/><rect x="298.20" y="243.43" width="159.80" height="1.99" fill="url(#d12)"/><rect x="298.20" y="244.43" width="159.80" height="1.99" fill="url(#d13)"/><rect x="298.20" y="245.42" width="159.80" height="1.99" fill="url(#d14)"/><rect x="298.20" y="246.42" width="159.80" height="1.99" fill="url(#d15)"/><rect x="298.20" y="247.41" width="159.80" height="1.99" fill="url(#d16)"/><rect x="298.20" y="248.40" width="159.80" height="1.99" fill="url(#d17)"/><rect x="298.20" y="249.40" width="159.80" height="1.99" fill="url(#d18)"/><rect x="298.20" y="250.39" width="159.80" height="1.99" fill="url(#d19)"/><rect x="298.20" y="251.39" width="159.80" height="1.99" fill="url(#d20)"/><rect x="298.20" y="252.38" width="159.80" height="1.99" fill="url(#d21)"/><rect x="298.20" y="253.38" width="159.80" height="1.99" fill="url(#d22)"/><rect x="298.20" y="254.37" width="159.80" height="1.99" fill="url(#d23)"/><rect x="298.20" y="255.37" width="159.80" height="1.99" fill="url(#d24)"/><rect x="298.20" y="256.36" width="159.80" height="1.99" fill="url(#d25)"/><rect x="298.20" y="257.35" width="159.80" height="1.99" fill="url(#d26)"/><rect x="298.20" y="258.35" width="159.80" height="1.99" fill="url(#d27)"/><rect x="298.20" y="259.34" width="159.80" height="1.99" fill="url(#d28)"/><rect x="298.20" y="260.34" width="159.80" height="1.99" fill="url(#d29)"/><rect x="298.20" y="261.33" width="159.80" height="1.99" fill="url(#d30)"/><rect x="298.20" y="262.33" width="159.80" height="1.99" fill="url(#d31)"/><rect x="298.20" y="263.32" width="159.80" height="1.99" fill="url(#d32)"/><rect x="298.20" y="264.31" width="159.80" height="1.99" fill="url(#d33)"/><rect x="298.20" y="265.31" width="159.80" height="1.99" fill="url(#d34)"/><rect x="298.20" y="266.30" width="159.80" height="1.99" fill="url(#d35)"/><rect x="298.20" y="267.30" width="159.80" height="1.99" fill="url(#d36)"/><rect x="298.20" y="268.29" width="159.80" height="1.99" fill="url(#d37)"/><rect x="298.20" y="269.29" width="159.80" height="1.99" fill="url(#d38)"/><rect x="298.20" y="270.28" width="159.80" height="1.99" fill="url(#d39)"/><rect x="298.20" y="271.27" width="159.80" height="1.99" fill="url(#d40)"/><rect x="298.20" y="272.27" width="159.80" height="1.99" fill="url(#d41)"/><rect x="298.20" y="273.26" width="159.80" height="1.99" fill="url(#d42)"/><rect x="298.20" y="274.26" width="159.80" height="1.99" fill="url(#d43)"/><rect x="298.20" y="275.25" width="159.80" height="1.99" fill="url(#d44)"/><rect x="298.20" y="276.25" width="159.80" height="1.99" fill="#7dff7a"/><rect x="298.20" y="277.24" width="159.80" height="1.99" fill="#7dff7a"/><rect x="298.20" y="278.24" width="159.80" height="1.99" fill="#7dff7a"/><rect x="298.20" y="279.23" width="159.80" height="1.99" fill="#7dff7a"/><rect x="298.20" y="280.22" width="159.80" height="1.99" fill="#7dff7a"/><rect x="298.20" y="281.22" width="159.80" height="1.99" fill="#7dff7a"/><rect x="298.20" y="282.21" width="159.80" height="1.99" fill="#7dff7a"/><rect x="298.20" y="283.21" width="159.80" height="1.99" fill="#7dff7a"/><rect x="298.20" y="284.20" width="159.80" height="1.99" fill="#7dff7a"/><rect x="298.20" y="285.20" width="159.80" height="1.99" fill="#7dff7a"/><rect x="298.20" y="286.19" width="159.80" height="1.99" fill="#7dff7a"/><rect x="298.20" y="287.19" width="159.80" height="1.99" fill="#7dff7a"/><rect x="298.20" y="288.18" width="159.80" height="1.99" fill="#7dff7a"/><rect x="298.20" y="289.17" width="159.80" height="1.99" fill="#7dff7a"/><rect x="298.20" y="290.17" width="159.80" height="1.99" fill="#7dff7a"/><rect x="298.20" y="291.16" width="159.80" height="1.99" fill="#7dff7a"/><rect x="298.20" y="292.16" width="159.80" height="1.99" fill="#7dff7a"/><rect x="298.20" y="293.15" width="159.80" height="1.99" fill="#7dff7a"/><rect x="298.20" y="294.15" width="159.80" height="1.99" fill="#7dff7a"/><rect x="298.20" y="295.14" width="159.80" height="1.99" fill="#7dff7a"/><rect x="298.20" y="296.13" width="159.80" height="1.99" fill="#7dff7a"/><rect x="298.20" y="297.13" width="159.80" height="1.99" fill="#7dff7a"/><rect x="298.20" y="298.12" width="159.80" height="1.99" fill="#7dff7a"/><rect x="298.20" y="299.12" width="159.80" height="1.99" fill="#7dff7a"/><rect x="298.20" y="300.11" width="159.80" height="1.99" fill="#7dff7a"/><rect x="298.20" y="301.11" width="159.80" height="1.99" fill="#7dff7a"/><rect x="298.20" y="302.10" width="159.80" height="1.99" fill="#7dff7a"/><rect x="298.20" y="303.10" width="159.80" height="1.99" fill="#7dff7a"/><rect x="298.20" y="304.09" width="159.80" height="1.99" fill="#7dff7a"/><rect x="298.20" y="305.08" width="159.80" height="1.99" fill="#7dff7a"/><rect x="298.20" y="306.08" width="159.80" height="1.99" fill="#7dff7a"/><rect x="298.20" y="307.07" width="159.80" height="1.99" fill="#7dff7a"/><rect x="298.20" y="308.07" width="159.80" height="1.99" fill="#7dff7a"/><rect x="298.20" y="309.06" width="159.80" height="1.99" fill="#7dff7a"/><rect x="298.20" y="310.06" width="159.80" height="1.99" fill="#7dff7a"/><rect x="298.20" y="311.05" width="159.80" height="1.99" fill="#7dff7a"/><rect x="298.20" y="312.04" width="159.80" height="1.99" fill="#7dff7a"/><rect x="298.20" y="313.04" width="159.80" height="1.99" fill="#7dff7a"/><rect x="298.20" y="314.03" width="159.80" height="1.99" fill="#7dff7a"/><rect x="298.20" y="315.03" width="159.80" height="1.99" fill="#7dff7a"/><rect x="298.20" y="316.02" width="159.80" height="1.99" fill="#7dff7a"/><rect x="298.20" y="317.02" width="159.80" height="1.99" fill="#7dff7a"/><rect x="298.20" y="318.01" width="159.80" height="1.99" fill="#7dff7a"/><rect x="298.20" y="319.00" width="159.80" height="1.99" fill="#7dff7a"/><rect x="298.20" y="320.00" width="159.80" height="1.99" fill="#7dff7a"/><rect x="298.20" y="320.99" width="159.80" height="1.99" fill="#7dff7a"/><rect x="298.20" y="321.99" width="159.80" height="1.99" fill="#7dff7a"/><rect x="298.20" y="322.98" width="159.80" height="1.99" fill="#7dff7a"/><rect x="298.20" y="323.98" width="159.80" height="1.99" fill="#7dff7a"/><rect x="298.20" y="324.97" width="159.80" height="1.99" fill="#7dff7a"/><rect x="298.20" y="325.97" width="159.80" height="1.99" fill="#7dff7a"/><rect x="298.20" y="326.96" width="159.80" height="1.99" fill="#7dff7a"/><rect x="298.20" y="327.95" width="159.80" height="1.99" fill="#7dff7a"/><rect x="298.20" y="328.95" width="159.80" height="1.99" fill="#7dff7a"/><rect x="298.20" y="329.94" width="159.80" height="1.99" fill="#7dff7a"/><rect x="298.20" y="330.94" width="159.80" height="1.99" fill="#7dff7a"/><rect x="298.20" y="331.93" width="159.80" height="1.99" fill="#7dff7a"/><rect x="298.20" y="332.93" width="159.80" height="1.99" fill="#7dff7a"/><rect x="298.20" y="333.92" width="159.80" height="1.99" fill="#7dff7a"/><rect x="298.20" y="334.92" width="159.80" height="1.99" fill="#7dff7a"/><rect x="298.20" y="335.91" width="159.80" height="1.99" fill="#7dff7a"/><rect x="298.20" y="336.90" width="159.80" height="1.99" fill="#7dff7a"/><rect x="298.20" y="337.90" width="159.80" height="1.99" fill="#7dff7a"/><rect x="298.20" y="338.89" width="159.80" height="1.99" fill="#7dff7a"/><rect x="298.20" y="339.89" width="159.80" height="1.99" fill="#7dff7a"/><rect x="298.20" y="340.88" width="159.80" height="1.99" fill="#7dff7a"/><rect x="298.20" y="341.88" width="159.80" height="1.99" fill="#7dff7a"/><rect x="298.20" y="342.87" width="159.80" height="1.99" fill="#7dff7a"/><rect x="298.20" y="343.86" width="159.80" height="1.99" fill="#7dff7a"/><rect x="298.20" y="344.86" width="159.80" height="1.99" fill="#7dff7a"/><rect x="298.20" y="345.85" width="159.80" height="1.99" fill="url(#d115)"/><rect x="298.20" y="346.85" width="159.80" height="1.99" fill="url(#d116)"/><rect x="298.20" y="347.84" width="159.80" height="1.99" fill="url(#d117)"/><rect x="298.20" y="348.84" width="159.80" height="1.99" fill="url(#d118)"/><rect x="298.20" y="349.83" width="159.80" height="1.99" fill="url(#d119)"/><rect x="298.20" y="350.82" width="159.80" height="1.99" fill="url(#d120)"/><rect x="298.20" y="351.82" width="159.80" height="1.99" fill="url(#d121)"/><rect x="298.20" y="352.81" width="159.80" height="1.99" fill="url(#d122)"/><rect x="298.20" y="353.81" width="159.80" height="1.99" fill="url(#d123)"/><rect x="298.20" y="354.80" width="159.80" height="1.99" fill="url(#d124)"/><rect x="298.20" y="355.80" width="159.80" height="1.99" fill="url(#d125)"/><rect x="298.20" y="356.79" width="159.80" height="1.99" fill="url(#d126)"/><rect x="298.20" y="357.79" width="159.80" height="1.99" fill="url(#d127)"/><rect x="298.20" y="358.78" width="159.80" height="1.99" fill="url(#d128)"/><rect x="298.20" y="359.77" width="159.80" height="1.99" fill="url(#d129)"/><rect x="298.20" y="360.77" width="159.80" height="1.99" fill="url(#d130)"/><rect x="298.20" y="361.76" width="159.80" height="1.99" fill="url(#d131)"/><rect x="298.20" y="362.76" width="159.80" height="1.99" fill="url(#d132)"/><rect x="298.20" y="363.75" width="159.80" height="1.99" fill="url(#d133)"/><rect x="298.20" y="364.75" width="159.80" height="1.99" fill="url(#d134)"/><rect x="298.20" y="365.74" width="159.80" height="1.99" fill="url(#d135)"/><rect x="298.20" y="366.74" width="159.80" height="1.99" fill="url(#d136)"/><rect x="298.20" y="367.73" width="159.80" height="1.99" fill="url(#d137)"/><rect x="298.20" y="368.72" width="159.80" height="1.99" fill="url(#d138)"/><rect x="298.20" y="369.72" width="159.80" height="1.99" fill="url(#d139)"/><rect x="298.20" y="370.71" width="159.80" height="1.99" fill="url(#d140)"/><rect x="298.20" y="371.71" width="159.80" height="1.99" fill="url(#d141)"/><rect x="298.20" y="372.70" width="159.80" height="1.99" fill="url(#d142)"/><rect x="298.20" y="373.70" width="159.80" height="1.99" fill="url(#d143)"/><rect x="298.20" y="374.69" width="159.80" height="1.99" fill="url(#d144)"/><rect x="298.20" y="375.68" width="159.80" height="1.99" fill="url(#d145)"/><rect x="298.20" y="376.68" width="159.80" height="1.99" fill="url(#d146)"/><rect x="298.20" y="377.67" width="159.80" height="1.99" fill="url(#d147)"/><rect x="298.20" y="378.67" width="159.80" height="1.99" fill="url(#d148)"/><rect x="298.20" y="379.66" width="159.80" height="1.99" fill="url(#d149)"/><rect x="298.20" y="380.66" width="159.80" height="1.99" fill="url(#d150)"/><rect x="298.20" y="381.65" width="159.80" height="1.99" fill="url(#d151)"/><rect x="298.20" y="382.64" width="159.80" height="1.99" fill="url(#d152)"/><rect x="298.20" y="383.64" width="159.80" height="1.99" fill="url(#d153)"/><rect x="298.20" y="384.63" width="159.80" height="1.99" fill="url(#d154)"/><rect x="298.20" y="385.63" width="159.80" height="1.99" fill="url(#d155)"/><rect x="298.20" y="386.62" width="159.80" height="1.99" fill="url(#d156)"/><rect x="298.20" y="387.62" width="159.80" height="1.99" fill="url(#d157)"/><rect x="298.20" y="388.61" width="159.80" height="1.99" fill="url(#d158)"/><rect x="298.20" y="389.61" width="159.80" height="0.99" fill="url(#d159)"/></g>
<rect x="298.20" y="231.50" width="159.80" height="159.10" fill="none" stroke="#000" stroke-opacity="0.7" stroke-width="0.5"/>
<path d="M298.20 231.50h-1.8M298.20 251.39h-1.8M298.20 271.27h-1.8M298.20 291.16h-1.8M298.20 311.05h-1.8M298.20 330.94h-1.8M298.20 350.82h-1.8M298.20 370.71h-1.8M298.20 390.60h-1.8M298.20 390.60v1.8M330.16 390.60v1.8M362.12 390.60v1.8M394.08 390.60v1.8M426.04 390.60v1.8M458.00 390.60v1.8" stroke="#222" stroke-width="0.5" fill="none"/>
<g font-family="Liberation Serif, serif" font-size="6" fill="#111"><text x="294.70" y="233.60" text-anchor="end">-1.00</text><text x="294.70" y="253.49" text-anchor="end">-0.75</text><text x="294.70" y="273.38" text-anchor="end">-0.50</text><text x="294.70" y="293.26" text-anchor="end">-0.25</text><text x="294.70" y="313.15" text-anchor="end">0.00</text><text x="294.70" y="333.04" text-anchor="end">0.25</text><text x="294.70" y="352.93" text-anchor="end">0.50</text><text x="294.70" y="372.81" text-anchor="end">0.75</text><text x="294.70" y="392.70" text-anchor="end">1.00</text><text x="298.20" y="399.00" text-anchor="middle">0.0</text><text x="330.16" y="399.00" text-anchor="middle">0.2</text><text x="362.12" y="399.00" text-anchor="middle">0.4</text><text x="394.08" y="399.00" text-anchor="middle">0.6</text><text x="426.04" y="399.00" text-anchor="middle">0.8</text><text x="458.00" y="399.00" text-anchor="middle">1.0</text></g>
<g font-family="DejaVu Sans, Liberation Sans, sans-serif" font-size="14" fill="#000" text-anchor="middle"><text x="8.2" y="95.6">x</text><text x="259.6" y="95.6">x</text><text x="8.2" y="318.8">x</text><text x="259.6" y="318.8">x</text></g><g font-family="Liberation Sans, DejaVu Sans, sans-serif" font-size="14.5" fill="#000" text-anchor="middle"><text x="115.4" y="193.8">t</text><text x="377.6" y="193.6">t</text><text x="115.4" y="419.4">t</text><text x="377.5" y="419.5">t</text><text x="100.8" y="159.1">t</text><text x="127.6" y="390.7">t</text><text x="350.0" y="390.8">t</text></g>
<g transform="translate(22.4,0) scale(1.19,1)" font-family="Liberation Serif, serif" font-size="10.5" fill="#1a1a1a" stroke="#1a1a1a" stroke-width="0.12"><text x="0.00" y="208.9" textLength="11.43" lengthAdjust="spacingAndGlyphs">(a)</text><text x="14.20" y="208.9" textLength="5.04" lengthAdjust="spacingAndGlyphs" font-style="italic">u</text><text x="19.33" y="208.9" textLength="17.56" lengthAdjust="spacingAndGlyphs">(x,t)</text><text x="39.92" y="208.9" textLength="8.91" lengthAdjust="spacingAndGlyphs">of</text><text x="51.93" y="208.9" textLength="10.76" lengthAdjust="spacingAndGlyphs">1D</text><text x="65.63" y="208.9" textLength="14.12" lengthAdjust="spacingAndGlyphs">AC</text><text x="82.69" y="208.9" textLength="38.82" lengthAdjust="spacingAndGlyphs">equation</text><text x="124.54" y="208.9" textLength="43.28" lengthAdjust="spacingAndGlyphs">predictied</text><text x="0" y="223.1" textLength="10.08" lengthAdjust="spacingAndGlyphs">by</text><text x="13.61" y="223.1" textLength="33.11" lengthAdjust="spacingAndGlyphs">HPINN</text></g>
<g transform="translate(278.7,0) scale(1.19,1)" font-family="Liberation Serif, serif" font-size="10.5" fill="#1a1a1a" stroke="#1a1a1a" stroke-width="0.12"><text x="0.00" y="205.0" textLength="11.68" lengthAdjust="spacingAndGlyphs">(b)</text><text x="14.62" y="205.0" textLength="5.04" lengthAdjust="spacingAndGlyphs" font-style="italic">u</text><text x="19.75" y="205.0" textLength="17.56" lengthAdjust="spacingAndGlyphs">(x,t)</text><text x="40.34" y="205.0" textLength="8.91" lengthAdjust="spacingAndGlyphs">of</text><text x="52.35" y="205.0" textLength="10.76" lengthAdjust="spacingAndGlyphs">1D</text><text x="66.05" y="205.0" textLength="14.12" lengthAdjust="spacingAndGlyphs">AC</text><text x="83.11" y="205.0" textLength="38.82" lengthAdjust="spacingAndGlyphs">equation</text><text x="124.96" y="205.0" textLength="43.28" lengthAdjust="spacingAndGlyphs">predictied</text><text x="0" y="218.6" textLength="10.08" lengthAdjust="spacingAndGlyphs">by</text><text x="13.53" y="218.6" textLength="43.36" lengthAdjust="spacingAndGlyphs">HWPINN</text></g>
<g transform="translate(25.9,0) scale(1.19,1)" font-family="Liberation Serif, serif" font-size="10.5" fill="#1a1a1a" stroke="#1a1a1a" stroke-width="0.12"><text x="0.00" y="433.9" textLength="11.13" lengthAdjust="spacingAndGlyphs">(c)</text><text x="13.70" y="433.9" textLength="5.04" lengthAdjust="spacingAndGlyphs" font-style="italic">u</text><text x="18.82" y="433.9" textLength="17.56" lengthAdjust="spacingAndGlyphs">(x,t)</text><text x="39.41" y="433.9" textLength="8.91" lengthAdjust="spacingAndGlyphs">of</text><text x="51.43" y="433.9" textLength="10.76" lengthAdjust="spacingAndGlyphs">1D</text><text x="65.13" y="433.9" textLength="14.12" lengthAdjust="spacingAndGlyphs">AC</text><text x="82.18" y="433.9" textLength="38.82" lengthAdjust="spacingAndGlyphs">equation</text><text x="124.03" y="433.9" textLength="43.28" lengthAdjust="spacingAndGlyphs">predictied</text><text x="0" y="447.5" textLength="10.08" lengthAdjust="spacingAndGlyphs">by</text><text x="13.53" y="447.5" textLength="30.25" lengthAdjust="spacingAndGlyphs">SPINN</text></g>
<g transform="translate(284.9,0) scale(1.19,1)" font-family="Liberation Serif, serif" font-size="10.5" fill="#1a1a1a" stroke="#1a1a1a" stroke-width="0.12"><text x="0.00" y="432.8" textLength="12.18" lengthAdjust="spacingAndGlyphs">(d)</text><text x="15.46" y="432.8" textLength="5.04" lengthAdjust="spacingAndGlyphs" font-style="italic">u</text><text x="20.59" y="432.8" textLength="17.56" lengthAdjust="spacingAndGlyphs">(x,t)</text><text x="41.18" y="432.8" textLength="8.91" lengthAdjust="spacingAndGlyphs">of</text><text x="53.19" y="432.8" textLength="10.76" lengthAdjust="spacingAndGlyphs">1D</text><text x="66.89" y="432.8" textLength="14.12" lengthAdjust="spacingAndGlyphs">AC</text><text x="83.95" y="432.8" textLength="38.82" lengthAdjust="spacingAndGlyphs">equation</text><text x="125.80" y="432.8" textLength="43.28" lengthAdjust="spacingAndGlyphs">predictied</text><text x="0" y="446.6" textLength="10.08" lengthAdjust="spacingAndGlyphs">by</text><text x="13.53" y="446.6" textLength="40.50" lengthAdjust="spacingAndGlyphs">SWPINN</text></g>
<rect x="494.0" y="52.9" width="18.0" height="327.4" fill="url(#cb)" stroke="#222" stroke-width="0.9"/>
<path d="M512.00 52.90h2.9M512.00 93.82h2.9M512.00 134.75h2.9M512.00 175.67h2.9M512.00 216.60h2.9M512.00 257.52h2.9M512.00 298.45h2.9M512.00 339.37h2.9M512.00 380.30h2.9" stroke="#111" stroke-width="0.9" fill="none"/>
<g font-family="Liberation Serif, serif" font-size="12" fill="#1a1a1a"><text x="519.0" y="57.30">1.00</text><text x="519.0" y="98.22">0.75</text><text x="519.0" y="139.15">0.50</text><text x="519.0" y="180.07">0.25</text><text x="519.0" y="221.00">0.00</text><text x="519.0" y="261.92">−0.25</text><text x="519.0" y="302.85">−0.50</text><text x="519.0" y="343.77">−0.75</text><text x="519.0" y="384.70">−1.00</text></g>
<text x="495.4" y="39.8" font-family="Liberation Serif, serif" font-style="italic" font-size="18" fill="#111" stroke="#111" stroke-width="0.3" textLength="45">u(x,t)</text>
</svg></body></html>
